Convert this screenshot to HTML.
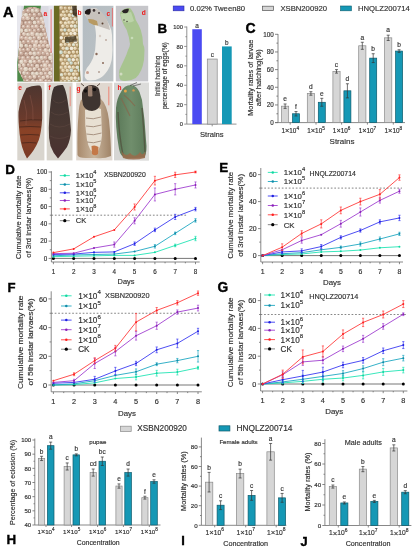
<!DOCTYPE html><html><head><meta charset="utf-8"><style>html,body{margin:0;padding:0;background:#fff;overflow:hidden}svg{display:block;will-change:transform}text{font-family:"Liberation Sans",sans-serif}</style></head><body>
<svg width="416" height="550" viewBox="0 0 416 550">
<rect width="416" height="550" fill="#fff"/>
<defs>
<pattern id="eggA" patternUnits="userSpaceOnUse" width="4.2" height="3.8" x="18" y="6">
 <rect width="4.2" height="3.8" fill="#b89888"/>
 <circle cx="2.1" cy="1.9" r="1.75" fill="#d8c4b4"/>
 <circle cx="1.7" cy="1.4" r="0.8" fill="#ece2d8"/>
</pattern>
<pattern id="eggA2" patternUnits="userSpaceOnUse" width="4.2" height="3.8" x="20.1" y="7.9">
 <circle cx="2.1" cy="1.9" r="1.5" fill="#cdb3a3" opacity="0.8"/>
</pattern>
<pattern id="eggB" patternUnits="userSpaceOnUse" width="3.6" height="3.4" x="58" y="6">
 <rect width="3.6" height="3.4" fill="#a88858"/>
 <circle cx="1.8" cy="1.7" r="1.5" fill="#e0d2b0"/>
 <circle cx="1.5" cy="1.3" r="0.7" fill="#f4f0e4"/>
</pattern>
<linearGradient id="gBgC" x1="0" y1="0" x2="1" y2="1"><stop offset="0" stop-color="#b4bcc2"/><stop offset="1" stop-color="#bcc2c4"/></linearGradient>
<linearGradient id="gE" x1="0" y1="0" x2="0" y2="1"><stop offset="0" stop-color="#4e3630"/><stop offset="0.45" stop-color="#6a3a2c"/><stop offset="0.62" stop-color="#8a4226"/><stop offset="1" stop-color="#7a3a26"/></linearGradient>
<linearGradient id="gF" x1="0" y1="0" x2="0" y2="1"><stop offset="0" stop-color="#3c3230"/><stop offset="0.6" stop-color="#4a3832"/><stop offset="1" stop-color="#4a3030"/></linearGradient>
<linearGradient id="gGw" x1="0" y1="0" x2="1" y2="0"><stop offset="0" stop-color="#a88a6c"/><stop offset="0.5" stop-color="#c8b49c"/><stop offset="1" stop-color="#a08468"/></linearGradient>
<linearGradient id="gH" x1="0" y1="0" x2="1" y2="0"><stop offset="0" stop-color="#5a7858"/><stop offset="0.5" stop-color="#708e6c"/><stop offset="1" stop-color="#5c7a5a"/></linearGradient>
</defs>
<rect x="17.30" y="5.80" width="36.20" height="75.60" fill="#dadae2" stroke="none" stroke-width="0.8" />
<rect x="17.30" y="5.80" width="4.00" height="75.60" fill="#e8e8ee" stroke="none" stroke-width="0.8" />
<rect x="48.50" y="5.80" width="5.00" height="75.60" fill="#e4e4ec" stroke="none" stroke-width="0.8" />
<path d="M24,5.8 L41,5.8 L28,81.4 L17.3,81.4 L17.3,62 Z" fill="#4e8a48"/>
<clipPath id="clipA"><path d="M23,10 Q31,4.5 40,9 Q43,16 44,22 L47,36 L50,48 L52.5,54 L52.5,81.4 L24,81.4 L18.3,70 L18.3,58 L19.5,40 L21,22 Z"/></clipPath>
<g clip-path="url(#clipA)">
<rect x="17.00" y="5.00" width="37.00" height="77.00" fill="#a88878" stroke="none" stroke-width="0.8" />
<circle cx="16.79" cy="6.65" r="2.23" fill="#d4b8a8"/>
<circle cx="16.29" cy="6.05" r="1.00" fill="#efe6dc" opacity="0.8"/>
<circle cx="21.79" cy="6.59" r="2.19" fill="#d8c8b8"/>
<circle cx="21.29" cy="5.99" r="0.99" fill="#efe6dc" opacity="0.8"/>
<circle cx="25.46" cy="6.59" r="2.11" fill="#cfb2a2"/>
<circle cx="24.96" cy="5.99" r="0.95" fill="#efe6dc" opacity="0.8"/>
<circle cx="29.71" cy="6.92" r="2.31" fill="#d4b8a8"/>
<circle cx="29.21" cy="6.32" r="1.04" fill="#efe6dc" opacity="0.8"/>
<circle cx="35.14" cy="7.13" r="2.19" fill="#d4b8a8"/>
<circle cx="34.64" cy="6.53" r="0.99" fill="#efe6dc" opacity="0.8"/>
<circle cx="39.09" cy="6.90" r="2.39" fill="#d4b8a8"/>
<circle cx="38.59" cy="6.30" r="1.07" fill="#efe6dc" opacity="0.8"/>
<circle cx="43.47" cy="6.63" r="2.11" fill="#d8c8b8"/>
<circle cx="42.97" cy="6.03" r="0.95" fill="#efe6dc" opacity="0.8"/>
<circle cx="47.34" cy="6.81" r="2.31" fill="#cfb2a2"/>
<circle cx="46.84" cy="6.21" r="1.04" fill="#efe6dc" opacity="0.8"/>
<circle cx="51.72" cy="7.07" r="1.99" fill="#d4b8a8"/>
<circle cx="51.22" cy="6.47" r="0.90" fill="#efe6dc" opacity="0.8"/>
<circle cx="19.26" cy="10.46" r="1.93" fill="#cfb2a2"/>
<circle cx="18.76" cy="9.86" r="0.87" fill="#efe6dc" opacity="0.8"/>
<circle cx="23.60" cy="10.93" r="2.29" fill="#c8aa9a"/>
<circle cx="23.10" cy="10.33" r="1.03" fill="#efe6dc" opacity="0.8"/>
<circle cx="28.10" cy="10.85" r="2.05" fill="#cfb2a2"/>
<circle cx="27.60" cy="10.25" r="0.92" fill="#efe6dc" opacity="0.8"/>
<circle cx="32.64" cy="10.64" r="2.19" fill="#d8c8b8"/>
<circle cx="32.14" cy="10.04" r="0.98" fill="#efe6dc" opacity="0.8"/>
<circle cx="36.79" cy="10.74" r="2.12" fill="#d8c8b8"/>
<circle cx="36.29" cy="10.14" r="0.96" fill="#efe6dc" opacity="0.8"/>
<circle cx="41.78" cy="10.52" r="2.11" fill="#dcc6b6"/>
<circle cx="41.28" cy="9.92" r="0.95" fill="#efe6dc" opacity="0.8"/>
<circle cx="45.18" cy="10.89" r="1.92" fill="#e0d4c4"/>
<circle cx="44.68" cy="10.29" r="0.86" fill="#efe6dc" opacity="0.8"/>
<circle cx="49.49" cy="10.96" r="2.29" fill="#dcc6b6"/>
<circle cx="48.99" cy="10.36" r="1.03" fill="#efe6dc" opacity="0.8"/>
<circle cx="54.21" cy="10.75" r="2.15" fill="#c8aa9a"/>
<circle cx="53.71" cy="10.15" r="0.97" fill="#efe6dc" opacity="0.8"/>
<circle cx="16.48" cy="14.39" r="2.03" fill="#e0d4c4"/>
<circle cx="15.98" cy="13.79" r="0.92" fill="#efe6dc" opacity="0.8"/>
<circle cx="21.60" cy="14.36" r="2.25" fill="#e0d4c4"/>
<circle cx="21.10" cy="13.76" r="1.01" fill="#efe6dc" opacity="0.8"/>
<circle cx="25.89" cy="14.98" r="2.12" fill="#e0d4c4"/>
<circle cx="25.39" cy="14.38" r="0.96" fill="#efe6dc" opacity="0.8"/>
<circle cx="30.06" cy="14.97" r="1.91" fill="#c8aa9a"/>
<circle cx="29.56" cy="14.37" r="0.86" fill="#efe6dc" opacity="0.8"/>
<circle cx="34.43" cy="14.91" r="2.15" fill="#cfb2a2"/>
<circle cx="33.93" cy="14.31" r="0.97" fill="#efe6dc" opacity="0.8"/>
<circle cx="39.32" cy="14.43" r="2.02" fill="#c8aa9a"/>
<circle cx="38.82" cy="13.83" r="0.91" fill="#efe6dc" opacity="0.8"/>
<circle cx="43.90" cy="14.80" r="1.98" fill="#c8aa9a"/>
<circle cx="43.40" cy="14.20" r="0.89" fill="#efe6dc" opacity="0.8"/>
<circle cx="47.86" cy="15.18" r="2.31" fill="#d8c8b8"/>
<circle cx="47.36" cy="14.58" r="1.04" fill="#efe6dc" opacity="0.8"/>
<circle cx="51.93" cy="14.72" r="2.08" fill="#c8aa9a"/>
<circle cx="51.43" cy="14.12" r="0.94" fill="#efe6dc" opacity="0.8"/>
<circle cx="19.75" cy="18.35" r="1.99" fill="#cfb2a2"/>
<circle cx="19.25" cy="17.75" r="0.89" fill="#efe6dc" opacity="0.8"/>
<circle cx="23.79" cy="18.21" r="2.32" fill="#cfb2a2"/>
<circle cx="23.29" cy="17.61" r="1.04" fill="#efe6dc" opacity="0.8"/>
<circle cx="27.72" cy="18.20" r="2.11" fill="#dcc6b6"/>
<circle cx="27.22" cy="17.60" r="0.95" fill="#efe6dc" opacity="0.8"/>
<circle cx="32.53" cy="18.52" r="1.96" fill="#d8c8b8"/>
<circle cx="32.03" cy="17.92" r="0.88" fill="#efe6dc" opacity="0.8"/>
<circle cx="37.34" cy="18.85" r="2.27" fill="#c8aa9a"/>
<circle cx="36.84" cy="18.25" r="1.02" fill="#efe6dc" opacity="0.8"/>
<circle cx="41.68" cy="18.98" r="2.34" fill="#d8c8b8"/>
<circle cx="41.18" cy="18.38" r="1.05" fill="#efe6dc" opacity="0.8"/>
<circle cx="45.47" cy="18.60" r="1.95" fill="#e0d4c4"/>
<circle cx="44.97" cy="18.00" r="0.88" fill="#efe6dc" opacity="0.8"/>
<circle cx="49.88" cy="18.39" r="2.39" fill="#c8aa9a"/>
<circle cx="49.38" cy="17.79" r="1.08" fill="#efe6dc" opacity="0.8"/>
<circle cx="53.99" cy="18.54" r="1.93" fill="#d4b8a8"/>
<circle cx="53.49" cy="17.94" r="0.87" fill="#efe6dc" opacity="0.8"/>
<circle cx="17.08" cy="22.64" r="2.37" fill="#d8c8b8"/>
<circle cx="16.58" cy="22.04" r="1.07" fill="#efe6dc" opacity="0.8"/>
<circle cx="20.83" cy="22.97" r="2.21" fill="#cfb2a2"/>
<circle cx="20.33" cy="22.37" r="0.99" fill="#efe6dc" opacity="0.8"/>
<circle cx="25.96" cy="23.06" r="2.20" fill="#c8aa9a"/>
<circle cx="25.46" cy="22.46" r="0.99" fill="#efe6dc" opacity="0.8"/>
<circle cx="29.75" cy="22.95" r="2.40" fill="#c8aa9a"/>
<circle cx="29.25" cy="22.35" r="1.08" fill="#efe6dc" opacity="0.8"/>
<circle cx="34.58" cy="22.41" r="1.97" fill="#e0d4c4"/>
<circle cx="34.08" cy="21.81" r="0.89" fill="#efe6dc" opacity="0.8"/>
<circle cx="38.81" cy="22.36" r="2.31" fill="#cfb2a2"/>
<circle cx="38.31" cy="21.76" r="1.04" fill="#efe6dc" opacity="0.8"/>
<circle cx="43.42" cy="22.31" r="2.38" fill="#dcc6b6"/>
<circle cx="42.92" cy="21.71" r="1.07" fill="#efe6dc" opacity="0.8"/>
<circle cx="47.38" cy="22.64" r="1.91" fill="#d8c8b8"/>
<circle cx="46.88" cy="22.04" r="0.86" fill="#efe6dc" opacity="0.8"/>
<circle cx="51.96" cy="22.74" r="1.95" fill="#dcc6b6"/>
<circle cx="51.46" cy="22.14" r="0.88" fill="#efe6dc" opacity="0.8"/>
<circle cx="19.22" cy="26.91" r="2.08" fill="#cfb2a2"/>
<circle cx="18.72" cy="26.31" r="0.94" fill="#efe6dc" opacity="0.8"/>
<circle cx="23.64" cy="26.78" r="2.06" fill="#cfb2a2"/>
<circle cx="23.14" cy="26.18" r="0.93" fill="#efe6dc" opacity="0.8"/>
<circle cx="28.14" cy="26.79" r="2.28" fill="#cfb2a2"/>
<circle cx="27.64" cy="26.19" r="1.03" fill="#efe6dc" opacity="0.8"/>
<circle cx="32.77" cy="26.82" r="2.27" fill="#cfb2a2"/>
<circle cx="32.27" cy="26.22" r="1.02" fill="#efe6dc" opacity="0.8"/>
<circle cx="36.44" cy="26.49" r="2.27" fill="#d4b8a8"/>
<circle cx="35.94" cy="25.89" r="1.02" fill="#efe6dc" opacity="0.8"/>
<circle cx="41.55" cy="26.47" r="2.00" fill="#d8c8b8"/>
<circle cx="41.05" cy="25.87" r="0.90" fill="#efe6dc" opacity="0.8"/>
<circle cx="46.15" cy="26.45" r="2.37" fill="#dcc6b6"/>
<circle cx="45.65" cy="25.85" r="1.07" fill="#efe6dc" opacity="0.8"/>
<circle cx="50.55" cy="26.36" r="2.01" fill="#cfb2a2"/>
<circle cx="50.05" cy="25.76" r="0.90" fill="#efe6dc" opacity="0.8"/>
<circle cx="54.36" cy="26.34" r="2.14" fill="#d8c8b8"/>
<circle cx="53.86" cy="25.74" r="0.96" fill="#efe6dc" opacity="0.8"/>
<circle cx="17.41" cy="30.38" r="2.23" fill="#e0d4c4"/>
<circle cx="16.91" cy="29.78" r="1.00" fill="#efe6dc" opacity="0.8"/>
<circle cx="20.90" cy="30.56" r="2.35" fill="#e0d4c4"/>
<circle cx="20.40" cy="29.96" r="1.06" fill="#efe6dc" opacity="0.8"/>
<circle cx="26.10" cy="30.38" r="1.99" fill="#e0d4c4"/>
<circle cx="25.60" cy="29.78" r="0.90" fill="#efe6dc" opacity="0.8"/>
<circle cx="30.00" cy="30.70" r="2.39" fill="#c8aa9a"/>
<circle cx="29.50" cy="30.10" r="1.07" fill="#efe6dc" opacity="0.8"/>
<circle cx="34.56" cy="30.64" r="1.94" fill="#cfb2a2"/>
<circle cx="34.06" cy="30.04" r="0.87" fill="#efe6dc" opacity="0.8"/>
<circle cx="38.60" cy="30.03" r="1.98" fill="#c8aa9a"/>
<circle cx="38.10" cy="29.43" r="0.89" fill="#efe6dc" opacity="0.8"/>
<circle cx="43.77" cy="30.05" r="2.31" fill="#c8aa9a"/>
<circle cx="43.27" cy="29.45" r="1.04" fill="#efe6dc" opacity="0.8"/>
<circle cx="47.99" cy="30.25" r="2.17" fill="#cfb2a2"/>
<circle cx="47.49" cy="29.65" r="0.98" fill="#efe6dc" opacity="0.8"/>
<circle cx="51.63" cy="30.70" r="2.26" fill="#d4b8a8"/>
<circle cx="51.13" cy="30.10" r="1.02" fill="#efe6dc" opacity="0.8"/>
<circle cx="19.23" cy="34.73" r="2.12" fill="#cfb2a2"/>
<circle cx="18.73" cy="34.13" r="0.95" fill="#efe6dc" opacity="0.8"/>
<circle cx="23.99" cy="34.01" r="2.03" fill="#dcc6b6"/>
<circle cx="23.49" cy="33.41" r="0.91" fill="#efe6dc" opacity="0.8"/>
<circle cx="28.00" cy="34.56" r="2.06" fill="#d8c8b8"/>
<circle cx="27.50" cy="33.96" r="0.93" fill="#efe6dc" opacity="0.8"/>
<circle cx="32.30" cy="33.93" r="2.36" fill="#dcc6b6"/>
<circle cx="31.80" cy="33.33" r="1.06" fill="#efe6dc" opacity="0.8"/>
<circle cx="37.28" cy="34.46" r="2.31" fill="#d8c8b8"/>
<circle cx="36.78" cy="33.86" r="1.04" fill="#efe6dc" opacity="0.8"/>
<circle cx="41.10" cy="34.72" r="2.15" fill="#d8c8b8"/>
<circle cx="40.60" cy="34.12" r="0.97" fill="#efe6dc" opacity="0.8"/>
<circle cx="45.18" cy="34.31" r="2.34" fill="#cfb2a2"/>
<circle cx="44.68" cy="33.71" r="1.05" fill="#efe6dc" opacity="0.8"/>
<circle cx="50.13" cy="34.58" r="1.97" fill="#cfb2a2"/>
<circle cx="49.63" cy="33.98" r="0.89" fill="#efe6dc" opacity="0.8"/>
<circle cx="54.37" cy="34.53" r="2.18" fill="#dcc6b6"/>
<circle cx="53.87" cy="33.93" r="0.98" fill="#efe6dc" opacity="0.8"/>
<circle cx="17.22" cy="38.23" r="2.14" fill="#d4b8a8"/>
<circle cx="16.72" cy="37.63" r="0.96" fill="#efe6dc" opacity="0.8"/>
<circle cx="21.86" cy="37.76" r="2.00" fill="#d4b8a8"/>
<circle cx="21.36" cy="37.16" r="0.90" fill="#efe6dc" opacity="0.8"/>
<circle cx="26.13" cy="38.21" r="2.18" fill="#d4b8a8"/>
<circle cx="25.63" cy="37.61" r="0.98" fill="#efe6dc" opacity="0.8"/>
<circle cx="30.13" cy="38.31" r="2.15" fill="#d8c8b8"/>
<circle cx="29.63" cy="37.71" r="0.97" fill="#efe6dc" opacity="0.8"/>
<circle cx="34.24" cy="37.98" r="2.15" fill="#c8aa9a"/>
<circle cx="33.74" cy="37.38" r="0.97" fill="#efe6dc" opacity="0.8"/>
<circle cx="39.01" cy="37.95" r="2.16" fill="#dcc6b6"/>
<circle cx="38.51" cy="37.35" r="0.97" fill="#efe6dc" opacity="0.8"/>
<circle cx="43.91" cy="38.59" r="2.00" fill="#c8aa9a"/>
<circle cx="43.41" cy="37.99" r="0.90" fill="#efe6dc" opacity="0.8"/>
<circle cx="47.36" cy="37.82" r="2.12" fill="#d4b8a8"/>
<circle cx="46.86" cy="37.22" r="0.95" fill="#efe6dc" opacity="0.8"/>
<circle cx="52.41" cy="38.13" r="2.01" fill="#dcc6b6"/>
<circle cx="51.91" cy="37.53" r="0.90" fill="#efe6dc" opacity="0.8"/>
<circle cx="19.54" cy="42.50" r="1.98" fill="#e0d4c4"/>
<circle cx="19.04" cy="41.90" r="0.89" fill="#efe6dc" opacity="0.8"/>
<circle cx="23.77" cy="41.97" r="2.03" fill="#cfb2a2"/>
<circle cx="23.27" cy="41.37" r="0.91" fill="#efe6dc" opacity="0.8"/>
<circle cx="28.56" cy="41.82" r="2.38" fill="#c8aa9a"/>
<circle cx="28.06" cy="41.22" r="1.07" fill="#efe6dc" opacity="0.8"/>
<circle cx="32.86" cy="41.76" r="2.23" fill="#cfb2a2"/>
<circle cx="32.36" cy="41.16" r="1.01" fill="#efe6dc" opacity="0.8"/>
<circle cx="36.39" cy="42.03" r="2.16" fill="#dcc6b6"/>
<circle cx="35.89" cy="41.43" r="0.97" fill="#efe6dc" opacity="0.8"/>
<circle cx="41.11" cy="41.96" r="1.95" fill="#dcc6b6"/>
<circle cx="40.61" cy="41.36" r="0.88" fill="#efe6dc" opacity="0.8"/>
<circle cx="45.02" cy="42.15" r="2.12" fill="#d4b8a8"/>
<circle cx="44.52" cy="41.55" r="0.95" fill="#efe6dc" opacity="0.8"/>
<circle cx="49.86" cy="42.12" r="2.05" fill="#d4b8a8"/>
<circle cx="49.36" cy="41.52" r="0.92" fill="#efe6dc" opacity="0.8"/>
<circle cx="53.94" cy="42.52" r="2.01" fill="#d4b8a8"/>
<circle cx="53.44" cy="41.92" r="0.91" fill="#efe6dc" opacity="0.8"/>
<circle cx="16.50" cy="45.77" r="2.35" fill="#cfb2a2"/>
<circle cx="16.00" cy="45.17" r="1.06" fill="#efe6dc" opacity="0.8"/>
<circle cx="21.12" cy="45.63" r="2.11" fill="#e0d4c4"/>
<circle cx="20.62" cy="45.03" r="0.95" fill="#efe6dc" opacity="0.8"/>
<circle cx="26.18" cy="45.76" r="1.97" fill="#d8c8b8"/>
<circle cx="25.68" cy="45.16" r="0.89" fill="#efe6dc" opacity="0.8"/>
<circle cx="30.28" cy="46.20" r="1.94" fill="#d4b8a8"/>
<circle cx="29.78" cy="45.60" r="0.88" fill="#efe6dc" opacity="0.8"/>
<circle cx="34.96" cy="45.68" r="2.35" fill="#dcc6b6"/>
<circle cx="34.46" cy="45.08" r="1.06" fill="#efe6dc" opacity="0.8"/>
<circle cx="39.53" cy="46.13" r="2.30" fill="#d4b8a8"/>
<circle cx="39.03" cy="45.53" r="1.04" fill="#efe6dc" opacity="0.8"/>
<circle cx="43.53" cy="45.72" r="2.03" fill="#d4b8a8"/>
<circle cx="43.03" cy="45.12" r="0.91" fill="#efe6dc" opacity="0.8"/>
<circle cx="47.74" cy="45.84" r="2.18" fill="#dcc6b6"/>
<circle cx="47.24" cy="45.24" r="0.98" fill="#efe6dc" opacity="0.8"/>
<circle cx="52.35" cy="45.54" r="2.25" fill="#d4b8a8"/>
<circle cx="51.85" cy="44.94" r="1.01" fill="#efe6dc" opacity="0.8"/>
<circle cx="19.76" cy="49.66" r="1.99" fill="#dcc6b6"/>
<circle cx="19.26" cy="49.06" r="0.90" fill="#efe6dc" opacity="0.8"/>
<circle cx="23.75" cy="49.93" r="2.00" fill="#c8aa9a"/>
<circle cx="23.25" cy="49.33" r="0.90" fill="#efe6dc" opacity="0.8"/>
<circle cx="28.00" cy="49.58" r="2.07" fill="#d4b8a8"/>
<circle cx="27.50" cy="48.98" r="0.93" fill="#efe6dc" opacity="0.8"/>
<circle cx="32.99" cy="49.44" r="1.91" fill="#d8c8b8"/>
<circle cx="32.49" cy="48.84" r="0.86" fill="#efe6dc" opacity="0.8"/>
<circle cx="36.86" cy="49.59" r="2.14" fill="#c8aa9a"/>
<circle cx="36.36" cy="48.99" r="0.96" fill="#efe6dc" opacity="0.8"/>
<circle cx="40.73" cy="50.22" r="2.12" fill="#c8aa9a"/>
<circle cx="40.23" cy="49.62" r="0.95" fill="#efe6dc" opacity="0.8"/>
<circle cx="45.66" cy="50.29" r="2.39" fill="#dcc6b6"/>
<circle cx="45.16" cy="49.69" r="1.07" fill="#efe6dc" opacity="0.8"/>
<circle cx="50.23" cy="50.38" r="2.07" fill="#e0d4c4"/>
<circle cx="49.73" cy="49.78" r="0.93" fill="#efe6dc" opacity="0.8"/>
<circle cx="54.67" cy="49.54" r="2.39" fill="#d4b8a8"/>
<circle cx="54.17" cy="48.94" r="1.08" fill="#efe6dc" opacity="0.8"/>
<circle cx="17.40" cy="53.31" r="2.21" fill="#dcc6b6"/>
<circle cx="16.90" cy="52.71" r="1.00" fill="#efe6dc" opacity="0.8"/>
<circle cx="21.32" cy="53.36" r="2.23" fill="#c8aa9a"/>
<circle cx="20.82" cy="52.76" r="1.00" fill="#efe6dc" opacity="0.8"/>
<circle cx="26.24" cy="53.97" r="2.04" fill="#cfb2a2"/>
<circle cx="25.74" cy="53.37" r="0.92" fill="#efe6dc" opacity="0.8"/>
<circle cx="30.43" cy="53.35" r="1.99" fill="#dcc6b6"/>
<circle cx="29.93" cy="52.75" r="0.90" fill="#efe6dc" opacity="0.8"/>
<circle cx="34.53" cy="53.56" r="2.38" fill="#d8c8b8"/>
<circle cx="34.03" cy="52.96" r="1.07" fill="#efe6dc" opacity="0.8"/>
<circle cx="38.79" cy="53.33" r="2.34" fill="#cfb2a2"/>
<circle cx="38.29" cy="52.73" r="1.05" fill="#efe6dc" opacity="0.8"/>
<circle cx="43.23" cy="53.30" r="2.09" fill="#c8aa9a"/>
<circle cx="42.73" cy="52.70" r="0.94" fill="#efe6dc" opacity="0.8"/>
<circle cx="47.53" cy="53.96" r="2.02" fill="#d4b8a8"/>
<circle cx="47.03" cy="53.36" r="0.91" fill="#efe6dc" opacity="0.8"/>
<circle cx="51.71" cy="54.12" r="1.97" fill="#d8c8b8"/>
<circle cx="51.21" cy="53.52" r="0.89" fill="#efe6dc" opacity="0.8"/>
<circle cx="18.65" cy="57.22" r="2.05" fill="#cfb2a2"/>
<circle cx="18.15" cy="56.62" r="0.92" fill="#efe6dc" opacity="0.8"/>
<circle cx="23.10" cy="58.16" r="2.33" fill="#cfb2a2"/>
<circle cx="22.60" cy="57.56" r="1.05" fill="#efe6dc" opacity="0.8"/>
<circle cx="28.19" cy="57.92" r="2.34" fill="#c8aa9a"/>
<circle cx="27.69" cy="57.32" r="1.05" fill="#efe6dc" opacity="0.8"/>
<circle cx="32.72" cy="57.92" r="2.15" fill="#dcc6b6"/>
<circle cx="32.22" cy="57.32" r="0.97" fill="#efe6dc" opacity="0.8"/>
<circle cx="37.07" cy="57.84" r="1.92" fill="#e0d4c4"/>
<circle cx="36.57" cy="57.24" r="0.86" fill="#efe6dc" opacity="0.8"/>
<circle cx="41.67" cy="57.83" r="2.27" fill="#d8c8b8"/>
<circle cx="41.17" cy="57.23" r="1.02" fill="#efe6dc" opacity="0.8"/>
<circle cx="45.17" cy="57.72" r="2.15" fill="#d4b8a8"/>
<circle cx="44.67" cy="57.12" r="0.97" fill="#efe6dc" opacity="0.8"/>
<circle cx="50.39" cy="57.78" r="2.35" fill="#e0d4c4"/>
<circle cx="49.89" cy="57.18" r="1.06" fill="#efe6dc" opacity="0.8"/>
<circle cx="54.95" cy="57.84" r="1.94" fill="#d4b8a8"/>
<circle cx="54.45" cy="57.24" r="0.87" fill="#efe6dc" opacity="0.8"/>
<circle cx="16.56" cy="61.46" r="1.95" fill="#c8aa9a"/>
<circle cx="16.06" cy="60.86" r="0.88" fill="#efe6dc" opacity="0.8"/>
<circle cx="21.47" cy="61.73" r="2.21" fill="#e0d4c4"/>
<circle cx="20.97" cy="61.13" r="1.00" fill="#efe6dc" opacity="0.8"/>
<circle cx="25.49" cy="61.36" r="2.13" fill="#d4b8a8"/>
<circle cx="24.99" cy="60.76" r="0.96" fill="#efe6dc" opacity="0.8"/>
<circle cx="30.50" cy="61.60" r="2.17" fill="#e0d4c4"/>
<circle cx="30.00" cy="61.00" r="0.98" fill="#efe6dc" opacity="0.8"/>
<circle cx="34.63" cy="61.85" r="2.14" fill="#d4b8a8"/>
<circle cx="34.13" cy="61.25" r="0.96" fill="#efe6dc" opacity="0.8"/>
<circle cx="39.42" cy="61.33" r="2.28" fill="#cfb2a2"/>
<circle cx="38.92" cy="60.73" r="1.03" fill="#efe6dc" opacity="0.8"/>
<circle cx="43.69" cy="62.08" r="2.15" fill="#c8aa9a"/>
<circle cx="43.19" cy="61.48" r="0.97" fill="#efe6dc" opacity="0.8"/>
<circle cx="47.29" cy="62.01" r="2.04" fill="#d4b8a8"/>
<circle cx="46.79" cy="61.41" r="0.92" fill="#efe6dc" opacity="0.8"/>
<circle cx="52.34" cy="61.74" r="1.94" fill="#cfb2a2"/>
<circle cx="51.84" cy="61.14" r="0.87" fill="#efe6dc" opacity="0.8"/>
<circle cx="19.00" cy="65.65" r="2.25" fill="#d8c8b8"/>
<circle cx="18.50" cy="65.05" r="1.01" fill="#efe6dc" opacity="0.8"/>
<circle cx="23.68" cy="65.01" r="1.93" fill="#dcc6b6"/>
<circle cx="23.18" cy="64.41" r="0.87" fill="#efe6dc" opacity="0.8"/>
<circle cx="28.57" cy="65.10" r="2.01" fill="#c8aa9a"/>
<circle cx="28.07" cy="64.50" r="0.90" fill="#efe6dc" opacity="0.8"/>
<circle cx="32.15" cy="65.52" r="2.13" fill="#c8aa9a"/>
<circle cx="31.65" cy="64.92" r="0.96" fill="#efe6dc" opacity="0.8"/>
<circle cx="37.12" cy="65.99" r="2.17" fill="#dcc6b6"/>
<circle cx="36.62" cy="65.39" r="0.98" fill="#efe6dc" opacity="0.8"/>
<circle cx="41.77" cy="65.94" r="1.91" fill="#c8aa9a"/>
<circle cx="41.27" cy="65.34" r="0.86" fill="#efe6dc" opacity="0.8"/>
<circle cx="45.09" cy="65.51" r="2.40" fill="#dcc6b6"/>
<circle cx="44.59" cy="64.91" r="1.08" fill="#efe6dc" opacity="0.8"/>
<circle cx="49.86" cy="65.92" r="2.37" fill="#d4b8a8"/>
<circle cx="49.36" cy="65.32" r="1.06" fill="#efe6dc" opacity="0.8"/>
<circle cx="54.50" cy="65.14" r="2.16" fill="#dcc6b6"/>
<circle cx="54.00" cy="64.54" r="0.97" fill="#efe6dc" opacity="0.8"/>
<circle cx="16.56" cy="69.72" r="2.15" fill="#d4b8a8"/>
<circle cx="16.06" cy="69.12" r="0.97" fill="#efe6dc" opacity="0.8"/>
<circle cx="21.64" cy="69.13" r="2.35" fill="#c8aa9a"/>
<circle cx="21.14" cy="68.53" r="1.06" fill="#efe6dc" opacity="0.8"/>
<circle cx="25.67" cy="69.06" r="2.37" fill="#e0d4c4"/>
<circle cx="25.17" cy="68.46" r="1.07" fill="#efe6dc" opacity="0.8"/>
<circle cx="30.14" cy="69.20" r="1.97" fill="#dcc6b6"/>
<circle cx="29.64" cy="68.60" r="0.89" fill="#efe6dc" opacity="0.8"/>
<circle cx="34.45" cy="69.02" r="2.07" fill="#dcc6b6"/>
<circle cx="33.95" cy="68.42" r="0.93" fill="#efe6dc" opacity="0.8"/>
<circle cx="39.30" cy="69.74" r="1.96" fill="#cfb2a2"/>
<circle cx="38.80" cy="69.14" r="0.88" fill="#efe6dc" opacity="0.8"/>
<circle cx="43.66" cy="69.80" r="2.04" fill="#dcc6b6"/>
<circle cx="43.16" cy="69.20" r="0.92" fill="#efe6dc" opacity="0.8"/>
<circle cx="47.28" cy="69.29" r="2.33" fill="#d4b8a8"/>
<circle cx="46.78" cy="68.69" r="1.05" fill="#efe6dc" opacity="0.8"/>
<circle cx="52.03" cy="69.33" r="2.04" fill="#d4b8a8"/>
<circle cx="51.53" cy="68.73" r="0.92" fill="#efe6dc" opacity="0.8"/>
<circle cx="18.94" cy="72.85" r="2.23" fill="#e0d4c4"/>
<circle cx="18.44" cy="72.25" r="1.00" fill="#efe6dc" opacity="0.8"/>
<circle cx="24.12" cy="73.05" r="2.03" fill="#d8c8b8"/>
<circle cx="23.62" cy="72.45" r="0.91" fill="#efe6dc" opacity="0.8"/>
<circle cx="27.78" cy="73.57" r="2.29" fill="#c8aa9a"/>
<circle cx="27.28" cy="72.97" r="1.03" fill="#efe6dc" opacity="0.8"/>
<circle cx="32.86" cy="73.61" r="2.22" fill="#d8c8b8"/>
<circle cx="32.36" cy="73.01" r="1.00" fill="#efe6dc" opacity="0.8"/>
<circle cx="36.86" cy="73.52" r="1.92" fill="#e0d4c4"/>
<circle cx="36.36" cy="72.92" r="0.87" fill="#efe6dc" opacity="0.8"/>
<circle cx="41.09" cy="73.41" r="1.97" fill="#dcc6b6"/>
<circle cx="40.59" cy="72.81" r="0.89" fill="#efe6dc" opacity="0.8"/>
<circle cx="45.58" cy="73.71" r="2.18" fill="#cfb2a2"/>
<circle cx="45.08" cy="73.11" r="0.98" fill="#efe6dc" opacity="0.8"/>
<circle cx="49.97" cy="73.14" r="2.05" fill="#e0d4c4"/>
<circle cx="49.47" cy="72.54" r="0.92" fill="#efe6dc" opacity="0.8"/>
<circle cx="54.69" cy="73.45" r="2.10" fill="#cfb2a2"/>
<circle cx="54.19" cy="72.85" r="0.95" fill="#efe6dc" opacity="0.8"/>
<circle cx="16.76" cy="77.26" r="2.10" fill="#cfb2a2"/>
<circle cx="16.26" cy="76.66" r="0.94" fill="#efe6dc" opacity="0.8"/>
<circle cx="21.57" cy="76.78" r="2.15" fill="#c8aa9a"/>
<circle cx="21.07" cy="76.18" r="0.97" fill="#efe6dc" opacity="0.8"/>
<circle cx="25.86" cy="77.15" r="2.07" fill="#c8aa9a"/>
<circle cx="25.36" cy="76.55" r="0.93" fill="#efe6dc" opacity="0.8"/>
<circle cx="30.11" cy="77.25" r="2.02" fill="#cfb2a2"/>
<circle cx="29.61" cy="76.65" r="0.91" fill="#efe6dc" opacity="0.8"/>
<circle cx="34.41" cy="76.79" r="2.02" fill="#dcc6b6"/>
<circle cx="33.91" cy="76.19" r="0.91" fill="#efe6dc" opacity="0.8"/>
<circle cx="39.37" cy="76.90" r="1.91" fill="#c8aa9a"/>
<circle cx="38.87" cy="76.30" r="0.86" fill="#efe6dc" opacity="0.8"/>
<circle cx="43.26" cy="77.45" r="2.01" fill="#dcc6b6"/>
<circle cx="42.76" cy="76.85" r="0.90" fill="#efe6dc" opacity="0.8"/>
<circle cx="47.61" cy="76.76" r="2.04" fill="#dcc6b6"/>
<circle cx="47.11" cy="76.16" r="0.92" fill="#efe6dc" opacity="0.8"/>
<circle cx="51.75" cy="77.20" r="2.21" fill="#cfb2a2"/>
<circle cx="51.25" cy="76.60" r="1.00" fill="#efe6dc" opacity="0.8"/>
<circle cx="18.71" cy="81.50" r="2.09" fill="#e0d4c4"/>
<circle cx="18.21" cy="80.90" r="0.94" fill="#efe6dc" opacity="0.8"/>
<circle cx="23.54" cy="81.55" r="2.32" fill="#d4b8a8"/>
<circle cx="23.04" cy="80.95" r="1.05" fill="#efe6dc" opacity="0.8"/>
<circle cx="27.55" cy="81.03" r="2.28" fill="#c8aa9a"/>
<circle cx="27.05" cy="80.43" r="1.03" fill="#efe6dc" opacity="0.8"/>
<circle cx="32.96" cy="81.09" r="1.94" fill="#d8c8b8"/>
<circle cx="32.46" cy="80.49" r="0.87" fill="#efe6dc" opacity="0.8"/>
<circle cx="37.23" cy="81.57" r="2.02" fill="#d4b8a8"/>
<circle cx="36.73" cy="80.97" r="0.91" fill="#efe6dc" opacity="0.8"/>
<circle cx="40.87" cy="80.75" r="2.39" fill="#d4b8a8"/>
<circle cx="40.37" cy="80.15" r="1.07" fill="#efe6dc" opacity="0.8"/>
<circle cx="46.13" cy="81.32" r="2.22" fill="#c8aa9a"/>
<circle cx="45.63" cy="80.72" r="1.00" fill="#efe6dc" opacity="0.8"/>
<circle cx="49.50" cy="81.38" r="1.90" fill="#cfb2a2"/>
<circle cx="49.00" cy="80.78" r="0.86" fill="#efe6dc" opacity="0.8"/>
<circle cx="54.08" cy="81.52" r="2.22" fill="#dcc6b6"/>
<circle cx="53.58" cy="80.92" r="1.00" fill="#efe6dc" opacity="0.8"/>
</g>
<line x1="51.10" y1="9.30" x2="51.10" y2="52.70" stroke="#f04848" stroke-width="0.7" />
<text x="43.60" y="15.60" font-family="Liberation Serif" font-weight="bold" font-size="6.6" fill="#f01818">a</text>
<rect x="53.90" y="5.80" width="28.50" height="75.60" fill="#f2f0ee" stroke="none" stroke-width="0.8" />
<path d="M53.9,5.8 L76.6,5.8 L80.6,81.4 L53.9,81.4 Z" fill="#6a6a24"/>
<clipPath id="clipB"><path d="M59.2,5.8 L76.6,5.8 L79.8,81.4 L59.6,81.4 Z"/></clipPath>
<g clip-path="url(#clipB)">
<rect x="58.00" y="5.00" width="23.00" height="77.00" fill="#a88c60" stroke="none" stroke-width="0.8" />
<circle cx="61.16" cy="7.85" r="1.97" fill="#d4c098"/>
<circle cx="60.76" cy="7.45" r="0.89" fill="#faf6ec" opacity="0.6"/>
<circle cx="65.16" cy="8.08" r="1.68" fill="#d4c098"/>
<circle cx="64.76" cy="7.68" r="0.75" fill="#faf6ec" opacity="0.6"/>
<circle cx="69.30" cy="8.03" r="1.64" fill="#e0cca4"/>
<circle cx="68.90" cy="7.63" r="0.74" fill="#faf6ec" opacity="0.6"/>
<circle cx="72.91" cy="7.83" r="1.96" fill="#e4d4b0"/>
<circle cx="72.51" cy="7.43" r="0.88" fill="#faf6ec" opacity="0.6"/>
<circle cx="77.28" cy="7.72" r="1.78" fill="#eadec4"/>
<circle cx="76.88" cy="7.32" r="0.80" fill="#faf6ec" opacity="0.6"/>
<circle cx="63.30" cy="11.77" r="1.63" fill="#e4d4b0"/>
<circle cx="62.90" cy="11.37" r="0.73" fill="#faf6ec" opacity="0.6"/>
<circle cx="66.95" cy="11.29" r="1.61" fill="#d4c098"/>
<circle cx="66.55" cy="10.89" r="0.73" fill="#faf6ec" opacity="0.6"/>
<circle cx="71.06" cy="11.57" r="1.68" fill="#d8dcc8"/>
<circle cx="70.66" cy="11.17" r="0.76" fill="#faf6ec" opacity="0.6"/>
<circle cx="75.31" cy="11.50" r="1.86" fill="#d4c098"/>
<circle cx="74.91" cy="11.10" r="0.84" fill="#faf6ec" opacity="0.6"/>
<circle cx="79.32" cy="11.43" r="1.82" fill="#dccaa4"/>
<circle cx="78.92" cy="11.03" r="0.82" fill="#faf6ec" opacity="0.6"/>
<circle cx="61.37" cy="15.05" r="1.69" fill="#e0cca4"/>
<circle cx="60.97" cy="14.65" r="0.76" fill="#faf6ec" opacity="0.6"/>
<circle cx="64.82" cy="15.25" r="1.64" fill="#dccaa4"/>
<circle cx="64.42" cy="14.85" r="0.74" fill="#faf6ec" opacity="0.6"/>
<circle cx="69.48" cy="15.11" r="1.98" fill="#e4d4b0"/>
<circle cx="69.08" cy="14.71" r="0.89" fill="#faf6ec" opacity="0.6"/>
<circle cx="72.97" cy="15.54" r="1.62" fill="#c8d8cc"/>
<circle cx="72.57" cy="15.14" r="0.73" fill="#faf6ec" opacity="0.6"/>
<circle cx="77.58" cy="15.12" r="1.63" fill="#d8dcc8"/>
<circle cx="77.18" cy="14.72" r="0.73" fill="#faf6ec" opacity="0.6"/>
<circle cx="63.42" cy="18.72" r="1.63" fill="#f0e8d6"/>
<circle cx="63.02" cy="18.32" r="0.74" fill="#faf6ec" opacity="0.6"/>
<circle cx="66.81" cy="18.83" r="1.97" fill="#eadec4"/>
<circle cx="66.41" cy="18.43" r="0.89" fill="#faf6ec" opacity="0.6"/>
<circle cx="71.00" cy="18.58" r="1.62" fill="#d4c098"/>
<circle cx="70.60" cy="18.18" r="0.73" fill="#faf6ec" opacity="0.6"/>
<circle cx="74.94" cy="18.95" r="1.78" fill="#d8dcc8"/>
<circle cx="74.54" cy="18.55" r="0.80" fill="#faf6ec" opacity="0.6"/>
<circle cx="79.59" cy="19.12" r="1.77" fill="#c8d8cc"/>
<circle cx="79.19" cy="18.72" r="0.80" fill="#faf6ec" opacity="0.6"/>
<circle cx="60.89" cy="22.54" r="1.69" fill="#e0cca4"/>
<circle cx="60.49" cy="22.14" r="0.76" fill="#faf6ec" opacity="0.6"/>
<circle cx="65.49" cy="22.98" r="1.84" fill="#e4d4b0"/>
<circle cx="65.09" cy="22.58" r="0.83" fill="#faf6ec" opacity="0.6"/>
<circle cx="68.97" cy="22.52" r="1.94" fill="#dccaa4"/>
<circle cx="68.57" cy="22.12" r="0.87" fill="#faf6ec" opacity="0.6"/>
<circle cx="72.83" cy="22.32" r="1.78" fill="#e4d4b0"/>
<circle cx="72.43" cy="21.92" r="0.80" fill="#faf6ec" opacity="0.6"/>
<circle cx="77.42" cy="22.46" r="1.72" fill="#dccaa4"/>
<circle cx="77.02" cy="22.06" r="0.77" fill="#faf6ec" opacity="0.6"/>
<circle cx="62.86" cy="26.07" r="1.85" fill="#e4d4b0"/>
<circle cx="62.46" cy="25.67" r="0.83" fill="#faf6ec" opacity="0.6"/>
<circle cx="67.28" cy="26.20" r="1.78" fill="#d4c098"/>
<circle cx="66.88" cy="25.80" r="0.80" fill="#faf6ec" opacity="0.6"/>
<circle cx="71.47" cy="26.01" r="1.75" fill="#eadec4"/>
<circle cx="71.07" cy="25.61" r="0.79" fill="#faf6ec" opacity="0.6"/>
<circle cx="75.05" cy="26.08" r="1.84" fill="#d8dcc8"/>
<circle cx="74.65" cy="25.68" r="0.83" fill="#faf6ec" opacity="0.6"/>
<circle cx="78.93" cy="26.40" r="1.82" fill="#c8d8cc"/>
<circle cx="78.53" cy="26.00" r="0.82" fill="#faf6ec" opacity="0.6"/>
<circle cx="61.51" cy="30.08" r="1.77" fill="#dccaa4"/>
<circle cx="61.11" cy="29.68" r="0.80" fill="#faf6ec" opacity="0.6"/>
<circle cx="64.89" cy="30.01" r="1.70" fill="#c8d8cc"/>
<circle cx="64.49" cy="29.61" r="0.77" fill="#faf6ec" opacity="0.6"/>
<circle cx="69.01" cy="30.26" r="1.84" fill="#e0cca4"/>
<circle cx="68.61" cy="29.86" r="0.83" fill="#faf6ec" opacity="0.6"/>
<circle cx="73.22" cy="30.34" r="1.99" fill="#eadec4"/>
<circle cx="72.82" cy="29.94" r="0.90" fill="#faf6ec" opacity="0.6"/>
<circle cx="76.98" cy="30.05" r="1.94" fill="#dccaa4"/>
<circle cx="76.58" cy="29.65" r="0.87" fill="#faf6ec" opacity="0.6"/>
<circle cx="63.02" cy="34.03" r="1.68" fill="#e4d4b0"/>
<circle cx="62.62" cy="33.63" r="0.76" fill="#faf6ec" opacity="0.6"/>
<circle cx="66.86" cy="33.63" r="1.70" fill="#e4d4b0"/>
<circle cx="66.46" cy="33.23" r="0.76" fill="#faf6ec" opacity="0.6"/>
<circle cx="70.94" cy="33.60" r="1.83" fill="#eadec4"/>
<circle cx="70.54" cy="33.20" r="0.82" fill="#faf6ec" opacity="0.6"/>
<circle cx="74.87" cy="33.41" r="1.78" fill="#f0e8d6"/>
<circle cx="74.47" cy="33.01" r="0.80" fill="#faf6ec" opacity="0.6"/>
<circle cx="79.33" cy="33.85" r="1.83" fill="#eadec4"/>
<circle cx="78.93" cy="33.45" r="0.83" fill="#faf6ec" opacity="0.6"/>
<circle cx="61.27" cy="37.74" r="1.79" fill="#f0e8d6"/>
<circle cx="60.87" cy="37.34" r="0.81" fill="#faf6ec" opacity="0.6"/>
<circle cx="65.36" cy="37.77" r="1.61" fill="#dccaa4"/>
<circle cx="64.96" cy="37.37" r="0.72" fill="#faf6ec" opacity="0.6"/>
<circle cx="69.19" cy="37.58" r="1.73" fill="#dccaa4"/>
<circle cx="68.79" cy="37.18" r="0.78" fill="#faf6ec" opacity="0.6"/>
<circle cx="72.86" cy="37.44" r="1.89" fill="#eadec4"/>
<circle cx="72.46" cy="37.04" r="0.85" fill="#faf6ec" opacity="0.6"/>
<circle cx="77.43" cy="37.73" r="1.74" fill="#d4c098"/>
<circle cx="77.03" cy="37.33" r="0.78" fill="#faf6ec" opacity="0.6"/>
<circle cx="63.52" cy="41.40" r="1.77" fill="#e4d4b0"/>
<circle cx="63.12" cy="41.00" r="0.80" fill="#faf6ec" opacity="0.6"/>
<circle cx="67.49" cy="41.16" r="1.85" fill="#c8d8cc"/>
<circle cx="67.09" cy="40.76" r="0.83" fill="#faf6ec" opacity="0.6"/>
<circle cx="71.10" cy="40.71" r="1.63" fill="#dccaa4"/>
<circle cx="70.70" cy="40.31" r="0.73" fill="#faf6ec" opacity="0.6"/>
<circle cx="75.31" cy="41.49" r="1.95" fill="#f0e8d6"/>
<circle cx="74.91" cy="41.09" r="0.88" fill="#faf6ec" opacity="0.6"/>
<circle cx="79.11" cy="41.29" r="1.83" fill="#d4c098"/>
<circle cx="78.71" cy="40.89" r="0.82" fill="#faf6ec" opacity="0.6"/>
<circle cx="61.17" cy="44.83" r="1.81" fill="#e4d4b0"/>
<circle cx="60.77" cy="44.43" r="0.81" fill="#faf6ec" opacity="0.6"/>
<circle cx="65.05" cy="44.47" r="1.61" fill="#dccaa4"/>
<circle cx="64.65" cy="44.07" r="0.72" fill="#faf6ec" opacity="0.6"/>
<circle cx="69.20" cy="44.89" r="1.97" fill="#e0cca4"/>
<circle cx="68.80" cy="44.49" r="0.89" fill="#faf6ec" opacity="0.6"/>
<circle cx="73.52" cy="44.69" r="1.66" fill="#d8dcc8"/>
<circle cx="73.12" cy="44.29" r="0.75" fill="#faf6ec" opacity="0.6"/>
<circle cx="77.21" cy="45.00" r="1.74" fill="#d4c098"/>
<circle cx="76.81" cy="44.60" r="0.78" fill="#faf6ec" opacity="0.6"/>
<circle cx="63.20" cy="48.29" r="1.76" fill="#e0cca4"/>
<circle cx="62.80" cy="47.89" r="0.79" fill="#faf6ec" opacity="0.6"/>
<circle cx="66.96" cy="48.44" r="1.92" fill="#d8dcc8"/>
<circle cx="66.56" cy="48.04" r="0.87" fill="#faf6ec" opacity="0.6"/>
<circle cx="71.50" cy="48.41" r="1.83" fill="#f0e8d6"/>
<circle cx="71.10" cy="48.01" r="0.82" fill="#faf6ec" opacity="0.6"/>
<circle cx="74.97" cy="48.21" r="1.74" fill="#e4d4b0"/>
<circle cx="74.57" cy="47.81" r="0.78" fill="#faf6ec" opacity="0.6"/>
<circle cx="79.37" cy="48.86" r="1.71" fill="#eadec4"/>
<circle cx="78.97" cy="48.46" r="0.77" fill="#faf6ec" opacity="0.6"/>
<circle cx="60.89" cy="52.18" r="1.97" fill="#c8d8cc"/>
<circle cx="60.49" cy="51.78" r="0.89" fill="#faf6ec" opacity="0.6"/>
<circle cx="65.11" cy="52.22" r="1.87" fill="#d4c098"/>
<circle cx="64.71" cy="51.82" r="0.84" fill="#faf6ec" opacity="0.6"/>
<circle cx="69.06" cy="52.46" r="1.71" fill="#e4d4b0"/>
<circle cx="68.66" cy="52.06" r="0.77" fill="#faf6ec" opacity="0.6"/>
<circle cx="73.34" cy="52.02" r="1.74" fill="#e4d4b0"/>
<circle cx="72.94" cy="51.62" r="0.78" fill="#faf6ec" opacity="0.6"/>
<circle cx="77.31" cy="52.12" r="1.68" fill="#e0cca4"/>
<circle cx="76.91" cy="51.72" r="0.75" fill="#faf6ec" opacity="0.6"/>
<circle cx="62.99" cy="55.61" r="1.62" fill="#dccaa4"/>
<circle cx="62.59" cy="55.21" r="0.73" fill="#faf6ec" opacity="0.6"/>
<circle cx="67.16" cy="56.00" r="1.86" fill="#f0e8d6"/>
<circle cx="66.76" cy="55.60" r="0.84" fill="#faf6ec" opacity="0.6"/>
<circle cx="71.57" cy="56.05" r="1.68" fill="#d4c098"/>
<circle cx="71.17" cy="55.65" r="0.76" fill="#faf6ec" opacity="0.6"/>
<circle cx="75.00" cy="56.07" r="1.90" fill="#e4d4b0"/>
<circle cx="74.60" cy="55.67" r="0.86" fill="#faf6ec" opacity="0.6"/>
<circle cx="78.94" cy="55.72" r="1.74" fill="#eadec4"/>
<circle cx="78.54" cy="55.32" r="0.78" fill="#faf6ec" opacity="0.6"/>
<circle cx="61.11" cy="59.83" r="1.96" fill="#dccaa4"/>
<circle cx="60.71" cy="59.43" r="0.88" fill="#faf6ec" opacity="0.6"/>
<circle cx="65.13" cy="59.91" r="1.76" fill="#d4c098"/>
<circle cx="64.73" cy="59.51" r="0.79" fill="#faf6ec" opacity="0.6"/>
<circle cx="69.16" cy="59.70" r="1.96" fill="#c8d8cc"/>
<circle cx="68.76" cy="59.30" r="0.88" fill="#faf6ec" opacity="0.6"/>
<circle cx="73.24" cy="59.72" r="1.80" fill="#f0e8d6"/>
<circle cx="72.84" cy="59.32" r="0.81" fill="#faf6ec" opacity="0.6"/>
<circle cx="77.17" cy="59.72" r="1.68" fill="#dccaa4"/>
<circle cx="76.77" cy="59.32" r="0.76" fill="#faf6ec" opacity="0.6"/>
<circle cx="62.97" cy="63.62" r="1.99" fill="#e0cca4"/>
<circle cx="62.57" cy="63.22" r="0.90" fill="#faf6ec" opacity="0.6"/>
<circle cx="67.23" cy="63.53" r="1.73" fill="#e4d4b0"/>
<circle cx="66.83" cy="63.13" r="0.78" fill="#faf6ec" opacity="0.6"/>
<circle cx="71.08" cy="62.97" r="1.78" fill="#c8d8cc"/>
<circle cx="70.68" cy="62.57" r="0.80" fill="#faf6ec" opacity="0.6"/>
<circle cx="75.41" cy="63.29" r="1.61" fill="#dccaa4"/>
<circle cx="75.01" cy="62.89" r="0.73" fill="#faf6ec" opacity="0.6"/>
<circle cx="79.14" cy="62.93" r="1.81" fill="#eadec4"/>
<circle cx="78.74" cy="62.53" r="0.82" fill="#faf6ec" opacity="0.6"/>
<circle cx="61.18" cy="67.40" r="1.96" fill="#d4c098"/>
<circle cx="60.78" cy="67.00" r="0.88" fill="#faf6ec" opacity="0.6"/>
<circle cx="65.56" cy="66.99" r="1.98" fill="#dccaa4"/>
<circle cx="65.16" cy="66.59" r="0.89" fill="#faf6ec" opacity="0.6"/>
<circle cx="69.41" cy="66.95" r="1.82" fill="#eadec4"/>
<circle cx="69.01" cy="66.55" r="0.82" fill="#faf6ec" opacity="0.6"/>
<circle cx="73.22" cy="67.27" r="1.82" fill="#e0cca4"/>
<circle cx="72.82" cy="66.87" r="0.82" fill="#faf6ec" opacity="0.6"/>
<circle cx="77.34" cy="67.36" r="1.95" fill="#d8dcc8"/>
<circle cx="76.94" cy="66.96" r="0.88" fill="#faf6ec" opacity="0.6"/>
<circle cx="63.04" cy="70.41" r="1.82" fill="#e0cca4"/>
<circle cx="62.64" cy="70.01" r="0.82" fill="#faf6ec" opacity="0.6"/>
<circle cx="67.26" cy="70.46" r="1.81" fill="#e4d4b0"/>
<circle cx="66.86" cy="70.06" r="0.82" fill="#faf6ec" opacity="0.6"/>
<circle cx="71.28" cy="70.32" r="1.99" fill="#c8d8cc"/>
<circle cx="70.88" cy="69.92" r="0.89" fill="#faf6ec" opacity="0.6"/>
<circle cx="75.24" cy="71.09" r="1.65" fill="#dccaa4"/>
<circle cx="74.84" cy="70.69" r="0.74" fill="#faf6ec" opacity="0.6"/>
<circle cx="79.35" cy="70.35" r="1.82" fill="#c8d8cc"/>
<circle cx="78.95" cy="69.95" r="0.82" fill="#faf6ec" opacity="0.6"/>
<circle cx="61.54" cy="74.64" r="1.76" fill="#d8dcc8"/>
<circle cx="61.14" cy="74.24" r="0.79" fill="#faf6ec" opacity="0.6"/>
<circle cx="65.18" cy="74.10" r="1.77" fill="#d4c098"/>
<circle cx="64.78" cy="73.70" r="0.80" fill="#faf6ec" opacity="0.6"/>
<circle cx="69.22" cy="74.09" r="1.77" fill="#e4d4b0"/>
<circle cx="68.82" cy="73.69" r="0.80" fill="#faf6ec" opacity="0.6"/>
<circle cx="73.54" cy="74.10" r="1.91" fill="#e4d4b0"/>
<circle cx="73.14" cy="73.70" r="0.86" fill="#faf6ec" opacity="0.6"/>
<circle cx="76.83" cy="74.12" r="1.60" fill="#e0cca4"/>
<circle cx="76.43" cy="73.72" r="0.72" fill="#faf6ec" opacity="0.6"/>
<circle cx="63.06" cy="77.98" r="1.85" fill="#dccaa4"/>
<circle cx="62.66" cy="77.58" r="0.83" fill="#faf6ec" opacity="0.6"/>
<circle cx="67.20" cy="78.17" r="1.94" fill="#e0cca4"/>
<circle cx="66.80" cy="77.77" r="0.87" fill="#faf6ec" opacity="0.6"/>
<circle cx="71.37" cy="78.26" r="1.95" fill="#e4d4b0"/>
<circle cx="70.97" cy="77.86" r="0.88" fill="#faf6ec" opacity="0.6"/>
<circle cx="75.10" cy="78.03" r="1.81" fill="#eadec4"/>
<circle cx="74.70" cy="77.63" r="0.82" fill="#faf6ec" opacity="0.6"/>
<circle cx="79.23" cy="78.39" r="1.81" fill="#d8dcc8"/>
<circle cx="78.83" cy="77.99" r="0.82" fill="#faf6ec" opacity="0.6"/>
<circle cx="61.22" cy="82.08" r="1.84" fill="#eadec4"/>
<circle cx="60.82" cy="81.68" r="0.83" fill="#faf6ec" opacity="0.6"/>
<circle cx="64.99" cy="81.99" r="1.92" fill="#eadec4"/>
<circle cx="64.59" cy="81.59" r="0.87" fill="#faf6ec" opacity="0.6"/>
<circle cx="69.05" cy="81.65" r="1.97" fill="#d8dcc8"/>
<circle cx="68.65" cy="81.25" r="0.89" fill="#faf6ec" opacity="0.6"/>
<circle cx="73.42" cy="81.56" r="1.64" fill="#d8dcc8"/>
<circle cx="73.02" cy="81.16" r="0.74" fill="#faf6ec" opacity="0.6"/>
<circle cx="76.91" cy="81.47" r="1.76" fill="#c8d8cc"/>
<circle cx="76.51" cy="81.07" r="0.79" fill="#faf6ec" opacity="0.6"/>
</g>
<path d="M72,6 L76.6,6 L77.2,17 L73,15 Z" fill="#2e2418" opacity="0.8"/>
<path d="M65,37 L76,36 L77,41.5 L65,42.5 Z" fill="#3a2e1a" opacity="0.75"/>
<text x="77.60" y="15.20" font-family="Liberation Serif" font-weight="bold" font-size="6.6" fill="#f01818">b</text>
<rect x="82.60" y="5.80" width="30.80" height="75.60" fill="url(#gBgC)" stroke="none" stroke-width="0.8" />
<path d="M84.2,12 Q88,7.8 96,8.2 Q100,10.5 103,15 Q107,20 109.3,25 Q112,30 112,35 L112.5,50 Q112.2,56 111.7,60 Q110.5,66 107.9,70 Q104,76 100.2,78 Q96,80.5 90,80.6 Q85,80.2 84.6,76 Q84.4,72 86.9,68 Q89.5,65 91.1,62 Q93.5,58 93.9,55 Q95.5,50 95.5,45 Q96,38 96,35 Q95.5,28 94.6,25 Q92,22 89.7,20 Q86.5,17.5 85,15 Z" fill="#eeece8"/>
<path d="M85,12 Q88,8 96,8.5 Q102,11 106,18 Q109,24 110,30 Q104,28 98,26 Q92,22 88,19 Q85,16 85,12 Z" fill="#c8c2bc"/>
<path d="M84.8,11.5 Q86.5,8.6 90.5,8.8 Q91.5,12 89.5,14.5 Q86.5,15 84.8,13.5 Z" fill="#201818"/>
<circle cx="94" cy="10.4" r="1.3" fill="#3a3030"/><circle cx="99" cy="13" r="0.9" fill="#403434"/>
<path d="M88,19 Q93,18.5 97,21 L98,25.5 Q93,25.5 89,22.5 Z" fill="#b89a62"/>
<circle cx="102.5" cy="23.5" r="1" fill="#5a4030"/><circle cx="96.5" cy="54" r="1.2" fill="#8a6a5a"/><circle cx="103" cy="63" r="1" fill="#8a6a5a"/><circle cx="87.5" cy="72.5" r="1.5" fill="#c8a090"/><circle cx="99" cy="72" r="0.8" fill="#8a6a5a"/><circle cx="106" cy="40" r="0.8" fill="#a08070"/><circle cx="100" cy="36" r="1.2" fill="#d8ccc4"/>
<line x1="112.40" y1="8.00" x2="112.40" y2="26.50" stroke="#f05050" stroke-width="0.7" />
<text x="106.60" y="15.80" font-family="Liberation Serif" font-weight="bold" font-size="6.6" fill="#f01818">c</text>
<rect x="115.80" y="5.80" width="32.40" height="75.60" fill="#c6c6ca" stroke="none" stroke-width="0.8" />
<path d="M120,13 Q123,7.6 130,8 Q134,12 135.8,20 Q139,25 140.8,30 Q143,37 143,44 Q144.5,47 144.5,50 L144,60 Q143,66 141.3,70 Q139,75 135.8,78 Q131,81 125,81 Q120,80.8 119.5,78 Q118.5,74 119.4,70 Q121.5,65 124,60 Q126.5,55 128,50 Q130,46 130,44 Q129,36 126.7,30 Q123.5,25 121.7,20 Q120.3,16 120,13 Z" fill="#a8c490"/>
<path d="M121.8,11.2 Q124,8.2 128.8,8.8 Q129,12.6 125.8,13.6 Q123,13.6 121.8,11.2 Z" fill="#2a2424"/>
<path d="M120.5,14 Q125,14 131,12 L134,21 Q128,24 122.5,21 Z" fill="#bcd4a8"/>
<circle cx="124" cy="20" r="0.7" fill="#403a30"/><circle cx="127" cy="21.5" r="0.7" fill="#403a30"/><circle cx="132" cy="38" r="1.3" fill="#c8dcb8"/><circle cx="121" cy="74" r="1.5" fill="#d0dcc0"/>
<text x="141.80" y="15.40" font-family="Liberation Serif" font-weight="bold" font-size="6.6" fill="#f01818">d</text>
<rect x="17.30" y="82.70" width="27.10" height="77.70" fill="#d9d5ce" stroke="none" stroke-width="0.8" />
<path d="M26.5,88 Q32,85 39.5,85.5 Q42,86.5 42,92 L42.2,118 Q41.5,132 38.8,140 Q35,150 27,158.5 Q21,148 19.6,134 Q18.2,120 18.5,112 Q20,100 26.5,88 Z" fill="url(#gE)"/>
<path d="M20,121 Q30,119 42,120 M19.5,127 Q30,126 41,127 M20.5,135 Q30,134 39,135 M22,143 Q30,142 36.5,143" stroke="#3a2018" stroke-width="0.9" fill="none" opacity="0.7"/>
<path d="M24,100 Q28,112 26,125 M30,95 Q34,108 33,120" stroke="#9a6050" stroke-width="0.6" fill="none" opacity="0.6"/>
<text x="18.20" y="90.20" font-family="Liberation Serif" font-weight="bold" font-size="6.6" fill="#f01818">e</text>
<rect x="46.70" y="82.70" width="25.80" height="77.70" fill="#d8d4cc" stroke="none" stroke-width="0.8" />
<path d="M54,87 Q58,84.5 63,85 Q66,90 67.5,100 Q70,115 71,130 Q70.5,140 67,147 Q62,154 58,158.5 Q53,153 50.5,146 Q48.5,138 48.8,128 Q49.5,110 51.5,96 Q52.5,90 54,87 Z" fill="url(#gF)"/>
<path d="M53,100 Q58,106 66,100 M51,112 Q58,118 68,112 M50,124 Q59,130 70,124 M50,136 Q59,141 69,136" stroke="#6a5048" stroke-width="0.6" fill="none" opacity="0.6"/>
<line x1="70.20" y1="86.50" x2="70.20" y2="106.20" stroke="#f07060" stroke-width="0.7" />
<text x="48.40" y="90.20" font-family="Liberation Serif" font-weight="bold" font-size="6.6" fill="#f01818">f</text>
<rect x="76.20" y="82.70" width="36.20" height="77.70" fill="#e0d8d0" stroke="none" stroke-width="0.8" />
<path d="M81,100 Q90,94 100,98 Q107,104 109,120 Q111,140 111,156 Q104,159 96,158 L86,158 Q78,158 77.5,155 Q77,130 78.5,115 Q79,104 81,100 Z" fill="url(#gGw)"/>
<path d="M85,110 Q93,106 101,109 L102,135 Q101,148 96,154 Q89,152 87,140 Q84.5,125 85,110 Z" fill="#e8e0d2"/>
<path d="M86,118 Q93,120 101,117 M86,126 Q93,128 101.5,125 M86.5,134 Q93,136 101.5,133 M87,142 Q93,144 101,141" stroke="#a08a78" stroke-width="0.9" fill="none"/>
<path d="M82,93 Q84,86 90,85 Q96,84.5 99,89 Q101,96 100.5,104 Q99,110 92,111 Q85,110.5 83,105 Q81.5,99 82,93 Z" fill="#3e3430"/>
<path d="M88,86 Q90,85 92,86 L92.5,96 Q90,97 88,96 Z" fill="#9a8070"/>
<path d="M84,86 L81,83.5 M97,86 L100,83.5" stroke="#4a3a30" stroke-width="0.9"/>
<circle cx="85.5" cy="91" r="1.8" fill="#141010"/><circle cx="94.5" cy="89.5" r="1.8" fill="#141010"/>
<path d="M91.5,146 Q95,144.5 98.5,147 L98,154 Q95,156.5 92,154 Z" fill="#c47848"/>
<line x1="108.80" y1="86.60" x2="108.80" y2="105.30" stroke="#f07060" stroke-width="0.8" />
<text x="76.60" y="91.40" font-family="Liberation Serif" font-weight="bold" font-size="6.6" fill="#f01818">g</text>
<rect x="114.00" y="82.70" width="34.90" height="77.70" fill="#d6d6d4" stroke="none" stroke-width="0.8" />
<rect x="140.00" y="82.70" width="8.90" height="77.70" fill="#dcdcda" stroke="none" stroke-width="0.8" />
<path d="M121,92 Q124,85 131,85 Q137,86 139.5,92 L142,100 Q145,120 146,140 Q147.5,152 144.5,157.5 L126,158.5 Q120.5,157 119,149 Q115,126 116,108 Q116.8,98 121,92 Z" fill="url(#gH)"/>
<path d="M118,112 Q119,135 123,155 M142,108 Q144,130 145,152" stroke="#4a4032" stroke-width="1.4" fill="none" opacity="0.55"/>
<path d="M121,98 Q125,106 130,116 M124,95 Q130,100 135,106" stroke="#8a6448" stroke-width="1.1" opacity="0.7" fill="none"/>
<path d="M121,150 Q125,158 130,153 Q135,159 140,152 Q143,157 145.5,151 L145,158 Q133,161 123,158 Z" fill="#9a6a4a" opacity="0.85"/>
<path d="M130,85.5 L137,82.5 M133,86 L141,84" stroke="#3a3a36" stroke-width="0.6"/>
<circle cx="125.4" cy="91" r="1.5" fill="#e8a448"/><circle cx="133.5" cy="90.4" r="1.2" fill="#d89850"/>
<text x="117.40" y="89.80" font-family="Liberation Serif" font-weight="bold" font-size="6.6" fill="#f01818">h</text>
<text x="3.00" y="16.60" font-size="14.6" font-weight="bold" fill="#000" stroke="#000" stroke-width="0.35">A</text>
<text x="157.40" y="33.40" font-size="13.4" font-weight="bold" fill="#000" stroke="#000" stroke-width="0.35">B</text>
<text x="245.60" y="33.20" font-size="14.0" font-weight="bold" fill="#000" stroke="#000" stroke-width="0.35">C</text>
<text x="5.30" y="173.60" font-size="13.4" font-weight="bold" fill="#000" stroke="#000" stroke-width="0.35">D</text>
<text x="219.30" y="172.10" font-size="13.4" font-weight="bold" fill="#000" stroke="#000" stroke-width="0.35">E</text>
<text x="7.40" y="292.40" font-size="13.2" font-weight="bold" fill="#000" stroke="#000" stroke-width="0.35">F</text>
<text x="217.60" y="291.90" font-size="13.8" font-weight="bold" fill="#000" stroke="#000" stroke-width="0.35">G</text>
<text x="6.50" y="544.30" font-size="13.4" font-weight="bold" fill="#000" stroke="#000" stroke-width="0.35">H</text>
<text x="181.20" y="544.50" font-size="12.8" font-weight="bold" fill="#000" stroke="#000" stroke-width="0.35">I</text>
<text x="300.60" y="545.60" font-size="12.8" font-weight="bold" fill="#000" stroke="#000" stroke-width="0.35">J</text>
<rect x="173.20" y="6.00" width="10.80" height="4.80" fill="#4a4af2" stroke="#2a2aa0" stroke-width="0.6" />
<text x="190.00" y="10.90" font-size="7.7" text-anchor="start" font-weight="normal" fill="#303030" stroke="#303030" stroke-width="0.16" >0.02% Tween80</text>
<rect x="262.40" y="6.20" width="11.20" height="4.40" fill="#d6d6d6" stroke="#555" stroke-width="0.7" />
<text x="280.40" y="10.90" font-size="7.7" text-anchor="start" font-weight="normal" fill="#303030" stroke="#303030" stroke-width="0.16" >XSBN200920</text>
<rect x="340.60" y="6.00" width="10.80" height="4.80" fill="#1598b5" stroke="#0c5a6c" stroke-width="0.6" />
<text x="358.00" y="10.90" font-size="7.7" text-anchor="start" font-weight="normal" fill="#303030" stroke="#303030" stroke-width="0.16" >HNQLZ200714</text>
<line x1="186.80" y1="26.50" x2="186.80" y2="124.10" stroke="#777" stroke-width="0.8" />
<line x1="184.20" y1="124.10" x2="186.80" y2="124.10" stroke="#777" stroke-width="0.8" />
<text x="183.00" y="126.19" font-size="5.8" text-anchor="end" font-weight="normal" fill="#333" stroke="#333" stroke-width="0.16" >0</text>
<line x1="184.20" y1="104.68" x2="186.80" y2="104.68" stroke="#777" stroke-width="0.8" />
<text x="183.00" y="106.77" font-size="5.8" text-anchor="end" font-weight="normal" fill="#333" stroke="#333" stroke-width="0.16" >20</text>
<line x1="184.20" y1="85.26" x2="186.80" y2="85.26" stroke="#777" stroke-width="0.8" />
<text x="183.00" y="87.35" font-size="5.8" text-anchor="end" font-weight="normal" fill="#333" stroke="#333" stroke-width="0.16" >40</text>
<line x1="184.20" y1="65.84" x2="186.80" y2="65.84" stroke="#777" stroke-width="0.8" />
<text x="183.00" y="67.93" font-size="5.8" text-anchor="end" font-weight="normal" fill="#333" stroke="#333" stroke-width="0.16" >60</text>
<line x1="184.20" y1="46.42" x2="186.80" y2="46.42" stroke="#777" stroke-width="0.8" />
<text x="183.00" y="48.51" font-size="5.8" text-anchor="end" font-weight="normal" fill="#333" stroke="#333" stroke-width="0.16" >80</text>
<line x1="184.20" y1="27.00" x2="186.80" y2="27.00" stroke="#777" stroke-width="0.8" />
<text x="183.00" y="29.09" font-size="5.8" text-anchor="end" font-weight="normal" fill="#333" stroke="#333" stroke-width="0.16" >100</text>
<line x1="185.40" y1="114.39" x2="186.80" y2="114.39" stroke="#777" stroke-width="0.8" />
<line x1="185.40" y1="94.97" x2="186.80" y2="94.97" stroke="#777" stroke-width="0.8" />
<line x1="185.40" y1="75.55" x2="186.80" y2="75.55" stroke="#777" stroke-width="0.8" />
<line x1="185.40" y1="56.13" x2="186.80" y2="56.13" stroke="#777" stroke-width="0.8" />
<line x1="185.40" y1="36.71" x2="186.80" y2="36.71" stroke="#777" stroke-width="0.8" />
<line x1="186.80" y1="124.10" x2="236.50" y2="124.10" stroke="#777" stroke-width="0.8" />
<line x1="212.20" y1="124.10" x2="212.20" y2="126.30" stroke="#777" stroke-width="0.8" />
<rect x="192.30" y="29.23" width="9.50" height="94.87" fill="#4a4af2" stroke="none" stroke-width="0.7" />
<text x="197.05" y="27.83" font-size="6.4" text-anchor="middle" font-weight="normal" fill="#333" stroke="#333" stroke-width="0.16" >a</text>
<rect x="207.30" y="59.04" width="9.90" height="65.06" fill="#d6d6d6" stroke="#8a8a8a" stroke-width="0.7" />
<text x="212.25" y="57.44" font-size="6.4" text-anchor="middle" font-weight="normal" fill="#333" stroke="#333" stroke-width="0.16" >c</text>
<rect x="222.00" y="46.42" width="9.70" height="77.68" fill="#1598b5" stroke="none" stroke-width="0.7" />
<text x="226.85" y="45.02" font-size="6.4" text-anchor="middle" font-weight="normal" fill="#333" stroke="#333" stroke-width="0.16" >b</text>
<text x="211.80" y="137.00" font-size="7.6" text-anchor="middle" font-weight="normal" fill="#303030" stroke="#303030" stroke-width="0.16" >Strains</text>
<text transform="translate(159.90,96.08) rotate(-90)" font-size="6.3" fill="#333" stroke="#333" stroke-width="0.16" textLength="40.46" lengthAdjust="spacingAndGlyphs">Initial hatching</text>
<text transform="translate(167.40,109.09) rotate(-90)" font-size="6.5" fill="#333" stroke="#333" stroke-width="0.16" textLength="66.88" lengthAdjust="spacingAndGlyphs">percentage of eggs(%)</text>
<line x1="278.00" y1="34.00" x2="278.00" y2="122.60" stroke="#6a6a6a" stroke-width="0.8" />
<line x1="275.00" y1="122.60" x2="278.00" y2="122.60" stroke="#6a6a6a" stroke-width="0.8" />
<text x="273.80" y="124.87" font-size="6.3" text-anchor="end" font-weight="normal" fill="#303030" stroke="#303030" stroke-width="0.16" >0</text>
<line x1="275.00" y1="104.94" x2="278.00" y2="104.94" stroke="#6a6a6a" stroke-width="0.8" />
<text x="273.80" y="107.21" font-size="6.3" text-anchor="end" font-weight="normal" fill="#303030" stroke="#303030" stroke-width="0.16" >20</text>
<line x1="275.00" y1="87.28" x2="278.00" y2="87.28" stroke="#6a6a6a" stroke-width="0.8" />
<text x="273.80" y="89.55" font-size="6.3" text-anchor="end" font-weight="normal" fill="#303030" stroke="#303030" stroke-width="0.16" >40</text>
<line x1="275.00" y1="69.62" x2="278.00" y2="69.62" stroke="#6a6a6a" stroke-width="0.8" />
<text x="273.80" y="71.89" font-size="6.3" text-anchor="end" font-weight="normal" fill="#303030" stroke="#303030" stroke-width="0.16" >60</text>
<line x1="275.00" y1="51.96" x2="278.00" y2="51.96" stroke="#6a6a6a" stroke-width="0.8" />
<text x="273.80" y="54.23" font-size="6.3" text-anchor="end" font-weight="normal" fill="#303030" stroke="#303030" stroke-width="0.16" >80</text>
<line x1="275.00" y1="34.30" x2="278.00" y2="34.30" stroke="#6a6a6a" stroke-width="0.8" />
<text x="273.80" y="36.57" font-size="6.3" text-anchor="end" font-weight="normal" fill="#303030" stroke="#303030" stroke-width="0.16" >100</text>
<line x1="276.40" y1="113.77" x2="278.00" y2="113.77" stroke="#6a6a6a" stroke-width="0.8" />
<line x1="276.40" y1="96.11" x2="278.00" y2="96.11" stroke="#6a6a6a" stroke-width="0.8" />
<line x1="276.40" y1="78.45" x2="278.00" y2="78.45" stroke="#6a6a6a" stroke-width="0.8" />
<line x1="276.40" y1="60.79" x2="278.00" y2="60.79" stroke="#6a6a6a" stroke-width="0.8" />
<line x1="276.40" y1="43.13" x2="278.00" y2="43.13" stroke="#6a6a6a" stroke-width="0.8" />
<line x1="275.00" y1="122.60" x2="405.00" y2="122.60" stroke="#6a6a6a" stroke-width="0.8" />
<line x1="290.20" y1="122.60" x2="290.20" y2="124.60" stroke="#6a6a6a" stroke-width="0.8" />
<rect x="281.50" y="106.18" width="7.20" height="16.42" fill="#d6d6d6" stroke="#8a8a8a" stroke-width="0.7" />
<line x1="285.10" y1="103.97" x2="285.10" y2="108.38" stroke="#333" stroke-width="0.7" />
<line x1="283.60" y1="103.97" x2="286.60" y2="103.97" stroke="#333" stroke-width="0.7" />
<line x1="283.60" y1="108.38" x2="286.60" y2="108.38" stroke="#333" stroke-width="0.7" />
<text x="285.10" y="101.27" font-size="6.6" text-anchor="middle" font-weight="normal" fill="#333" stroke="#333" stroke-width="0.16" >e</text>
<rect x="292.50" y="113.77" width="7.00" height="8.83" fill="#1598b5" stroke="#0c5a6c" stroke-width="0.7" />
<line x1="296.00" y1="111.56" x2="296.00" y2="115.98" stroke="#333" stroke-width="0.7" />
<line x1="294.50" y1="111.56" x2="297.50" y2="111.56" stroke="#333" stroke-width="0.7" />
<line x1="294.50" y1="115.98" x2="297.50" y2="115.98" stroke="#333" stroke-width="0.7" />
<text x="296.00" y="108.86" font-size="6.6" text-anchor="middle" font-weight="normal" fill="#333" stroke="#333" stroke-width="0.16" >f</text>
<text x="281.43" y="133.00" font-size="6.4" fill="#303030" stroke="#303030" stroke-width="0.16">1<tspan font-size="7.36" dy="0.38">×</tspan><tspan dy="-0.38">10</tspan><tspan font-size="4.74" dy="-3.33">4</tspan></text>
<line x1="316.00" y1="122.60" x2="316.00" y2="124.60" stroke="#6a6a6a" stroke-width="0.8" />
<rect x="307.30" y="93.46" width="7.20" height="29.14" fill="#d6d6d6" stroke="#8a8a8a" stroke-width="0.7" />
<line x1="310.90" y1="91.69" x2="310.90" y2="95.23" stroke="#333" stroke-width="0.7" />
<line x1="309.40" y1="91.69" x2="312.40" y2="91.69" stroke="#333" stroke-width="0.7" />
<line x1="309.40" y1="95.23" x2="312.40" y2="95.23" stroke="#333" stroke-width="0.7" />
<text x="310.90" y="88.99" font-size="6.6" text-anchor="middle" font-weight="normal" fill="#333" stroke="#333" stroke-width="0.16" >d</text>
<rect x="318.30" y="102.29" width="7.00" height="20.31" fill="#1598b5" stroke="#0c5a6c" stroke-width="0.7" />
<line x1="321.80" y1="98.32" x2="321.80" y2="106.26" stroke="#333" stroke-width="0.7" />
<line x1="320.30" y1="98.32" x2="323.30" y2="98.32" stroke="#333" stroke-width="0.7" />
<line x1="320.30" y1="106.26" x2="323.30" y2="106.26" stroke="#333" stroke-width="0.7" />
<text x="321.80" y="95.62" font-size="6.6" text-anchor="middle" font-weight="normal" fill="#333" stroke="#333" stroke-width="0.16" >e</text>
<text x="307.23" y="133.00" font-size="6.4" fill="#303030" stroke="#303030" stroke-width="0.16">1<tspan font-size="7.36" dy="0.38">×</tspan><tspan dy="-0.38">10</tspan><tspan font-size="4.74" dy="-3.33">5</tspan></text>
<line x1="341.60" y1="122.60" x2="341.60" y2="124.60" stroke="#6a6a6a" stroke-width="0.8" />
<rect x="332.90" y="71.39" width="7.20" height="51.21" fill="#d6d6d6" stroke="#8a8a8a" stroke-width="0.7" />
<line x1="336.50" y1="69.62" x2="336.50" y2="73.15" stroke="#333" stroke-width="0.7" />
<line x1="335.00" y1="69.62" x2="338.00" y2="69.62" stroke="#333" stroke-width="0.7" />
<line x1="335.00" y1="73.15" x2="338.00" y2="73.15" stroke="#333" stroke-width="0.7" />
<text x="336.50" y="66.92" font-size="6.6" text-anchor="middle" font-weight="normal" fill="#333" stroke="#333" stroke-width="0.16" >c</text>
<rect x="343.90" y="90.81" width="7.00" height="31.79" fill="#1598b5" stroke="#0c5a6c" stroke-width="0.7" />
<line x1="347.40" y1="83.75" x2="347.40" y2="97.88" stroke="#333" stroke-width="0.7" />
<line x1="345.90" y1="83.75" x2="348.90" y2="83.75" stroke="#333" stroke-width="0.7" />
<line x1="345.90" y1="97.88" x2="348.90" y2="97.88" stroke="#333" stroke-width="0.7" />
<text x="347.40" y="81.05" font-size="6.6" text-anchor="middle" font-weight="normal" fill="#333" stroke="#333" stroke-width="0.16" >d</text>
<text x="332.83" y="133.00" font-size="6.4" fill="#303030" stroke="#303030" stroke-width="0.16">1<tspan font-size="7.36" dy="0.38">×</tspan><tspan dy="-0.38">10</tspan><tspan font-size="4.74" dy="-3.33">6</tspan></text>
<line x1="367.40" y1="122.60" x2="367.40" y2="124.60" stroke="#6a6a6a" stroke-width="0.8" />
<rect x="358.70" y="45.78" width="7.20" height="76.82" fill="#d6d6d6" stroke="#8a8a8a" stroke-width="0.7" />
<line x1="362.30" y1="42.25" x2="362.30" y2="49.31" stroke="#333" stroke-width="0.7" />
<line x1="360.80" y1="42.25" x2="363.80" y2="42.25" stroke="#333" stroke-width="0.7" />
<line x1="360.80" y1="49.31" x2="363.80" y2="49.31" stroke="#333" stroke-width="0.7" />
<text x="362.30" y="39.55" font-size="6.6" text-anchor="middle" font-weight="normal" fill="#333" stroke="#333" stroke-width="0.16" >a</text>
<rect x="369.70" y="58.14" width="7.00" height="64.46" fill="#1598b5" stroke="#0c5a6c" stroke-width="0.7" />
<line x1="373.20" y1="53.73" x2="373.20" y2="62.56" stroke="#333" stroke-width="0.7" />
<line x1="371.70" y1="53.73" x2="374.70" y2="53.73" stroke="#333" stroke-width="0.7" />
<line x1="371.70" y1="62.56" x2="374.70" y2="62.56" stroke="#333" stroke-width="0.7" />
<text x="373.20" y="51.03" font-size="6.6" text-anchor="middle" font-weight="normal" fill="#333" stroke="#333" stroke-width="0.16" >b</text>
<text x="358.63" y="133.00" font-size="6.4" fill="#303030" stroke="#303030" stroke-width="0.16">1<tspan font-size="7.36" dy="0.38">×</tspan><tspan dy="-0.38">10</tspan><tspan font-size="4.74" dy="-3.33">7</tspan></text>
<line x1="393.30" y1="122.60" x2="393.30" y2="124.60" stroke="#6a6a6a" stroke-width="0.8" />
<rect x="384.60" y="37.83" width="7.20" height="84.77" fill="#d6d6d6" stroke="#8a8a8a" stroke-width="0.7" />
<line x1="388.20" y1="35.18" x2="388.20" y2="40.48" stroke="#333" stroke-width="0.7" />
<line x1="386.70" y1="35.18" x2="389.70" y2="35.18" stroke="#333" stroke-width="0.7" />
<line x1="386.70" y1="40.48" x2="389.70" y2="40.48" stroke="#333" stroke-width="0.7" />
<text x="388.20" y="32.48" font-size="6.6" text-anchor="middle" font-weight="normal" fill="#333" stroke="#333" stroke-width="0.16" >a</text>
<rect x="395.60" y="51.08" width="7.00" height="71.52" fill="#1598b5" stroke="#0c5a6c" stroke-width="0.7" />
<line x1="399.10" y1="49.75" x2="399.10" y2="52.40" stroke="#333" stroke-width="0.7" />
<line x1="397.60" y1="49.75" x2="400.60" y2="49.75" stroke="#333" stroke-width="0.7" />
<line x1="397.60" y1="52.40" x2="400.60" y2="52.40" stroke="#333" stroke-width="0.7" />
<text x="399.10" y="47.05" font-size="6.6" text-anchor="middle" font-weight="normal" fill="#333" stroke="#333" stroke-width="0.16" >b</text>
<text x="384.53" y="133.00" font-size="6.4" fill="#303030" stroke="#303030" stroke-width="0.16">1<tspan font-size="7.36" dy="0.38">×</tspan><tspan dy="-0.38">10</tspan><tspan font-size="4.74" dy="-3.33">8</tspan></text>
<text x="342.00" y="143.60" font-size="8.0" text-anchor="middle" font-weight="normal" fill="#303030" stroke="#303030" stroke-width="0.16" >Strains</text>
<text transform="translate(253.00,115.74) rotate(-90)" font-size="7.3" fill="#303030" stroke="#303030" stroke-width="0.16" textLength="76.08" lengthAdjust="spacingAndGlyphs">Mortality rates of larvae</text>
<text transform="translate(261.00,106.24) rotate(-90)" font-size="7.4" fill="#303030" stroke="#303030" stroke-width="0.16" textLength="57.09" lengthAdjust="spacingAndGlyphs">after hatching(%)</text>
<rect x="120.40" y="426.20" width="10.80" height="5.20" fill="#d6d6d6" stroke="#8a8a8a" stroke-width="0.7" />
<text x="137.30" y="431.40" font-size="8.2" text-anchor="start" font-weight="normal" fill="#303030" stroke="#303030" stroke-width="0.16" >XSBN200920</text>
<rect x="219.00" y="425.80" width="10.90" height="5.20" fill="#1598b5" stroke="#0c5a6c" stroke-width="0.7" />
<text x="236.40" y="431.20" font-size="8.35" text-anchor="start" font-weight="normal" fill="#303030" stroke="#303030" stroke-width="0.16" >HNQLZ200714</text>
<line x1="34.80" y1="438.50" x2="34.80" y2="525.00" stroke="#6a6a6a" stroke-width="0.8" />
<line x1="32.40" y1="525.00" x2="34.80" y2="525.00" stroke="#6a6a6a" stroke-width="0.8" />
<text x="31.20" y="527.20" font-size="6.0" text-anchor="end" font-weight="normal" fill="#303030" stroke="#303030" stroke-width="0.16" >40</text>
<line x1="32.40" y1="510.83" x2="34.80" y2="510.83" stroke="#6a6a6a" stroke-width="0.8" />
<text x="31.20" y="513.03" font-size="6.0" text-anchor="end" font-weight="normal" fill="#303030" stroke="#303030" stroke-width="0.16" >50</text>
<line x1="32.40" y1="496.67" x2="34.80" y2="496.67" stroke="#6a6a6a" stroke-width="0.8" />
<text x="31.20" y="498.87" font-size="6.0" text-anchor="end" font-weight="normal" fill="#303030" stroke="#303030" stroke-width="0.16" >60</text>
<line x1="32.40" y1="482.50" x2="34.80" y2="482.50" stroke="#6a6a6a" stroke-width="0.8" />
<text x="31.20" y="484.70" font-size="6.0" text-anchor="end" font-weight="normal" fill="#303030" stroke="#303030" stroke-width="0.16" >70</text>
<line x1="32.40" y1="468.33" x2="34.80" y2="468.33" stroke="#6a6a6a" stroke-width="0.8" />
<text x="31.20" y="470.53" font-size="6.0" text-anchor="end" font-weight="normal" fill="#303030" stroke="#303030" stroke-width="0.16" >80</text>
<line x1="32.40" y1="454.17" x2="34.80" y2="454.17" stroke="#6a6a6a" stroke-width="0.8" />
<text x="31.20" y="456.37" font-size="6.0" text-anchor="end" font-weight="normal" fill="#303030" stroke="#303030" stroke-width="0.16" >90</text>
<line x1="32.40" y1="440.00" x2="34.80" y2="440.00" stroke="#6a6a6a" stroke-width="0.8" />
<text x="31.20" y="442.20" font-size="6.0" text-anchor="end" font-weight="normal" fill="#303030" stroke="#303030" stroke-width="0.16" >100</text>
<line x1="33.50" y1="517.92" x2="34.80" y2="517.92" stroke="#6a6a6a" stroke-width="0.8" />
<line x1="33.50" y1="503.75" x2="34.80" y2="503.75" stroke="#6a6a6a" stroke-width="0.8" />
<line x1="33.50" y1="489.58" x2="34.80" y2="489.58" stroke="#6a6a6a" stroke-width="0.8" />
<line x1="33.50" y1="475.42" x2="34.80" y2="475.42" stroke="#6a6a6a" stroke-width="0.8" />
<line x1="33.50" y1="461.25" x2="34.80" y2="461.25" stroke="#6a6a6a" stroke-width="0.8" />
<line x1="33.50" y1="447.08" x2="34.80" y2="447.08" stroke="#6a6a6a" stroke-width="0.8" />
<line x1="34.80" y1="525.00" x2="160.50" y2="525.00" stroke="#6a6a6a" stroke-width="0.8" />
<line x1="46.00" y1="525.00" x2="46.00" y2="527.00" stroke="#6a6a6a" stroke-width="0.8" />
<rect x="38.50" y="458.42" width="6.20" height="66.58" fill="#d6d6d6" stroke="#8a8a8a" stroke-width="0.7" />
<line x1="41.60" y1="456.29" x2="41.60" y2="460.54" stroke="#333" stroke-width="0.7" />
<line x1="40.10" y1="456.29" x2="43.10" y2="456.29" stroke="#333" stroke-width="0.7" />
<line x1="40.10" y1="460.54" x2="43.10" y2="460.54" stroke="#333" stroke-width="0.7" />
<text x="41.60" y="453.59" font-size="6.5" text-anchor="middle" font-weight="normal" fill="#333" stroke="#333" stroke-width="0.16" >b</text>
<rect x="47.40" y="445.67" width="6.60" height="79.33" fill="#1598b5" stroke="#0c5a6c" stroke-width="0.7" />
<line x1="50.70" y1="442.12" x2="50.70" y2="449.21" stroke="#333" stroke-width="0.7" />
<line x1="49.20" y1="442.12" x2="52.20" y2="442.12" stroke="#333" stroke-width="0.7" />
<line x1="49.20" y1="449.21" x2="52.20" y2="449.21" stroke="#333" stroke-width="0.7" />
<text x="50.70" y="439.42" font-size="6.5" text-anchor="middle" font-weight="normal" fill="#333" stroke="#333" stroke-width="0.16" >a</text>
<text x="37.51" y="534.00" font-size="6.2" fill="#303030" stroke="#303030" stroke-width="0.16">1<tspan font-size="7.13" dy="0.37">×</tspan><tspan dy="-0.37">10</tspan><tspan font-size="4.59" dy="-3.22">4</tspan></text>
<line x1="71.60" y1="525.00" x2="71.60" y2="527.00" stroke="#6a6a6a" stroke-width="0.8" />
<rect x="64.10" y="466.49" width="6.20" height="58.51" fill="#d6d6d6" stroke="#8a8a8a" stroke-width="0.7" />
<line x1="67.20" y1="462.95" x2="67.20" y2="470.03" stroke="#333" stroke-width="0.7" />
<line x1="65.70" y1="462.95" x2="68.70" y2="462.95" stroke="#333" stroke-width="0.7" />
<line x1="65.70" y1="470.03" x2="68.70" y2="470.03" stroke="#333" stroke-width="0.7" />
<text x="67.20" y="460.25" font-size="6.5" text-anchor="middle" font-weight="normal" fill="#333" stroke="#333" stroke-width="0.16" >c</text>
<rect x="73.00" y="454.88" width="6.60" height="70.12" fill="#1598b5" stroke="#0c5a6c" stroke-width="0.7" />
<line x1="76.30" y1="453.88" x2="76.30" y2="455.87" stroke="#333" stroke-width="0.7" />
<line x1="74.80" y1="453.88" x2="77.80" y2="453.88" stroke="#333" stroke-width="0.7" />
<line x1="74.80" y1="455.87" x2="77.80" y2="455.87" stroke="#333" stroke-width="0.7" />
<text x="76.30" y="451.18" font-size="6.5" text-anchor="middle" font-weight="normal" fill="#333" stroke="#333" stroke-width="0.16" >b</text>
<text x="63.11" y="534.00" font-size="6.2" fill="#303030" stroke="#303030" stroke-width="0.16">1<tspan font-size="7.13" dy="0.37">×</tspan><tspan dy="-0.37">10</tspan><tspan font-size="4.59" dy="-3.22">5</tspan></text>
<line x1="97.60" y1="525.00" x2="97.60" y2="527.00" stroke="#6a6a6a" stroke-width="0.8" />
<rect x="90.10" y="472.58" width="6.20" height="52.42" fill="#d6d6d6" stroke="#8a8a8a" stroke-width="0.7" />
<line x1="93.20" y1="469.04" x2="93.20" y2="476.12" stroke="#333" stroke-width="0.7" />
<line x1="91.70" y1="469.04" x2="94.70" y2="469.04" stroke="#333" stroke-width="0.7" />
<line x1="91.70" y1="476.12" x2="94.70" y2="476.12" stroke="#333" stroke-width="0.7" />
<text x="93.20" y="466.34" font-size="6.5" text-anchor="middle" font-weight="normal" fill="#333" stroke="#333" stroke-width="0.16" >cd</text>
<rect x="99.00" y="461.25" width="6.60" height="63.75" fill="#1598b5" stroke="#0c5a6c" stroke-width="0.7" />
<line x1="102.30" y1="457.00" x2="102.30" y2="465.50" stroke="#333" stroke-width="0.7" />
<line x1="100.80" y1="457.00" x2="103.80" y2="457.00" stroke="#333" stroke-width="0.7" />
<line x1="100.80" y1="465.50" x2="103.80" y2="465.50" stroke="#333" stroke-width="0.7" />
<text x="102.30" y="454.30" font-size="6.5" text-anchor="middle" font-weight="normal" fill="#333" stroke="#333" stroke-width="0.16" >bc</text>
<text x="89.11" y="534.00" font-size="6.2" fill="#303030" stroke="#303030" stroke-width="0.16">1<tspan font-size="7.13" dy="0.37">×</tspan><tspan dy="-0.37">10</tspan><tspan font-size="4.59" dy="-3.22">6</tspan></text>
<line x1="123.40" y1="525.00" x2="123.40" y2="527.00" stroke="#6a6a6a" stroke-width="0.8" />
<rect x="115.90" y="486.04" width="6.20" height="38.96" fill="#d6d6d6" stroke="#8a8a8a" stroke-width="0.7" />
<line x1="119.00" y1="483.92" x2="119.00" y2="488.17" stroke="#333" stroke-width="0.7" />
<line x1="117.50" y1="483.92" x2="120.50" y2="483.92" stroke="#333" stroke-width="0.7" />
<line x1="117.50" y1="488.17" x2="120.50" y2="488.17" stroke="#333" stroke-width="0.7" />
<text x="119.00" y="481.22" font-size="6.5" text-anchor="middle" font-weight="normal" fill="#333" stroke="#333" stroke-width="0.16" >e</text>
<rect x="124.80" y="472.58" width="6.60" height="52.42" fill="#1598b5" stroke="#0c5a6c" stroke-width="0.7" />
<line x1="128.10" y1="469.04" x2="128.10" y2="476.12" stroke="#333" stroke-width="0.7" />
<line x1="126.60" y1="469.04" x2="129.60" y2="469.04" stroke="#333" stroke-width="0.7" />
<line x1="126.60" y1="476.12" x2="129.60" y2="476.12" stroke="#333" stroke-width="0.7" />
<text x="128.10" y="466.34" font-size="6.5" text-anchor="middle" font-weight="normal" fill="#333" stroke="#333" stroke-width="0.16" >d</text>
<text x="114.91" y="534.00" font-size="6.2" fill="#303030" stroke="#303030" stroke-width="0.16">1<tspan font-size="7.13" dy="0.37">×</tspan><tspan dy="-0.37">10</tspan><tspan font-size="4.59" dy="-3.22">7</tspan></text>
<line x1="149.30" y1="525.00" x2="149.30" y2="527.00" stroke="#6a6a6a" stroke-width="0.8" />
<rect x="141.80" y="497.66" width="6.20" height="27.34" fill="#d6d6d6" stroke="#8a8a8a" stroke-width="0.7" />
<line x1="144.90" y1="496.24" x2="144.90" y2="499.08" stroke="#333" stroke-width="0.7" />
<line x1="143.40" y1="496.24" x2="146.40" y2="496.24" stroke="#333" stroke-width="0.7" />
<line x1="143.40" y1="499.08" x2="146.40" y2="499.08" stroke="#333" stroke-width="0.7" />
<text x="144.90" y="493.54" font-size="6.5" text-anchor="middle" font-weight="normal" fill="#333" stroke="#333" stroke-width="0.16" >f</text>
<rect x="150.70" y="481.51" width="6.60" height="43.49" fill="#1598b5" stroke="#0c5a6c" stroke-width="0.7" />
<line x1="154.00" y1="479.81" x2="154.00" y2="483.21" stroke="#333" stroke-width="0.7" />
<line x1="152.50" y1="479.81" x2="155.50" y2="479.81" stroke="#333" stroke-width="0.7" />
<line x1="152.50" y1="483.21" x2="155.50" y2="483.21" stroke="#333" stroke-width="0.7" />
<text x="154.00" y="477.11" font-size="6.5" text-anchor="middle" font-weight="normal" fill="#333" stroke="#333" stroke-width="0.16" >e</text>
<text x="140.81" y="534.00" font-size="6.2" fill="#303030" stroke="#303030" stroke-width="0.16">1<tspan font-size="7.13" dy="0.37">×</tspan><tspan dy="-0.37">10</tspan><tspan font-size="4.59" dy="-3.22">8</tspan></text>
<text x="98.20" y="544.70" font-size="6.9" text-anchor="middle" font-weight="normal" fill="#303030" stroke="#303030" stroke-width="0.16" >Concentration</text>
<text x="97.80" y="444.20" font-size="6.2" text-anchor="middle" font-weight="normal" fill="#303030" stroke="#303030" stroke-width="0.16" >pupae</text>
<text transform="translate(14.90,524.92) rotate(-90)" font-size="7.0" fill="#303030" stroke="#303030" stroke-width="0.16" textLength="85.14" lengthAdjust="spacingAndGlyphs">Percentage of eclosion (%)</text>
<line x1="201.40" y1="437.60" x2="201.40" y2="525.30" stroke="#6a6a6a" stroke-width="0.8" />
<line x1="198.80" y1="525.30" x2="201.40" y2="525.30" stroke="#6a6a6a" stroke-width="0.8" />
<text x="197.60" y="527.53" font-size="6.2" text-anchor="end" font-weight="normal" fill="#303030" stroke="#303030" stroke-width="0.16" >0</text>
<line x1="198.80" y1="505.70" x2="201.40" y2="505.70" stroke="#6a6a6a" stroke-width="0.8" />
<text x="197.60" y="507.93" font-size="6.2" text-anchor="end" font-weight="normal" fill="#303030" stroke="#303030" stroke-width="0.16" >20</text>
<line x1="198.80" y1="486.10" x2="201.40" y2="486.10" stroke="#6a6a6a" stroke-width="0.8" />
<text x="197.60" y="488.33" font-size="6.2" text-anchor="end" font-weight="normal" fill="#303030" stroke="#303030" stroke-width="0.16" >40</text>
<line x1="198.80" y1="466.50" x2="201.40" y2="466.50" stroke="#6a6a6a" stroke-width="0.8" />
<text x="197.60" y="468.73" font-size="6.2" text-anchor="end" font-weight="normal" fill="#303030" stroke="#303030" stroke-width="0.16" >60</text>
<line x1="198.80" y1="446.90" x2="201.40" y2="446.90" stroke="#6a6a6a" stroke-width="0.8" />
<text x="197.60" y="449.13" font-size="6.2" text-anchor="end" font-weight="normal" fill="#303030" stroke="#303030" stroke-width="0.16" >80</text>
<line x1="200.00" y1="515.50" x2="201.40" y2="515.50" stroke="#6a6a6a" stroke-width="0.8" />
<line x1="200.00" y1="495.90" x2="201.40" y2="495.90" stroke="#6a6a6a" stroke-width="0.8" />
<line x1="200.00" y1="476.30" x2="201.40" y2="476.30" stroke="#6a6a6a" stroke-width="0.8" />
<line x1="200.00" y1="456.70" x2="201.40" y2="456.70" stroke="#6a6a6a" stroke-width="0.8" />
<line x1="201.40" y1="525.30" x2="286.40" y2="525.30" stroke="#6a6a6a" stroke-width="0.8" />
<line x1="214.70" y1="525.30" x2="214.70" y2="527.30" stroke="#6a6a6a" stroke-width="0.8" />
<rect x="205.40" y="482.18" width="7.40" height="43.12" fill="#d6d6d6" stroke="#8a8a8a" stroke-width="0.7" />
<line x1="209.10" y1="472.38" x2="209.10" y2="491.98" stroke="#333" stroke-width="0.7" />
<line x1="207.60" y1="472.38" x2="210.60" y2="472.38" stroke="#333" stroke-width="0.7" />
<line x1="207.60" y1="491.98" x2="210.60" y2="491.98" stroke="#333" stroke-width="0.7" />
<text x="209.10" y="469.68" font-size="6.6" text-anchor="middle" font-weight="normal" fill="#333" stroke="#333" stroke-width="0.16" >b</text>
<rect x="217.10" y="505.21" width="7.00" height="20.09" fill="#1598b5" stroke="#0c5a6c" stroke-width="0.7" />
<line x1="220.60" y1="500.80" x2="220.60" y2="509.62" stroke="#333" stroke-width="0.7" />
<line x1="219.10" y1="500.80" x2="222.10" y2="500.80" stroke="#333" stroke-width="0.7" />
<line x1="219.10" y1="509.62" x2="222.10" y2="509.62" stroke="#333" stroke-width="0.7" />
<text x="220.60" y="498.10" font-size="6.6" text-anchor="middle" font-weight="normal" fill="#333" stroke="#333" stroke-width="0.16" >c</text>
<text x="205.52" y="534.60" font-size="6.7" fill="#303030" stroke="#303030" stroke-width="0.16">1<tspan font-size="7.70" dy="0.40">×</tspan><tspan dy="-0.40">10</tspan><tspan font-size="4.96" dy="-3.48">6</tspan></text>
<line x1="245.70" y1="525.30" x2="245.70" y2="527.30" stroke="#6a6a6a" stroke-width="0.8" />
<rect x="236.40" y="473.56" width="7.40" height="51.74" fill="#d6d6d6" stroke="#8a8a8a" stroke-width="0.7" />
<line x1="240.10" y1="469.15" x2="240.10" y2="477.97" stroke="#333" stroke-width="0.7" />
<line x1="238.60" y1="469.15" x2="241.60" y2="469.15" stroke="#333" stroke-width="0.7" />
<line x1="238.60" y1="477.97" x2="241.60" y2="477.97" stroke="#333" stroke-width="0.7" />
<text x="240.10" y="466.45" font-size="6.6" text-anchor="middle" font-weight="normal" fill="#333" stroke="#333" stroke-width="0.16" >b</text>
<rect x="248.10" y="495.41" width="7.00" height="29.89" fill="#1598b5" stroke="#0c5a6c" stroke-width="0.7" />
<line x1="251.60" y1="490.51" x2="251.60" y2="500.31" stroke="#333" stroke-width="0.7" />
<line x1="250.10" y1="490.51" x2="253.10" y2="490.51" stroke="#333" stroke-width="0.7" />
<line x1="250.10" y1="500.31" x2="253.10" y2="500.31" stroke="#333" stroke-width="0.7" />
<text x="251.60" y="487.81" font-size="6.6" text-anchor="middle" font-weight="normal" fill="#333" stroke="#333" stroke-width="0.16" >c</text>
<text x="236.52" y="534.60" font-size="6.7" fill="#303030" stroke="#303030" stroke-width="0.16">1<tspan font-size="7.70" dy="0.40">×</tspan><tspan dy="-0.40">10</tspan><tspan font-size="4.96" dy="-3.48">7</tspan></text>
<line x1="276.20" y1="525.30" x2="276.20" y2="527.30" stroke="#6a6a6a" stroke-width="0.8" />
<rect x="266.90" y="451.80" width="7.40" height="73.50" fill="#d6d6d6" stroke="#8a8a8a" stroke-width="0.7" />
<line x1="270.60" y1="443.47" x2="270.60" y2="460.13" stroke="#333" stroke-width="0.7" />
<line x1="269.10" y1="443.47" x2="272.10" y2="443.47" stroke="#333" stroke-width="0.7" />
<line x1="269.10" y1="460.13" x2="272.10" y2="460.13" stroke="#333" stroke-width="0.7" />
<text x="270.60" y="440.77" font-size="6.6" text-anchor="middle" font-weight="normal" fill="#333" stroke="#333" stroke-width="0.16" >a</text>
<rect x="278.60" y="497.86" width="7.00" height="27.44" fill="#1598b5" stroke="#0c5a6c" stroke-width="0.7" />
<line x1="282.10" y1="493.45" x2="282.10" y2="502.27" stroke="#333" stroke-width="0.7" />
<line x1="280.60" y1="493.45" x2="283.60" y2="493.45" stroke="#333" stroke-width="0.7" />
<line x1="280.60" y1="502.27" x2="283.60" y2="502.27" stroke="#333" stroke-width="0.7" />
<text x="282.10" y="490.75" font-size="6.6" text-anchor="middle" font-weight="normal" fill="#333" stroke="#333" stroke-width="0.16" >c</text>
<text x="267.02" y="534.60" font-size="6.7" fill="#303030" stroke="#303030" stroke-width="0.16">1<tspan font-size="7.70" dy="0.40">×</tspan><tspan dy="-0.40">10</tspan><tspan font-size="4.96" dy="-3.48">8</tspan></text>
<text x="245.70" y="545.50" font-size="7.2" text-anchor="middle" font-weight="normal" fill="#303030" stroke="#303030" stroke-width="0.16" >Concentration</text>
<text x="219.40" y="444.30" font-size="6.1" text-anchor="start" font-weight="normal" fill="#303030" stroke="#303030" stroke-width="0.16" >Female adults</text>
<text transform="translate(185.80,510.93) rotate(-90)" font-size="7.1" fill="#303030" stroke="#303030" stroke-width="0.16" textLength="59.65" lengthAdjust="spacingAndGlyphs">Mortality rates (%)</text>
<line x1="324.90" y1="439.20" x2="324.90" y2="525.50" stroke="#6a6a6a" stroke-width="0.8" />
<line x1="322.30" y1="525.50" x2="324.90" y2="525.50" stroke="#6a6a6a" stroke-width="0.8" />
<text x="321.10" y="527.73" font-size="6.2" text-anchor="end" font-weight="normal" fill="#303030" stroke="#303030" stroke-width="0.16" >0</text>
<line x1="322.30" y1="505.00" x2="324.90" y2="505.00" stroke="#6a6a6a" stroke-width="0.8" />
<text x="321.10" y="507.23" font-size="6.2" text-anchor="end" font-weight="normal" fill="#303030" stroke="#303030" stroke-width="0.16" >20</text>
<line x1="322.30" y1="484.50" x2="324.90" y2="484.50" stroke="#6a6a6a" stroke-width="0.8" />
<text x="321.10" y="486.73" font-size="6.2" text-anchor="end" font-weight="normal" fill="#303030" stroke="#303030" stroke-width="0.16" >40</text>
<line x1="322.30" y1="464.00" x2="324.90" y2="464.00" stroke="#6a6a6a" stroke-width="0.8" />
<text x="321.10" y="466.23" font-size="6.2" text-anchor="end" font-weight="normal" fill="#303030" stroke="#303030" stroke-width="0.16" >60</text>
<line x1="322.30" y1="443.50" x2="324.90" y2="443.50" stroke="#6a6a6a" stroke-width="0.8" />
<text x="321.10" y="445.73" font-size="6.2" text-anchor="end" font-weight="normal" fill="#303030" stroke="#303030" stroke-width="0.16" >80</text>
<line x1="323.50" y1="515.25" x2="324.90" y2="515.25" stroke="#6a6a6a" stroke-width="0.8" />
<line x1="323.50" y1="494.75" x2="324.90" y2="494.75" stroke="#6a6a6a" stroke-width="0.8" />
<line x1="323.50" y1="474.25" x2="324.90" y2="474.25" stroke="#6a6a6a" stroke-width="0.8" />
<line x1="323.50" y1="453.75" x2="324.90" y2="453.75" stroke="#6a6a6a" stroke-width="0.8" />
<line x1="324.90" y1="525.50" x2="411.40" y2="525.50" stroke="#6a6a6a" stroke-width="0.8" />
<line x1="338.30" y1="525.50" x2="338.30" y2="527.50" stroke="#6a6a6a" stroke-width="0.8" />
<rect x="329.30" y="486.55" width="7.20" height="38.95" fill="#d6d6d6" stroke="#8a8a8a" stroke-width="0.7" />
<line x1="332.90" y1="485.01" x2="332.90" y2="488.09" stroke="#333" stroke-width="0.7" />
<line x1="331.40" y1="485.01" x2="334.40" y2="485.01" stroke="#333" stroke-width="0.7" />
<line x1="331.40" y1="488.09" x2="334.40" y2="488.09" stroke="#333" stroke-width="0.7" />
<text x="332.90" y="482.31" font-size="6.6" text-anchor="middle" font-weight="normal" fill="#333" stroke="#333" stroke-width="0.16" >c</text>
<rect x="340.80" y="502.95" width="7.10" height="22.55" fill="#1598b5" stroke="#0c5a6c" stroke-width="0.7" />
<line x1="344.35" y1="501.93" x2="344.35" y2="503.97" stroke="#333" stroke-width="0.7" />
<line x1="342.85" y1="501.93" x2="345.85" y2="501.93" stroke="#333" stroke-width="0.7" />
<line x1="342.85" y1="503.97" x2="345.85" y2="503.97" stroke="#333" stroke-width="0.7" />
<text x="344.35" y="499.23" font-size="6.6" text-anchor="middle" font-weight="normal" fill="#333" stroke="#333" stroke-width="0.16" >e</text>
<text x="329.12" y="535.40" font-size="6.7" fill="#303030" stroke="#303030" stroke-width="0.16">1<tspan font-size="7.70" dy="0.40">×</tspan><tspan dy="-0.40">10</tspan><tspan font-size="4.96" dy="-3.48">6</tspan></text>
<line x1="368.30" y1="525.50" x2="368.30" y2="527.50" stroke="#6a6a6a" stroke-width="0.8" />
<rect x="359.30" y="469.12" width="7.20" height="56.38" fill="#d6d6d6" stroke="#8a8a8a" stroke-width="0.7" />
<line x1="362.90" y1="466.56" x2="362.90" y2="471.69" stroke="#333" stroke-width="0.7" />
<line x1="361.40" y1="466.56" x2="364.40" y2="466.56" stroke="#333" stroke-width="0.7" />
<line x1="361.40" y1="471.69" x2="364.40" y2="471.69" stroke="#333" stroke-width="0.7" />
<text x="362.90" y="463.86" font-size="6.6" text-anchor="middle" font-weight="normal" fill="#333" stroke="#333" stroke-width="0.16" >b</text>
<rect x="370.80" y="501.41" width="7.10" height="24.09" fill="#1598b5" stroke="#0c5a6c" stroke-width="0.7" />
<line x1="374.35" y1="500.39" x2="374.35" y2="502.44" stroke="#333" stroke-width="0.7" />
<line x1="372.85" y1="500.39" x2="375.85" y2="500.39" stroke="#333" stroke-width="0.7" />
<line x1="372.85" y1="502.44" x2="375.85" y2="502.44" stroke="#333" stroke-width="0.7" />
<text x="374.35" y="497.69" font-size="6.6" text-anchor="middle" font-weight="normal" fill="#333" stroke="#333" stroke-width="0.16" >e</text>
<text x="359.12" y="535.40" font-size="6.7" fill="#303030" stroke="#303030" stroke-width="0.16">1<tspan font-size="7.70" dy="0.40">×</tspan><tspan dy="-0.40">10</tspan><tspan font-size="4.96" dy="-3.48">7</tspan></text>
<line x1="399.20" y1="525.50" x2="399.20" y2="527.50" stroke="#6a6a6a" stroke-width="0.8" />
<rect x="390.20" y="447.91" width="7.20" height="77.59" fill="#d6d6d6" stroke="#8a8a8a" stroke-width="0.7" />
<line x1="393.80" y1="444.83" x2="393.80" y2="450.98" stroke="#333" stroke-width="0.7" />
<line x1="392.30" y1="444.83" x2="395.30" y2="444.83" stroke="#333" stroke-width="0.7" />
<line x1="392.30" y1="450.98" x2="395.30" y2="450.98" stroke="#333" stroke-width="0.7" />
<text x="393.80" y="442.13" font-size="6.6" text-anchor="middle" font-weight="normal" fill="#333" stroke="#333" stroke-width="0.16" >a</text>
<rect x="401.70" y="492.19" width="7.10" height="33.31" fill="#1598b5" stroke="#0c5a6c" stroke-width="0.7" />
<line x1="405.25" y1="490.65" x2="405.25" y2="493.73" stroke="#333" stroke-width="0.7" />
<line x1="403.75" y1="490.65" x2="406.75" y2="490.65" stroke="#333" stroke-width="0.7" />
<line x1="403.75" y1="493.73" x2="406.75" y2="493.73" stroke="#333" stroke-width="0.7" />
<text x="405.25" y="487.95" font-size="6.6" text-anchor="middle" font-weight="normal" fill="#333" stroke="#333" stroke-width="0.16" >d</text>
<text x="390.02" y="535.40" font-size="6.7" fill="#303030" stroke="#303030" stroke-width="0.16">1<tspan font-size="7.70" dy="0.40">×</tspan><tspan dy="-0.40">10</tspan><tspan font-size="4.96" dy="-3.48">8</tspan></text>
<text x="368.00" y="545.60" font-size="7.2" text-anchor="middle" font-weight="normal" fill="#303030" stroke="#303030" stroke-width="0.16" >Concentration</text>
<text x="344.80" y="444.70" font-size="7.25" text-anchor="start" font-weight="normal" fill="#303030" stroke="#303030" stroke-width="0.16" >Male adults</text>
<text transform="translate(310.10,511.43) rotate(-90)" font-size="7.1" fill="#303030" stroke="#303030" stroke-width="0.16" textLength="58.85" lengthAdjust="spacingAndGlyphs">Mortality rates (%)</text>
<line x1="51.40" y1="171.20" x2="51.40" y2="262.00" stroke="#6a6a6a" stroke-width="0.8" />
<line x1="48.60" y1="258.40" x2="51.40" y2="258.40" stroke="#6a6a6a" stroke-width="0.8" />
<text x="47.20" y="260.67" font-size="6.3" text-anchor="end" font-weight="normal" fill="#303030" stroke="#303030" stroke-width="0.16" >0</text>
<line x1="48.60" y1="241.12" x2="51.40" y2="241.12" stroke="#6a6a6a" stroke-width="0.8" />
<text x="47.20" y="243.39" font-size="6.3" text-anchor="end" font-weight="normal" fill="#303030" stroke="#303030" stroke-width="0.16" >20</text>
<line x1="48.60" y1="223.84" x2="51.40" y2="223.84" stroke="#6a6a6a" stroke-width="0.8" />
<text x="47.20" y="226.11" font-size="6.3" text-anchor="end" font-weight="normal" fill="#303030" stroke="#303030" stroke-width="0.16" >40</text>
<line x1="48.60" y1="206.56" x2="51.40" y2="206.56" stroke="#6a6a6a" stroke-width="0.8" />
<text x="47.20" y="208.83" font-size="6.3" text-anchor="end" font-weight="normal" fill="#303030" stroke="#303030" stroke-width="0.16" >60</text>
<line x1="48.60" y1="189.28" x2="51.40" y2="189.28" stroke="#6a6a6a" stroke-width="0.8" />
<text x="47.20" y="191.55" font-size="6.3" text-anchor="end" font-weight="normal" fill="#303030" stroke="#303030" stroke-width="0.16" >80</text>
<line x1="48.60" y1="172.00" x2="51.40" y2="172.00" stroke="#6a6a6a" stroke-width="0.8" />
<text x="47.20" y="174.27" font-size="6.3" text-anchor="end" font-weight="normal" fill="#303030" stroke="#303030" stroke-width="0.16" >100</text>
<line x1="49.80" y1="249.76" x2="51.40" y2="249.76" stroke="#6a6a6a" stroke-width="0.8" />
<line x1="49.80" y1="232.48" x2="51.40" y2="232.48" stroke="#6a6a6a" stroke-width="0.8" />
<line x1="49.80" y1="215.20" x2="51.40" y2="215.20" stroke="#6a6a6a" stroke-width="0.8" />
<line x1="49.80" y1="197.92" x2="51.40" y2="197.92" stroke="#6a6a6a" stroke-width="0.8" />
<line x1="49.80" y1="180.64" x2="51.40" y2="180.64" stroke="#6a6a6a" stroke-width="0.8" />
<line x1="51.40" y1="262.00" x2="199.70" y2="262.00" stroke="#6a6a6a" stroke-width="0.8" />
<line x1="53.40" y1="262.00" x2="53.40" y2="264.20" stroke="#6a6a6a" stroke-width="0.8" />
<text x="53.40" y="273.60" font-size="6.3" text-anchor="middle" font-weight="normal" fill="#303030" stroke="#303030" stroke-width="0.16" >1</text>
<line x1="63.55" y1="262.00" x2="63.55" y2="263.30" stroke="#6a6a6a" stroke-width="0.8" />
<line x1="73.70" y1="262.00" x2="73.70" y2="264.20" stroke="#6a6a6a" stroke-width="0.8" />
<text x="73.70" y="273.60" font-size="6.3" text-anchor="middle" font-weight="normal" fill="#303030" stroke="#303030" stroke-width="0.16" >2</text>
<line x1="83.85" y1="262.00" x2="83.85" y2="263.30" stroke="#6a6a6a" stroke-width="0.8" />
<line x1="94.00" y1="262.00" x2="94.00" y2="264.20" stroke="#6a6a6a" stroke-width="0.8" />
<text x="94.00" y="273.60" font-size="6.3" text-anchor="middle" font-weight="normal" fill="#303030" stroke="#303030" stroke-width="0.16" >3</text>
<line x1="104.15" y1="262.00" x2="104.15" y2="263.30" stroke="#6a6a6a" stroke-width="0.8" />
<line x1="114.30" y1="262.00" x2="114.30" y2="264.20" stroke="#6a6a6a" stroke-width="0.8" />
<text x="114.30" y="273.60" font-size="6.3" text-anchor="middle" font-weight="normal" fill="#303030" stroke="#303030" stroke-width="0.16" >4</text>
<line x1="124.45" y1="262.00" x2="124.45" y2="263.30" stroke="#6a6a6a" stroke-width="0.8" />
<line x1="134.60" y1="262.00" x2="134.60" y2="264.20" stroke="#6a6a6a" stroke-width="0.8" />
<text x="134.60" y="273.60" font-size="6.3" text-anchor="middle" font-weight="normal" fill="#303030" stroke="#303030" stroke-width="0.16" >5</text>
<line x1="144.75" y1="262.00" x2="144.75" y2="263.30" stroke="#6a6a6a" stroke-width="0.8" />
<line x1="154.90" y1="262.00" x2="154.90" y2="264.20" stroke="#6a6a6a" stroke-width="0.8" />
<text x="154.90" y="273.60" font-size="6.3" text-anchor="middle" font-weight="normal" fill="#303030" stroke="#303030" stroke-width="0.16" >6</text>
<line x1="165.05" y1="262.00" x2="165.05" y2="263.30" stroke="#6a6a6a" stroke-width="0.8" />
<line x1="175.20" y1="262.00" x2="175.20" y2="264.20" stroke="#6a6a6a" stroke-width="0.8" />
<text x="175.20" y="273.60" font-size="6.3" text-anchor="middle" font-weight="normal" fill="#303030" stroke="#303030" stroke-width="0.16" >7</text>
<line x1="185.35" y1="262.00" x2="185.35" y2="263.30" stroke="#6a6a6a" stroke-width="0.8" />
<line x1="195.50" y1="262.00" x2="195.50" y2="264.20" stroke="#6a6a6a" stroke-width="0.8" />
<text x="195.50" y="273.60" font-size="6.3" text-anchor="middle" font-weight="normal" fill="#303030" stroke="#303030" stroke-width="0.16" >8</text>
<text x="126.00" y="284.40" font-size="7.4" text-anchor="middle" font-weight="normal" fill="#303030" stroke="#303030" stroke-width="0.16" >Days</text>
<line x1="51.40" y1="215.20" x2="186.60" y2="215.20" stroke="#666" stroke-width="0.8" stroke-dasharray="1.7,1.8"/>
<line x1="53.40" y1="258.40" x2="195.50" y2="258.40" stroke="#666" stroke-width="0.9" />
<circle cx="53.40" cy="258.40" r="1.5" fill="#000"/>
<circle cx="73.70" cy="258.40" r="1.5" fill="#000"/>
<circle cx="94.00" cy="258.40" r="1.5" fill="#000"/>
<circle cx="114.30" cy="258.40" r="1.5" fill="#000"/>
<circle cx="134.60" cy="258.40" r="1.5" fill="#000"/>
<circle cx="154.90" cy="258.40" r="1.5" fill="#000"/>
<circle cx="175.20" cy="258.40" r="1.5" fill="#000"/>
<circle cx="195.50" cy="258.40" r="1.5" fill="#000"/>
<polyline points="53.40,256.67 73.70,256.24 94.00,255.81 114.30,255.38 134.60,255.38 154.90,252.35 175.20,245.44 195.50,238.53" fill="none" stroke="#22e4b4" stroke-width="0.9"/>
<circle cx="53.40" cy="256.67" r="1.0" fill="#12d8a0"/>
<circle cx="73.70" cy="256.24" r="1.0" fill="#12d8a0"/>
<circle cx="94.00" cy="255.81" r="1.0" fill="#12d8a0"/>
<circle cx="114.30" cy="255.38" r="1.0" fill="#12d8a0"/>
<circle cx="134.60" cy="255.38" r="1.0" fill="#12d8a0"/>
<circle cx="154.90" cy="252.35" r="1.0" fill="#12d8a0"/>
<line x1="175.20" y1="244.14" x2="175.20" y2="246.74" stroke="#22e4b4" stroke-width="0.7" />
<line x1="174.10" y1="244.14" x2="176.30" y2="244.14" stroke="#22e4b4" stroke-width="0.7" />
<line x1="174.10" y1="246.74" x2="176.30" y2="246.74" stroke="#22e4b4" stroke-width="0.7" />
<circle cx="175.20" cy="245.44" r="1.0" fill="#12d8a0"/>
<line x1="195.50" y1="236.37" x2="195.50" y2="240.69" stroke="#22e4b4" stroke-width="0.7" />
<line x1="194.40" y1="236.37" x2="196.60" y2="236.37" stroke="#22e4b4" stroke-width="0.7" />
<line x1="194.40" y1="240.69" x2="196.60" y2="240.69" stroke="#22e4b4" stroke-width="0.7" />
<circle cx="195.50" cy="238.53" r="1.0" fill="#12d8a0"/>
<polyline points="53.40,255.81 73.70,254.94 94.00,254.51 114.30,254.08 134.60,251.49 154.90,246.30 175.20,233.34 195.50,220.38" fill="none" stroke="#1fa8c2" stroke-width="0.9"/>
<circle cx="53.40" cy="255.81" r="1.0" fill="#118ca8"/>
<circle cx="73.70" cy="254.94" r="1.0" fill="#118ca8"/>
<circle cx="94.00" cy="254.51" r="1.0" fill="#118ca8"/>
<circle cx="114.30" cy="254.08" r="1.0" fill="#118ca8"/>
<circle cx="134.60" cy="251.49" r="1.0" fill="#118ca8"/>
<line x1="154.90" y1="244.58" x2="154.90" y2="248.03" stroke="#1fa8c2" stroke-width="0.7" />
<line x1="153.80" y1="244.58" x2="156.00" y2="244.58" stroke="#1fa8c2" stroke-width="0.7" />
<line x1="153.80" y1="248.03" x2="156.00" y2="248.03" stroke="#1fa8c2" stroke-width="0.7" />
<circle cx="154.90" cy="246.30" r="1.0" fill="#118ca8"/>
<line x1="175.20" y1="232.05" x2="175.20" y2="234.64" stroke="#1fa8c2" stroke-width="0.7" />
<line x1="174.10" y1="232.05" x2="176.30" y2="232.05" stroke="#1fa8c2" stroke-width="0.7" />
<line x1="174.10" y1="234.64" x2="176.30" y2="234.64" stroke="#1fa8c2" stroke-width="0.7" />
<circle cx="175.20" cy="233.34" r="1.0" fill="#118ca8"/>
<line x1="195.50" y1="218.66" x2="195.50" y2="222.11" stroke="#1fa8c2" stroke-width="0.7" />
<line x1="194.40" y1="218.66" x2="196.60" y2="218.66" stroke="#1fa8c2" stroke-width="0.7" />
<line x1="194.40" y1="222.11" x2="196.60" y2="222.11" stroke="#1fa8c2" stroke-width="0.7" />
<circle cx="195.50" cy="220.38" r="1.0" fill="#118ca8"/>
<polyline points="53.40,254.51 73.70,254.08 94.00,252.35 114.30,251.92 134.60,243.71 154.90,229.89 175.20,216.93 195.50,209.15" fill="none" stroke="#3a3af2" stroke-width="0.9"/>
<circle cx="53.40" cy="254.51" r="1.0" fill="#2020e0"/>
<circle cx="73.70" cy="254.08" r="1.0" fill="#2020e0"/>
<circle cx="94.00" cy="252.35" r="1.0" fill="#2020e0"/>
<circle cx="114.30" cy="251.92" r="1.0" fill="#2020e0"/>
<line x1="134.60" y1="241.98" x2="134.60" y2="245.44" stroke="#3a3af2" stroke-width="0.7" />
<line x1="133.50" y1="241.98" x2="135.70" y2="241.98" stroke="#3a3af2" stroke-width="0.7" />
<line x1="133.50" y1="245.44" x2="135.70" y2="245.44" stroke="#3a3af2" stroke-width="0.7" />
<circle cx="134.60" cy="243.71" r="1.0" fill="#2020e0"/>
<line x1="154.90" y1="228.16" x2="154.90" y2="231.62" stroke="#3a3af2" stroke-width="0.7" />
<line x1="153.80" y1="228.16" x2="156.00" y2="228.16" stroke="#3a3af2" stroke-width="0.7" />
<line x1="153.80" y1="231.62" x2="156.00" y2="231.62" stroke="#3a3af2" stroke-width="0.7" />
<circle cx="154.90" cy="229.89" r="1.0" fill="#2020e0"/>
<line x1="175.20" y1="214.34" x2="175.20" y2="219.52" stroke="#3a3af2" stroke-width="0.7" />
<line x1="174.10" y1="214.34" x2="176.30" y2="214.34" stroke="#3a3af2" stroke-width="0.7" />
<line x1="174.10" y1="219.52" x2="176.30" y2="219.52" stroke="#3a3af2" stroke-width="0.7" />
<circle cx="175.20" cy="216.93" r="1.0" fill="#2020e0"/>
<line x1="195.50" y1="207.42" x2="195.50" y2="210.88" stroke="#3a3af2" stroke-width="0.7" />
<line x1="194.40" y1="207.42" x2="196.60" y2="207.42" stroke="#3a3af2" stroke-width="0.7" />
<line x1="194.40" y1="210.88" x2="196.60" y2="210.88" stroke="#3a3af2" stroke-width="0.7" />
<circle cx="195.50" cy="209.15" r="1.0" fill="#2020e0"/>
<polyline points="53.40,253.65 73.70,253.22 94.00,248.03 114.30,244.58 134.60,220.82 154.90,194.46 175.20,189.28 195.50,184.96" fill="none" stroke="#a040d0" stroke-width="0.9"/>
<circle cx="53.40" cy="253.65" r="1.0" fill="#8a20b8"/>
<circle cx="73.70" cy="253.22" r="1.0" fill="#8a20b8"/>
<circle cx="94.00" cy="248.03" r="1.0" fill="#8a20b8"/>
<line x1="114.30" y1="241.98" x2="114.30" y2="247.17" stroke="#a040d0" stroke-width="0.7" />
<line x1="113.20" y1="241.98" x2="115.40" y2="241.98" stroke="#a040d0" stroke-width="0.7" />
<line x1="113.20" y1="247.17" x2="115.40" y2="247.17" stroke="#a040d0" stroke-width="0.7" />
<circle cx="114.30" cy="244.58" r="1.0" fill="#8a20b8"/>
<line x1="134.60" y1="217.79" x2="134.60" y2="223.84" stroke="#a040d0" stroke-width="0.7" />
<line x1="133.50" y1="217.79" x2="135.70" y2="217.79" stroke="#a040d0" stroke-width="0.7" />
<line x1="133.50" y1="223.84" x2="135.70" y2="223.84" stroke="#a040d0" stroke-width="0.7" />
<circle cx="134.60" cy="220.82" r="1.0" fill="#8a20b8"/>
<line x1="154.90" y1="187.98" x2="154.90" y2="200.94" stroke="#a040d0" stroke-width="0.7" />
<line x1="153.80" y1="187.98" x2="156.00" y2="187.98" stroke="#a040d0" stroke-width="0.7" />
<line x1="153.80" y1="200.94" x2="156.00" y2="200.94" stroke="#a040d0" stroke-width="0.7" />
<circle cx="154.90" cy="194.46" r="1.0" fill="#8a20b8"/>
<line x1="175.20" y1="183.66" x2="175.20" y2="194.90" stroke="#a040d0" stroke-width="0.7" />
<line x1="174.10" y1="183.66" x2="176.30" y2="183.66" stroke="#a040d0" stroke-width="0.7" />
<line x1="174.10" y1="194.90" x2="176.30" y2="194.90" stroke="#a040d0" stroke-width="0.7" />
<circle cx="175.20" cy="189.28" r="1.0" fill="#8a20b8"/>
<line x1="195.50" y1="181.94" x2="195.50" y2="187.98" stroke="#a040d0" stroke-width="0.7" />
<line x1="194.40" y1="181.94" x2="196.60" y2="181.94" stroke="#a040d0" stroke-width="0.7" />
<line x1="194.40" y1="187.98" x2="196.60" y2="187.98" stroke="#a040d0" stroke-width="0.7" />
<circle cx="195.50" cy="184.96" r="1.0" fill="#8a20b8"/>
<polyline points="53.40,252.61 73.70,248.90 94.00,236.80 114.30,229.89 134.60,206.99 154.90,180.64 175.20,174.85 195.50,172.00" fill="none" stroke="#ff3c3c" stroke-width="0.9"/>
<circle cx="53.40" cy="252.61" r="1.0" fill="#ff2020"/>
<circle cx="73.70" cy="248.90" r="1.0" fill="#ff2020"/>
<circle cx="94.00" cy="236.80" r="1.0" fill="#ff2020"/>
<circle cx="114.30" cy="229.89" r="1.0" fill="#ff2020"/>
<line x1="134.60" y1="203.97" x2="134.60" y2="210.02" stroke="#ff3c3c" stroke-width="0.7" />
<line x1="133.50" y1="203.97" x2="135.70" y2="203.97" stroke="#ff3c3c" stroke-width="0.7" />
<line x1="133.50" y1="210.02" x2="135.70" y2="210.02" stroke="#ff3c3c" stroke-width="0.7" />
<circle cx="134.60" cy="206.99" r="1.0" fill="#ff2020"/>
<line x1="154.90" y1="176.32" x2="154.90" y2="184.96" stroke="#ff3c3c" stroke-width="0.7" />
<line x1="153.80" y1="176.32" x2="156.00" y2="176.32" stroke="#ff3c3c" stroke-width="0.7" />
<line x1="153.80" y1="184.96" x2="156.00" y2="184.96" stroke="#ff3c3c" stroke-width="0.7" />
<circle cx="154.90" cy="180.64" r="1.0" fill="#ff2020"/>
<line x1="175.20" y1="172.26" x2="175.20" y2="177.44" stroke="#ff3c3c" stroke-width="0.7" />
<line x1="174.10" y1="172.26" x2="176.30" y2="172.26" stroke="#ff3c3c" stroke-width="0.7" />
<line x1="174.10" y1="177.44" x2="176.30" y2="177.44" stroke="#ff3c3c" stroke-width="0.7" />
<circle cx="175.20" cy="174.85" r="1.0" fill="#ff2020"/>
<line x1="195.50" y1="171.14" x2="195.50" y2="172.86" stroke="#ff3c3c" stroke-width="0.7" />
<line x1="194.40" y1="171.14" x2="196.60" y2="171.14" stroke="#ff3c3c" stroke-width="0.7" />
<line x1="194.40" y1="172.86" x2="196.60" y2="172.86" stroke="#ff3c3c" stroke-width="0.7" />
<circle cx="195.50" cy="172.00" r="1.0" fill="#ff2020"/>
<line x1="59.80" y1="175.60" x2="69.80" y2="175.60" stroke="#22e4b4" stroke-width="0.9" />
<circle cx="64.80" cy="175.60" r="1.25" fill="#12d8a0"/>
<text x="75.80" y="178.30" font-size="7.5" fill="#303030" stroke="#303030" stroke-width="0.16">1<tspan font-size="8.62" dy="0.45">×</tspan><tspan dy="-0.45">10</tspan><tspan font-size="5.55" dy="-3.90">4</tspan></text>
<line x1="59.80" y1="184.40" x2="69.80" y2="184.40" stroke="#1fa8c2" stroke-width="0.9" />
<circle cx="64.80" cy="184.40" r="1.25" fill="#118ca8"/>
<text x="75.80" y="187.10" font-size="7.5" fill="#303030" stroke="#303030" stroke-width="0.16">1<tspan font-size="8.62" dy="0.45">×</tspan><tspan dy="-0.45">10</tspan><tspan font-size="5.55" dy="-3.90">5</tspan></text>
<line x1="59.80" y1="192.80" x2="69.80" y2="192.80" stroke="#3a3af2" stroke-width="0.9" />
<circle cx="64.80" cy="192.80" r="1.25" fill="#2020e0"/>
<text x="75.80" y="195.50" font-size="7.5" fill="#303030" stroke="#303030" stroke-width="0.16">1<tspan font-size="8.62" dy="0.45">×</tspan><tspan dy="-0.45">10</tspan><tspan font-size="5.55" dy="-3.90">6</tspan></text>
<line x1="59.80" y1="200.50" x2="69.80" y2="200.50" stroke="#a040d0" stroke-width="0.9" />
<circle cx="64.80" cy="200.50" r="1.25" fill="#8a20b8"/>
<text x="75.80" y="203.20" font-size="7.5" fill="#303030" stroke="#303030" stroke-width="0.16">1<tspan font-size="8.62" dy="0.45">×</tspan><tspan dy="-0.45">10</tspan><tspan font-size="5.55" dy="-3.90">7</tspan></text>
<line x1="59.80" y1="208.90" x2="69.80" y2="208.90" stroke="#ff3c3c" stroke-width="0.9" />
<circle cx="64.80" cy="208.90" r="1.25" fill="#ff2020"/>
<text x="75.80" y="211.60" font-size="7.5" fill="#303030" stroke="#303030" stroke-width="0.16">1<tspan font-size="8.62" dy="0.45">×</tspan><tspan dy="-0.45">10</tspan><tspan font-size="5.55" dy="-3.90">8</tspan></text>
<line x1="59.80" y1="220.70" x2="69.80" y2="220.70" stroke="#777" stroke-width="0.9" />
<circle cx="64.80" cy="220.70" r="1.6" fill="#000"/>
<text x="75.80" y="223.40" font-size="7.5" text-anchor="start" font-weight="normal" fill="#303030" stroke="#303030" stroke-width="0.16" >CK</text>
<text x="104.00" y="177.30" font-size="6.9" text-anchor="start" font-weight="normal" fill="#303030" stroke="#303030" stroke-width="0.16" >XSBN200920</text>
<text transform="translate(21.40,259.24) rotate(-90)" font-size="7.4" fill="#303030" stroke="#303030" stroke-width="0.16" textLength="83.69" lengthAdjust="spacingAndGlyphs">Cumulative mortality rate</text>
<text transform="translate(30.50,257.64) rotate(-90)" font-size="7.4" fill="#303030" stroke="#303030" stroke-width="0.16" textLength="80.09" lengthAdjust="spacingAndGlyphs">of 3rd instar larvaes(%)</text>
<line x1="260.80" y1="168.00" x2="260.80" y2="262.00" stroke="#6a6a6a" stroke-width="0.8" />
<line x1="258.00" y1="255.60" x2="260.80" y2="255.60" stroke="#6a6a6a" stroke-width="0.8" />
<text x="256.60" y="258.08" font-size="6.9" text-anchor="end" font-weight="normal" fill="#303030" stroke="#303030" stroke-width="0.16" >0</text>
<line x1="258.00" y1="228.60" x2="260.80" y2="228.60" stroke="#6a6a6a" stroke-width="0.8" />
<text x="256.60" y="231.08" font-size="6.9" text-anchor="end" font-weight="normal" fill="#303030" stroke="#303030" stroke-width="0.16" >20</text>
<line x1="258.00" y1="201.60" x2="260.80" y2="201.60" stroke="#6a6a6a" stroke-width="0.8" />
<text x="256.60" y="204.08" font-size="6.9" text-anchor="end" font-weight="normal" fill="#303030" stroke="#303030" stroke-width="0.16" >40</text>
<line x1="258.00" y1="174.60" x2="260.80" y2="174.60" stroke="#6a6a6a" stroke-width="0.8" />
<text x="256.60" y="177.08" font-size="6.9" text-anchor="end" font-weight="normal" fill="#303030" stroke="#303030" stroke-width="0.16" >60</text>
<line x1="259.20" y1="242.10" x2="260.80" y2="242.10" stroke="#6a6a6a" stroke-width="0.8" />
<line x1="259.20" y1="215.10" x2="260.80" y2="215.10" stroke="#6a6a6a" stroke-width="0.8" />
<line x1="259.20" y1="188.10" x2="260.80" y2="188.10" stroke="#6a6a6a" stroke-width="0.8" />
<line x1="260.80" y1="262.00" x2="403.00" y2="262.00" stroke="#6a6a6a" stroke-width="0.8" />
<line x1="262.60" y1="262.00" x2="262.60" y2="264.20" stroke="#6a6a6a" stroke-width="0.8" />
<text x="262.60" y="274.00" font-size="6.9" text-anchor="middle" font-weight="normal" fill="#303030" stroke="#303030" stroke-width="0.16" >1</text>
<line x1="272.38" y1="262.00" x2="272.38" y2="263.30" stroke="#6a6a6a" stroke-width="0.8" />
<line x1="282.15" y1="262.00" x2="282.15" y2="264.20" stroke="#6a6a6a" stroke-width="0.8" />
<text x="282.15" y="274.00" font-size="6.9" text-anchor="middle" font-weight="normal" fill="#303030" stroke="#303030" stroke-width="0.16" >2</text>
<line x1="291.93" y1="262.00" x2="291.93" y2="263.30" stroke="#6a6a6a" stroke-width="0.8" />
<line x1="301.70" y1="262.00" x2="301.70" y2="264.20" stroke="#6a6a6a" stroke-width="0.8" />
<text x="301.70" y="274.00" font-size="6.9" text-anchor="middle" font-weight="normal" fill="#303030" stroke="#303030" stroke-width="0.16" >3</text>
<line x1="311.48" y1="262.00" x2="311.48" y2="263.30" stroke="#6a6a6a" stroke-width="0.8" />
<line x1="321.25" y1="262.00" x2="321.25" y2="264.20" stroke="#6a6a6a" stroke-width="0.8" />
<text x="321.25" y="274.00" font-size="6.9" text-anchor="middle" font-weight="normal" fill="#303030" stroke="#303030" stroke-width="0.16" >4</text>
<line x1="331.02" y1="262.00" x2="331.02" y2="263.30" stroke="#6a6a6a" stroke-width="0.8" />
<line x1="340.80" y1="262.00" x2="340.80" y2="264.20" stroke="#6a6a6a" stroke-width="0.8" />
<text x="340.80" y="274.00" font-size="6.9" text-anchor="middle" font-weight="normal" fill="#303030" stroke="#303030" stroke-width="0.16" >5</text>
<line x1="350.57" y1="262.00" x2="350.57" y2="263.30" stroke="#6a6a6a" stroke-width="0.8" />
<line x1="360.35" y1="262.00" x2="360.35" y2="264.20" stroke="#6a6a6a" stroke-width="0.8" />
<text x="360.35" y="274.00" font-size="6.9" text-anchor="middle" font-weight="normal" fill="#303030" stroke="#303030" stroke-width="0.16" >6</text>
<line x1="370.12" y1="262.00" x2="370.12" y2="263.30" stroke="#6a6a6a" stroke-width="0.8" />
<line x1="379.90" y1="262.00" x2="379.90" y2="264.20" stroke="#6a6a6a" stroke-width="0.8" />
<text x="379.90" y="274.00" font-size="6.9" text-anchor="middle" font-weight="normal" fill="#303030" stroke="#303030" stroke-width="0.16" >7</text>
<line x1="389.68" y1="262.00" x2="389.68" y2="263.30" stroke="#6a6a6a" stroke-width="0.8" />
<line x1="399.45" y1="262.00" x2="399.45" y2="264.20" stroke="#6a6a6a" stroke-width="0.8" />
<text x="399.45" y="274.00" font-size="6.9" text-anchor="middle" font-weight="normal" fill="#303030" stroke="#303030" stroke-width="0.16" >8</text>
<text x="332.00" y="285.40" font-size="7.9" text-anchor="middle" font-weight="normal" fill="#303030" stroke="#303030" stroke-width="0.16" >Days</text>
<line x1="260.80" y1="188.10" x2="402.00" y2="188.10" stroke="#666" stroke-width="0.8" stroke-dasharray="1.7,1.8"/>
<line x1="262.60" y1="255.60" x2="399.45" y2="255.60" stroke="#666" stroke-width="0.9" />
<circle cx="262.60" cy="255.60" r="1.5" fill="#000"/>
<circle cx="282.15" cy="255.60" r="1.5" fill="#000"/>
<circle cx="301.70" cy="255.60" r="1.5" fill="#000"/>
<circle cx="321.25" cy="255.60" r="1.5" fill="#000"/>
<circle cx="340.80" cy="255.60" r="1.5" fill="#000"/>
<circle cx="360.35" cy="255.60" r="1.5" fill="#000"/>
<circle cx="379.90" cy="255.60" r="1.5" fill="#000"/>
<circle cx="399.45" cy="255.60" r="1.5" fill="#000"/>
<polyline points="262.60,255.60 282.15,254.52 301.70,253.98 321.25,251.95 340.80,251.28 360.35,250.06 379.90,247.77 399.45,246.69" fill="none" stroke="#22e4b4" stroke-width="0.9"/>
<circle cx="262.60" cy="255.60" r="1.0" fill="#12d8a0"/>
<circle cx="282.15" cy="254.52" r="1.0" fill="#12d8a0"/>
<circle cx="301.70" cy="253.98" r="1.0" fill="#12d8a0"/>
<circle cx="321.25" cy="251.95" r="1.0" fill="#12d8a0"/>
<circle cx="340.80" cy="251.28" r="1.0" fill="#12d8a0"/>
<circle cx="360.35" cy="250.06" r="1.0" fill="#12d8a0"/>
<circle cx="379.90" cy="247.77" r="1.0" fill="#12d8a0"/>
<circle cx="399.45" cy="246.69" r="1.0" fill="#12d8a0"/>
<polyline points="262.60,255.60 282.15,253.71 301.70,252.63 321.25,249.79 340.80,247.37 360.35,243.99 379.90,239.00 399.45,233.86" fill="none" stroke="#1fa8c2" stroke-width="0.9"/>
<circle cx="262.60" cy="255.60" r="1.0" fill="#118ca8"/>
<circle cx="282.15" cy="253.71" r="1.0" fill="#118ca8"/>
<circle cx="301.70" cy="252.63" r="1.0" fill="#118ca8"/>
<circle cx="321.25" cy="249.79" r="1.0" fill="#118ca8"/>
<line x1="340.80" y1="246.02" x2="340.80" y2="248.72" stroke="#1fa8c2" stroke-width="0.7" />
<line x1="339.70" y1="246.02" x2="341.90" y2="246.02" stroke="#1fa8c2" stroke-width="0.7" />
<line x1="339.70" y1="248.72" x2="341.90" y2="248.72" stroke="#1fa8c2" stroke-width="0.7" />
<circle cx="340.80" cy="247.37" r="1.0" fill="#118ca8"/>
<line x1="360.35" y1="241.97" x2="360.35" y2="246.02" stroke="#1fa8c2" stroke-width="0.7" />
<line x1="359.25" y1="241.97" x2="361.45" y2="241.97" stroke="#1fa8c2" stroke-width="0.7" />
<line x1="359.25" y1="246.02" x2="361.45" y2="246.02" stroke="#1fa8c2" stroke-width="0.7" />
<circle cx="360.35" cy="243.99" r="1.0" fill="#118ca8"/>
<line x1="379.90" y1="236.97" x2="379.90" y2="241.02" stroke="#1fa8c2" stroke-width="0.7" />
<line x1="378.80" y1="236.97" x2="381.00" y2="236.97" stroke="#1fa8c2" stroke-width="0.7" />
<line x1="378.80" y1="241.02" x2="381.00" y2="241.02" stroke="#1fa8c2" stroke-width="0.7" />
<circle cx="379.90" cy="239.00" r="1.0" fill="#118ca8"/>
<line x1="399.45" y1="232.24" x2="399.45" y2="235.48" stroke="#1fa8c2" stroke-width="0.7" />
<line x1="398.35" y1="232.24" x2="400.55" y2="232.24" stroke="#1fa8c2" stroke-width="0.7" />
<line x1="398.35" y1="235.48" x2="400.55" y2="235.48" stroke="#1fa8c2" stroke-width="0.7" />
<circle cx="399.45" cy="233.86" r="1.0" fill="#118ca8"/>
<polyline points="262.60,255.60 282.15,251.95 301.70,250.88 321.25,246.56 340.80,237.38 360.35,230.49 379.90,221.85 399.45,217.94" fill="none" stroke="#3a3af2" stroke-width="0.9"/>
<circle cx="262.60" cy="255.60" r="1.0" fill="#2020e0"/>
<line x1="282.15" y1="250.33" x2="282.15" y2="253.57" stroke="#3a3af2" stroke-width="0.7" />
<line x1="281.05" y1="250.33" x2="283.25" y2="250.33" stroke="#3a3af2" stroke-width="0.7" />
<line x1="281.05" y1="253.57" x2="283.25" y2="253.57" stroke="#3a3af2" stroke-width="0.7" />
<circle cx="282.15" cy="251.95" r="1.0" fill="#2020e0"/>
<line x1="301.70" y1="248.85" x2="301.70" y2="252.90" stroke="#3a3af2" stroke-width="0.7" />
<line x1="300.60" y1="248.85" x2="302.80" y2="248.85" stroke="#3a3af2" stroke-width="0.7" />
<line x1="300.60" y1="252.90" x2="302.80" y2="252.90" stroke="#3a3af2" stroke-width="0.7" />
<circle cx="301.70" cy="250.88" r="1.0" fill="#2020e0"/>
<line x1="321.25" y1="244.53" x2="321.25" y2="248.58" stroke="#3a3af2" stroke-width="0.7" />
<line x1="320.15" y1="244.53" x2="322.35" y2="244.53" stroke="#3a3af2" stroke-width="0.7" />
<line x1="320.15" y1="248.58" x2="322.35" y2="248.58" stroke="#3a3af2" stroke-width="0.7" />
<circle cx="321.25" cy="246.56" r="1.0" fill="#2020e0"/>
<line x1="340.80" y1="235.75" x2="340.80" y2="239.00" stroke="#3a3af2" stroke-width="0.7" />
<line x1="339.70" y1="235.75" x2="341.90" y2="235.75" stroke="#3a3af2" stroke-width="0.7" />
<line x1="339.70" y1="239.00" x2="341.90" y2="239.00" stroke="#3a3af2" stroke-width="0.7" />
<circle cx="340.80" cy="237.38" r="1.0" fill="#2020e0"/>
<line x1="360.35" y1="228.87" x2="360.35" y2="232.11" stroke="#3a3af2" stroke-width="0.7" />
<line x1="359.25" y1="228.87" x2="361.45" y2="228.87" stroke="#3a3af2" stroke-width="0.7" />
<line x1="359.25" y1="232.11" x2="361.45" y2="232.11" stroke="#3a3af2" stroke-width="0.7" />
<circle cx="360.35" cy="230.49" r="1.0" fill="#2020e0"/>
<line x1="379.90" y1="219.82" x2="379.90" y2="223.88" stroke="#3a3af2" stroke-width="0.7" />
<line x1="378.80" y1="219.82" x2="381.00" y2="219.82" stroke="#3a3af2" stroke-width="0.7" />
<line x1="378.80" y1="223.88" x2="381.00" y2="223.88" stroke="#3a3af2" stroke-width="0.7" />
<circle cx="379.90" cy="221.85" r="1.0" fill="#2020e0"/>
<line x1="399.45" y1="215.24" x2="399.45" y2="220.63" stroke="#3a3af2" stroke-width="0.7" />
<line x1="398.35" y1="215.24" x2="400.55" y2="215.24" stroke="#3a3af2" stroke-width="0.7" />
<line x1="398.35" y1="220.63" x2="400.55" y2="220.63" stroke="#3a3af2" stroke-width="0.7" />
<circle cx="399.45" cy="217.94" r="1.0" fill="#2020e0"/>
<polyline points="262.60,255.60 282.15,249.79 301.70,240.48 321.25,234.67 340.80,223.74 360.35,212.00 379.90,200.38 399.45,191.20" fill="none" stroke="#a040d0" stroke-width="0.9"/>
<circle cx="262.60" cy="255.60" r="1.0" fill="#8a20b8"/>
<circle cx="282.15" cy="249.79" r="1.0" fill="#8a20b8"/>
<line x1="301.70" y1="237.78" x2="301.70" y2="243.18" stroke="#a040d0" stroke-width="0.7" />
<line x1="300.60" y1="237.78" x2="302.80" y2="237.78" stroke="#a040d0" stroke-width="0.7" />
<line x1="300.60" y1="243.18" x2="302.80" y2="243.18" stroke="#a040d0" stroke-width="0.7" />
<circle cx="301.70" cy="240.48" r="1.0" fill="#8a20b8"/>
<circle cx="321.25" cy="234.67" r="1.0" fill="#8a20b8"/>
<line x1="340.80" y1="220.36" x2="340.80" y2="227.11" stroke="#a040d0" stroke-width="0.7" />
<line x1="339.70" y1="220.36" x2="341.90" y2="220.36" stroke="#a040d0" stroke-width="0.7" />
<line x1="339.70" y1="227.11" x2="341.90" y2="227.11" stroke="#a040d0" stroke-width="0.7" />
<circle cx="340.80" cy="223.74" r="1.0" fill="#8a20b8"/>
<line x1="360.35" y1="207.94" x2="360.35" y2="216.05" stroke="#a040d0" stroke-width="0.7" />
<line x1="359.25" y1="207.94" x2="361.45" y2="207.94" stroke="#a040d0" stroke-width="0.7" />
<line x1="359.25" y1="216.05" x2="361.45" y2="216.05" stroke="#a040d0" stroke-width="0.7" />
<circle cx="360.35" cy="212.00" r="1.0" fill="#8a20b8"/>
<line x1="379.90" y1="197.69" x2="379.90" y2="203.08" stroke="#a040d0" stroke-width="0.7" />
<line x1="378.80" y1="197.69" x2="381.00" y2="197.69" stroke="#a040d0" stroke-width="0.7" />
<line x1="378.80" y1="203.08" x2="381.00" y2="203.08" stroke="#a040d0" stroke-width="0.7" />
<circle cx="379.90" cy="200.38" r="1.0" fill="#8a20b8"/>
<line x1="399.45" y1="189.18" x2="399.45" y2="193.23" stroke="#a040d0" stroke-width="0.7" />
<line x1="398.35" y1="189.18" x2="400.55" y2="189.18" stroke="#a040d0" stroke-width="0.7" />
<line x1="398.35" y1="193.23" x2="400.55" y2="193.23" stroke="#a040d0" stroke-width="0.7" />
<circle cx="399.45" cy="191.20" r="1.0" fill="#8a20b8"/>
<polyline points="262.60,255.60 282.15,247.23 301.70,233.46 321.25,223.88 340.80,210.38 360.35,201.60 379.90,194.31 399.45,177.57" fill="none" stroke="#ff3c3c" stroke-width="0.9"/>
<circle cx="262.60" cy="255.60" r="1.0" fill="#ff2020"/>
<line x1="282.15" y1="243.85" x2="282.15" y2="250.60" stroke="#ff3c3c" stroke-width="0.7" />
<line x1="281.05" y1="243.85" x2="283.25" y2="243.85" stroke="#ff3c3c" stroke-width="0.7" />
<line x1="281.05" y1="250.60" x2="283.25" y2="250.60" stroke="#ff3c3c" stroke-width="0.7" />
<circle cx="282.15" cy="247.23" r="1.0" fill="#ff2020"/>
<line x1="301.70" y1="230.76" x2="301.70" y2="236.16" stroke="#ff3c3c" stroke-width="0.7" />
<line x1="300.60" y1="230.76" x2="302.80" y2="230.76" stroke="#ff3c3c" stroke-width="0.7" />
<line x1="300.60" y1="236.16" x2="302.80" y2="236.16" stroke="#ff3c3c" stroke-width="0.7" />
<circle cx="301.70" cy="233.46" r="1.0" fill="#ff2020"/>
<line x1="321.25" y1="219.82" x2="321.25" y2="227.93" stroke="#ff3c3c" stroke-width="0.7" />
<line x1="320.15" y1="219.82" x2="322.35" y2="219.82" stroke="#ff3c3c" stroke-width="0.7" />
<line x1="320.15" y1="227.93" x2="322.35" y2="227.93" stroke="#ff3c3c" stroke-width="0.7" />
<circle cx="321.25" cy="223.88" r="1.0" fill="#ff2020"/>
<line x1="340.80" y1="207.00" x2="340.80" y2="213.75" stroke="#ff3c3c" stroke-width="0.7" />
<line x1="339.70" y1="207.00" x2="341.90" y2="207.00" stroke="#ff3c3c" stroke-width="0.7" />
<line x1="339.70" y1="213.75" x2="341.90" y2="213.75" stroke="#ff3c3c" stroke-width="0.7" />
<circle cx="340.80" cy="210.38" r="1.0" fill="#ff2020"/>
<line x1="360.35" y1="198.22" x2="360.35" y2="204.97" stroke="#ff3c3c" stroke-width="0.7" />
<line x1="359.25" y1="198.22" x2="361.45" y2="198.22" stroke="#ff3c3c" stroke-width="0.7" />
<line x1="359.25" y1="204.97" x2="361.45" y2="204.97" stroke="#ff3c3c" stroke-width="0.7" />
<circle cx="360.35" cy="201.60" r="1.0" fill="#ff2020"/>
<line x1="379.90" y1="189.59" x2="379.90" y2="199.03" stroke="#ff3c3c" stroke-width="0.7" />
<line x1="378.80" y1="189.59" x2="381.00" y2="189.59" stroke="#ff3c3c" stroke-width="0.7" />
<line x1="378.80" y1="199.03" x2="381.00" y2="199.03" stroke="#ff3c3c" stroke-width="0.7" />
<circle cx="379.90" cy="194.31" r="1.0" fill="#ff2020"/>
<line x1="399.45" y1="174.87" x2="399.45" y2="180.27" stroke="#ff3c3c" stroke-width="0.7" />
<line x1="398.35" y1="174.87" x2="400.55" y2="174.87" stroke="#ff3c3c" stroke-width="0.7" />
<line x1="398.35" y1="180.27" x2="400.55" y2="180.27" stroke="#ff3c3c" stroke-width="0.7" />
<circle cx="399.45" cy="177.57" r="1.0" fill="#ff2020"/>
<line x1="267.80" y1="172.40" x2="277.70" y2="172.40" stroke="#22e4b4" stroke-width="0.9" />
<circle cx="272.75" cy="172.40" r="1.25" fill="#12d8a0"/>
<text x="283.70" y="175.21" font-size="7.8" fill="#303030" stroke="#303030" stroke-width="0.16">1<tspan font-size="8.97" dy="0.47">×</tspan><tspan dy="-0.47">10</tspan><tspan font-size="5.77" dy="-4.06">4</tspan></text>
<line x1="267.80" y1="181.50" x2="277.70" y2="181.50" stroke="#1fa8c2" stroke-width="0.9" />
<circle cx="272.75" cy="181.50" r="1.25" fill="#118ca8"/>
<text x="283.70" y="184.31" font-size="7.8" fill="#303030" stroke="#303030" stroke-width="0.16">1<tspan font-size="8.97" dy="0.47">×</tspan><tspan dy="-0.47">10</tspan><tspan font-size="5.77" dy="-4.06">5</tspan></text>
<line x1="267.80" y1="196.00" x2="277.70" y2="196.00" stroke="#3a3af2" stroke-width="0.9" />
<circle cx="272.75" cy="196.00" r="1.25" fill="#2020e0"/>
<text x="283.70" y="198.81" font-size="7.8" fill="#303030" stroke="#303030" stroke-width="0.16">1<tspan font-size="8.97" dy="0.47">×</tspan><tspan dy="-0.47">10</tspan><tspan font-size="5.77" dy="-4.06">6</tspan></text>
<line x1="267.80" y1="205.50" x2="277.70" y2="205.50" stroke="#a040d0" stroke-width="0.9" />
<circle cx="272.75" cy="205.50" r="1.25" fill="#8a20b8"/>
<text x="283.70" y="208.31" font-size="7.8" fill="#303030" stroke="#303030" stroke-width="0.16">1<tspan font-size="8.97" dy="0.47">×</tspan><tspan dy="-0.47">10</tspan><tspan font-size="5.77" dy="-4.06">7</tspan></text>
<line x1="267.80" y1="214.80" x2="277.70" y2="214.80" stroke="#ff3c3c" stroke-width="0.9" />
<circle cx="272.75" cy="214.80" r="1.25" fill="#ff2020"/>
<text x="283.70" y="217.61" font-size="7.8" fill="#303030" stroke="#303030" stroke-width="0.16">1<tspan font-size="8.97" dy="0.47">×</tspan><tspan dy="-0.47">10</tspan><tspan font-size="5.77" dy="-4.06">8</tspan></text>
<line x1="267.80" y1="224.70" x2="277.70" y2="224.70" stroke="#777" stroke-width="0.9" />
<circle cx="272.75" cy="224.70" r="1.6" fill="#000"/>
<text x="283.70" y="227.51" font-size="7.8" text-anchor="start" font-weight="normal" fill="#303030" stroke="#303030" stroke-width="0.16" >CK</text>
<text x="309.50" y="176.30" font-size="6.9" text-anchor="start" font-weight="normal" fill="#303030" stroke="#303030" stroke-width="0.16" >HNQLZ200714</text>
<text transform="translate(233.10,258.66) rotate(-90)" font-size="7.7" fill="#303030" stroke="#303030" stroke-width="0.16" textLength="86.72" lengthAdjust="spacingAndGlyphs">Cumulative mortality rate</text>
<text transform="translate(242.50,256.66) rotate(-90)" font-size="7.7" fill="#303030" stroke="#303030" stroke-width="0.16" textLength="82.72" lengthAdjust="spacingAndGlyphs">of 3rd instar larvaes(%)</text>
<line x1="51.20" y1="291.30" x2="51.20" y2="391.80" stroke="#6a6a6a" stroke-width="0.8" />
<line x1="48.40" y1="385.00" x2="51.20" y2="385.00" stroke="#6a6a6a" stroke-width="0.8" />
<text x="47.00" y="387.63" font-size="7.3" text-anchor="end" font-weight="normal" fill="#303030" stroke="#303030" stroke-width="0.16" >0</text>
<line x1="48.40" y1="356.30" x2="51.20" y2="356.30" stroke="#6a6a6a" stroke-width="0.8" />
<text x="47.00" y="358.93" font-size="7.3" text-anchor="end" font-weight="normal" fill="#303030" stroke="#303030" stroke-width="0.16" >20</text>
<line x1="48.40" y1="327.60" x2="51.20" y2="327.60" stroke="#6a6a6a" stroke-width="0.8" />
<text x="47.00" y="330.23" font-size="7.3" text-anchor="end" font-weight="normal" fill="#303030" stroke="#303030" stroke-width="0.16" >40</text>
<line x1="48.40" y1="298.90" x2="51.20" y2="298.90" stroke="#6a6a6a" stroke-width="0.8" />
<text x="47.00" y="301.53" font-size="7.3" text-anchor="end" font-weight="normal" fill="#303030" stroke="#303030" stroke-width="0.16" >60</text>
<line x1="49.60" y1="370.65" x2="51.20" y2="370.65" stroke="#6a6a6a" stroke-width="0.8" />
<line x1="49.60" y1="341.95" x2="51.20" y2="341.95" stroke="#6a6a6a" stroke-width="0.8" />
<line x1="49.60" y1="313.25" x2="51.20" y2="313.25" stroke="#6a6a6a" stroke-width="0.8" />
<line x1="51.20" y1="391.80" x2="201.80" y2="391.80" stroke="#6a6a6a" stroke-width="0.8" />
<line x1="53.40" y1="391.80" x2="53.40" y2="394.00" stroke="#6a6a6a" stroke-width="0.8" />
<text x="53.40" y="404.20" font-size="7.3" text-anchor="middle" font-weight="normal" fill="#303030" stroke="#303030" stroke-width="0.16" >1</text>
<line x1="63.73" y1="391.80" x2="63.73" y2="393.10" stroke="#6a6a6a" stroke-width="0.8" />
<line x1="74.06" y1="391.80" x2="74.06" y2="394.00" stroke="#6a6a6a" stroke-width="0.8" />
<text x="74.06" y="404.20" font-size="7.3" text-anchor="middle" font-weight="normal" fill="#303030" stroke="#303030" stroke-width="0.16" >2</text>
<line x1="84.39" y1="391.80" x2="84.39" y2="393.10" stroke="#6a6a6a" stroke-width="0.8" />
<line x1="94.72" y1="391.80" x2="94.72" y2="394.00" stroke="#6a6a6a" stroke-width="0.8" />
<text x="94.72" y="404.20" font-size="7.3" text-anchor="middle" font-weight="normal" fill="#303030" stroke="#303030" stroke-width="0.16" >3</text>
<line x1="105.05" y1="391.80" x2="105.05" y2="393.10" stroke="#6a6a6a" stroke-width="0.8" />
<line x1="115.38" y1="391.80" x2="115.38" y2="394.00" stroke="#6a6a6a" stroke-width="0.8" />
<text x="115.38" y="404.20" font-size="7.3" text-anchor="middle" font-weight="normal" fill="#303030" stroke="#303030" stroke-width="0.16" >4</text>
<line x1="125.71" y1="391.80" x2="125.71" y2="393.10" stroke="#6a6a6a" stroke-width="0.8" />
<line x1="136.04" y1="391.80" x2="136.04" y2="394.00" stroke="#6a6a6a" stroke-width="0.8" />
<text x="136.04" y="404.20" font-size="7.3" text-anchor="middle" font-weight="normal" fill="#303030" stroke="#303030" stroke-width="0.16" >5</text>
<line x1="146.37" y1="391.80" x2="146.37" y2="393.10" stroke="#6a6a6a" stroke-width="0.8" />
<line x1="156.70" y1="391.80" x2="156.70" y2="394.00" stroke="#6a6a6a" stroke-width="0.8" />
<text x="156.70" y="404.20" font-size="7.3" text-anchor="middle" font-weight="normal" fill="#303030" stroke="#303030" stroke-width="0.16" >6</text>
<line x1="167.03" y1="391.80" x2="167.03" y2="393.10" stroke="#6a6a6a" stroke-width="0.8" />
<line x1="177.36" y1="391.80" x2="177.36" y2="394.00" stroke="#6a6a6a" stroke-width="0.8" />
<text x="177.36" y="404.20" font-size="7.3" text-anchor="middle" font-weight="normal" fill="#303030" stroke="#303030" stroke-width="0.16" >7</text>
<line x1="187.69" y1="391.80" x2="187.69" y2="393.10" stroke="#6a6a6a" stroke-width="0.8" />
<line x1="198.02" y1="391.80" x2="198.02" y2="394.00" stroke="#6a6a6a" stroke-width="0.8" />
<text x="198.02" y="404.20" font-size="7.3" text-anchor="middle" font-weight="normal" fill="#303030" stroke="#303030" stroke-width="0.16" >8</text>
<text x="127.00" y="415.90" font-size="7.9" text-anchor="middle" font-weight="normal" fill="#303030" stroke="#303030" stroke-width="0.16" >Days</text>
<line x1="51.20" y1="313.25" x2="201.00" y2="313.25" stroke="#666" stroke-width="0.8" stroke-dasharray="1.7,1.8"/>
<line x1="53.40" y1="385.00" x2="198.02" y2="385.00" stroke="#666" stroke-width="0.9" />
<circle cx="53.40" cy="385.00" r="1.5" fill="#000"/>
<circle cx="74.06" cy="385.00" r="1.5" fill="#000"/>
<circle cx="94.72" cy="385.00" r="1.5" fill="#000"/>
<circle cx="115.38" cy="385.00" r="1.5" fill="#000"/>
<circle cx="136.04" cy="385.00" r="1.5" fill="#000"/>
<circle cx="156.70" cy="385.00" r="1.5" fill="#000"/>
<circle cx="177.36" cy="385.00" r="1.5" fill="#000"/>
<circle cx="198.02" cy="385.00" r="1.5" fill="#000"/>
<polyline points="53.40,385.00 74.06,384.57 94.72,382.85 115.38,378.54 136.04,376.96 156.70,373.23 177.36,372.08 198.02,367.78" fill="none" stroke="#22e4b4" stroke-width="0.9"/>
<circle cx="53.40" cy="385.00" r="1.0" fill="#12d8a0"/>
<circle cx="74.06" cy="384.57" r="1.0" fill="#12d8a0"/>
<circle cx="94.72" cy="382.85" r="1.0" fill="#12d8a0"/>
<circle cx="115.38" cy="378.54" r="1.0" fill="#12d8a0"/>
<line x1="136.04" y1="374.09" x2="136.04" y2="379.83" stroke="#22e4b4" stroke-width="0.7" />
<line x1="134.94" y1="374.09" x2="137.14" y2="374.09" stroke="#22e4b4" stroke-width="0.7" />
<line x1="134.94" y1="379.83" x2="137.14" y2="379.83" stroke="#22e4b4" stroke-width="0.7" />
<circle cx="136.04" cy="376.96" r="1.0" fill="#12d8a0"/>
<line x1="156.70" y1="370.36" x2="156.70" y2="376.10" stroke="#22e4b4" stroke-width="0.7" />
<line x1="155.60" y1="370.36" x2="157.80" y2="370.36" stroke="#22e4b4" stroke-width="0.7" />
<line x1="155.60" y1="376.10" x2="157.80" y2="376.10" stroke="#22e4b4" stroke-width="0.7" />
<circle cx="156.70" cy="373.23" r="1.0" fill="#12d8a0"/>
<line x1="177.36" y1="369.21" x2="177.36" y2="374.95" stroke="#22e4b4" stroke-width="0.7" />
<line x1="176.26" y1="369.21" x2="178.46" y2="369.21" stroke="#22e4b4" stroke-width="0.7" />
<line x1="176.26" y1="374.95" x2="178.46" y2="374.95" stroke="#22e4b4" stroke-width="0.7" />
<circle cx="177.36" cy="372.08" r="1.0" fill="#12d8a0"/>
<line x1="198.02" y1="366.34" x2="198.02" y2="369.21" stroke="#22e4b4" stroke-width="0.7" />
<line x1="196.92" y1="366.34" x2="199.12" y2="366.34" stroke="#22e4b4" stroke-width="0.7" />
<line x1="196.92" y1="369.21" x2="199.12" y2="369.21" stroke="#22e4b4" stroke-width="0.7" />
<circle cx="198.02" cy="367.78" r="1.0" fill="#12d8a0"/>
<polyline points="53.40,385.00 74.06,383.85 94.72,380.69 115.38,375.39 136.04,371.80 156.70,364.19 177.36,360.61 198.02,356.30" fill="none" stroke="#1fa8c2" stroke-width="0.9"/>
<circle cx="53.40" cy="385.00" r="1.0" fill="#118ca8"/>
<circle cx="74.06" cy="383.85" r="1.0" fill="#118ca8"/>
<circle cx="94.72" cy="380.69" r="1.0" fill="#118ca8"/>
<circle cx="115.38" cy="375.39" r="1.0" fill="#118ca8"/>
<line x1="136.04" y1="368.93" x2="136.04" y2="374.67" stroke="#1fa8c2" stroke-width="0.7" />
<line x1="134.94" y1="368.93" x2="137.14" y2="368.93" stroke="#1fa8c2" stroke-width="0.7" />
<line x1="134.94" y1="374.67" x2="137.14" y2="374.67" stroke="#1fa8c2" stroke-width="0.7" />
<circle cx="136.04" cy="371.80" r="1.0" fill="#118ca8"/>
<line x1="156.70" y1="362.76" x2="156.70" y2="365.63" stroke="#1fa8c2" stroke-width="0.7" />
<line x1="155.60" y1="362.76" x2="157.80" y2="362.76" stroke="#1fa8c2" stroke-width="0.7" />
<line x1="155.60" y1="365.63" x2="157.80" y2="365.63" stroke="#1fa8c2" stroke-width="0.7" />
<circle cx="156.70" cy="364.19" r="1.0" fill="#118ca8"/>
<line x1="177.36" y1="358.45" x2="177.36" y2="362.76" stroke="#1fa8c2" stroke-width="0.7" />
<line x1="176.26" y1="358.45" x2="178.46" y2="358.45" stroke="#1fa8c2" stroke-width="0.7" />
<line x1="176.26" y1="362.76" x2="178.46" y2="362.76" stroke="#1fa8c2" stroke-width="0.7" />
<circle cx="177.36" cy="360.61" r="1.0" fill="#118ca8"/>
<line x1="198.02" y1="350.56" x2="198.02" y2="362.04" stroke="#1fa8c2" stroke-width="0.7" />
<line x1="196.92" y1="350.56" x2="199.12" y2="350.56" stroke="#1fa8c2" stroke-width="0.7" />
<line x1="196.92" y1="362.04" x2="199.12" y2="362.04" stroke="#1fa8c2" stroke-width="0.7" />
<circle cx="198.02" cy="356.30" r="1.0" fill="#118ca8"/>
<polyline points="53.40,383.28 74.06,382.42 94.72,379.26 115.38,370.94 136.04,363.48 156.70,349.84 177.36,343.38 198.02,331.19" fill="none" stroke="#3a3af2" stroke-width="0.9"/>
<circle cx="53.40" cy="383.28" r="1.0" fill="#2020e0"/>
<circle cx="74.06" cy="382.42" r="1.0" fill="#2020e0"/>
<line x1="94.72" y1="376.39" x2="94.72" y2="382.13" stroke="#3a3af2" stroke-width="0.7" />
<line x1="93.62" y1="376.39" x2="95.82" y2="376.39" stroke="#3a3af2" stroke-width="0.7" />
<line x1="93.62" y1="382.13" x2="95.82" y2="382.13" stroke="#3a3af2" stroke-width="0.7" />
<circle cx="94.72" cy="379.26" r="1.0" fill="#2020e0"/>
<line x1="115.38" y1="367.35" x2="115.38" y2="374.52" stroke="#3a3af2" stroke-width="0.7" />
<line x1="114.28" y1="367.35" x2="116.48" y2="367.35" stroke="#3a3af2" stroke-width="0.7" />
<line x1="114.28" y1="374.52" x2="116.48" y2="374.52" stroke="#3a3af2" stroke-width="0.7" />
<circle cx="115.38" cy="370.94" r="1.0" fill="#2020e0"/>
<line x1="136.04" y1="361.32" x2="136.04" y2="365.63" stroke="#3a3af2" stroke-width="0.7" />
<line x1="134.94" y1="361.32" x2="137.14" y2="361.32" stroke="#3a3af2" stroke-width="0.7" />
<line x1="134.94" y1="365.63" x2="137.14" y2="365.63" stroke="#3a3af2" stroke-width="0.7" />
<circle cx="136.04" cy="363.48" r="1.0" fill="#2020e0"/>
<line x1="156.70" y1="346.97" x2="156.70" y2="352.71" stroke="#3a3af2" stroke-width="0.7" />
<line x1="155.60" y1="346.97" x2="157.80" y2="346.97" stroke="#3a3af2" stroke-width="0.7" />
<line x1="155.60" y1="352.71" x2="157.80" y2="352.71" stroke="#3a3af2" stroke-width="0.7" />
<circle cx="156.70" cy="349.84" r="1.0" fill="#2020e0"/>
<line x1="177.36" y1="339.08" x2="177.36" y2="347.69" stroke="#3a3af2" stroke-width="0.7" />
<line x1="176.26" y1="339.08" x2="178.46" y2="339.08" stroke="#3a3af2" stroke-width="0.7" />
<line x1="176.26" y1="347.69" x2="178.46" y2="347.69" stroke="#3a3af2" stroke-width="0.7" />
<circle cx="177.36" cy="343.38" r="1.0" fill="#2020e0"/>
<line x1="198.02" y1="328.32" x2="198.02" y2="334.06" stroke="#3a3af2" stroke-width="0.7" />
<line x1="196.92" y1="328.32" x2="199.12" y2="328.32" stroke="#3a3af2" stroke-width="0.7" />
<line x1="196.92" y1="334.06" x2="199.12" y2="334.06" stroke="#3a3af2" stroke-width="0.7" />
<circle cx="198.02" cy="331.19" r="1.0" fill="#2020e0"/>
<polyline points="53.40,382.42 74.06,380.69 94.72,363.48 115.38,351.56 136.04,335.78 156.70,325.73 177.36,312.10 198.02,308.08" fill="none" stroke="#a040d0" stroke-width="0.9"/>
<circle cx="53.40" cy="382.42" r="1.0" fill="#8a20b8"/>
<line x1="74.06" y1="379.26" x2="74.06" y2="382.13" stroke="#a040d0" stroke-width="0.7" />
<line x1="72.96" y1="379.26" x2="75.16" y2="379.26" stroke="#a040d0" stroke-width="0.7" />
<line x1="72.96" y1="382.13" x2="75.16" y2="382.13" stroke="#a040d0" stroke-width="0.7" />
<circle cx="74.06" cy="380.69" r="1.0" fill="#8a20b8"/>
<line x1="94.72" y1="358.45" x2="94.72" y2="368.50" stroke="#a040d0" stroke-width="0.7" />
<line x1="93.62" y1="358.45" x2="95.82" y2="358.45" stroke="#a040d0" stroke-width="0.7" />
<line x1="93.62" y1="368.50" x2="95.82" y2="368.50" stroke="#a040d0" stroke-width="0.7" />
<circle cx="94.72" cy="363.48" r="1.0" fill="#8a20b8"/>
<line x1="115.38" y1="347.26" x2="115.38" y2="355.87" stroke="#a040d0" stroke-width="0.7" />
<line x1="114.28" y1="347.26" x2="116.48" y2="347.26" stroke="#a040d0" stroke-width="0.7" />
<line x1="114.28" y1="355.87" x2="116.48" y2="355.87" stroke="#a040d0" stroke-width="0.7" />
<circle cx="115.38" cy="351.56" r="1.0" fill="#8a20b8"/>
<line x1="136.04" y1="331.47" x2="136.04" y2="340.08" stroke="#a040d0" stroke-width="0.7" />
<line x1="134.94" y1="331.47" x2="137.14" y2="331.47" stroke="#a040d0" stroke-width="0.7" />
<line x1="134.94" y1="340.08" x2="137.14" y2="340.08" stroke="#a040d0" stroke-width="0.7" />
<circle cx="136.04" cy="335.78" r="1.0" fill="#8a20b8"/>
<line x1="156.70" y1="322.15" x2="156.70" y2="329.32" stroke="#a040d0" stroke-width="0.7" />
<line x1="155.60" y1="322.15" x2="157.80" y2="322.15" stroke="#a040d0" stroke-width="0.7" />
<line x1="155.60" y1="329.32" x2="157.80" y2="329.32" stroke="#a040d0" stroke-width="0.7" />
<circle cx="156.70" cy="325.73" r="1.0" fill="#8a20b8"/>
<line x1="177.36" y1="309.95" x2="177.36" y2="314.25" stroke="#a040d0" stroke-width="0.7" />
<line x1="176.26" y1="309.95" x2="178.46" y2="309.95" stroke="#a040d0" stroke-width="0.7" />
<line x1="176.26" y1="314.25" x2="178.46" y2="314.25" stroke="#a040d0" stroke-width="0.7" />
<circle cx="177.36" cy="312.10" r="1.0" fill="#8a20b8"/>
<line x1="198.02" y1="305.21" x2="198.02" y2="310.95" stroke="#a040d0" stroke-width="0.7" />
<line x1="196.92" y1="305.21" x2="199.12" y2="305.21" stroke="#a040d0" stroke-width="0.7" />
<line x1="196.92" y1="310.95" x2="199.12" y2="310.95" stroke="#a040d0" stroke-width="0.7" />
<circle cx="198.02" cy="308.08" r="1.0" fill="#8a20b8"/>
<polyline points="53.40,380.69 74.06,374.24 94.72,360.61 115.38,348.26 136.04,322.15 156.70,310.38 177.36,302.77 198.02,293.16" fill="none" stroke="#ff3c3c" stroke-width="0.9"/>
<circle cx="53.40" cy="380.69" r="1.0" fill="#ff2020"/>
<line x1="74.06" y1="372.80" x2="74.06" y2="375.67" stroke="#ff3c3c" stroke-width="0.7" />
<line x1="72.96" y1="372.80" x2="75.16" y2="372.80" stroke="#ff3c3c" stroke-width="0.7" />
<line x1="72.96" y1="375.67" x2="75.16" y2="375.67" stroke="#ff3c3c" stroke-width="0.7" />
<circle cx="74.06" cy="374.24" r="1.0" fill="#ff2020"/>
<line x1="94.72" y1="357.74" x2="94.72" y2="363.48" stroke="#ff3c3c" stroke-width="0.7" />
<line x1="93.62" y1="357.74" x2="95.82" y2="357.74" stroke="#ff3c3c" stroke-width="0.7" />
<line x1="93.62" y1="363.48" x2="95.82" y2="363.48" stroke="#ff3c3c" stroke-width="0.7" />
<circle cx="94.72" cy="360.61" r="1.0" fill="#ff2020"/>
<line x1="115.38" y1="345.39" x2="115.38" y2="351.13" stroke="#ff3c3c" stroke-width="0.7" />
<line x1="114.28" y1="345.39" x2="116.48" y2="345.39" stroke="#ff3c3c" stroke-width="0.7" />
<line x1="114.28" y1="351.13" x2="116.48" y2="351.13" stroke="#ff3c3c" stroke-width="0.7" />
<circle cx="115.38" cy="348.26" r="1.0" fill="#ff2020"/>
<line x1="136.04" y1="313.54" x2="136.04" y2="330.76" stroke="#ff3c3c" stroke-width="0.7" />
<line x1="134.94" y1="313.54" x2="137.14" y2="313.54" stroke="#ff3c3c" stroke-width="0.7" />
<line x1="134.94" y1="330.76" x2="137.14" y2="330.76" stroke="#ff3c3c" stroke-width="0.7" />
<circle cx="136.04" cy="322.15" r="1.0" fill="#ff2020"/>
<line x1="156.70" y1="307.51" x2="156.70" y2="313.25" stroke="#ff3c3c" stroke-width="0.7" />
<line x1="155.60" y1="307.51" x2="157.80" y2="307.51" stroke="#ff3c3c" stroke-width="0.7" />
<line x1="155.60" y1="313.25" x2="157.80" y2="313.25" stroke="#ff3c3c" stroke-width="0.7" />
<circle cx="156.70" cy="310.38" r="1.0" fill="#ff2020"/>
<line x1="177.36" y1="300.62" x2="177.36" y2="304.93" stroke="#ff3c3c" stroke-width="0.7" />
<line x1="176.26" y1="300.62" x2="178.46" y2="300.62" stroke="#ff3c3c" stroke-width="0.7" />
<line x1="176.26" y1="304.93" x2="178.46" y2="304.93" stroke="#ff3c3c" stroke-width="0.7" />
<circle cx="177.36" cy="302.77" r="1.0" fill="#ff2020"/>
<line x1="198.02" y1="291.01" x2="198.02" y2="295.31" stroke="#ff3c3c" stroke-width="0.7" />
<line x1="196.92" y1="291.01" x2="199.12" y2="291.01" stroke="#ff3c3c" stroke-width="0.7" />
<line x1="196.92" y1="295.31" x2="199.12" y2="295.31" stroke="#ff3c3c" stroke-width="0.7" />
<circle cx="198.02" cy="293.16" r="1.0" fill="#ff2020"/>
<line x1="61.00" y1="295.80" x2="71.60" y2="295.80" stroke="#22e4b4" stroke-width="0.9" />
<circle cx="66.30" cy="295.80" r="1.25" fill="#12d8a0"/>
<text x="78.20" y="298.75" font-size="8.2" fill="#303030" stroke="#303030" stroke-width="0.16">1<tspan font-size="9.43" dy="0.49">×</tspan><tspan dy="-0.49">10</tspan><tspan font-size="6.07" dy="-4.26">4</tspan></text>
<line x1="61.00" y1="306.00" x2="71.60" y2="306.00" stroke="#1fa8c2" stroke-width="0.9" />
<circle cx="66.30" cy="306.00" r="1.25" fill="#118ca8"/>
<text x="78.20" y="308.95" font-size="8.2" fill="#303030" stroke="#303030" stroke-width="0.16">1<tspan font-size="9.43" dy="0.49">×</tspan><tspan dy="-0.49">10</tspan><tspan font-size="6.07" dy="-4.26">5</tspan></text>
<line x1="61.00" y1="320.10" x2="71.60" y2="320.10" stroke="#3a3af2" stroke-width="0.9" />
<circle cx="66.30" cy="320.10" r="1.25" fill="#2020e0"/>
<text x="78.20" y="323.05" font-size="8.2" fill="#303030" stroke="#303030" stroke-width="0.16">1<tspan font-size="9.43" dy="0.49">×</tspan><tspan dy="-0.49">10</tspan><tspan font-size="6.07" dy="-4.26">6</tspan></text>
<line x1="61.00" y1="329.70" x2="71.60" y2="329.70" stroke="#a040d0" stroke-width="0.9" />
<circle cx="66.30" cy="329.70" r="1.25" fill="#8a20b8"/>
<text x="78.20" y="332.65" font-size="8.2" fill="#303030" stroke="#303030" stroke-width="0.16">1<tspan font-size="9.43" dy="0.49">×</tspan><tspan dy="-0.49">10</tspan><tspan font-size="6.07" dy="-4.26">7</tspan></text>
<line x1="61.00" y1="339.80" x2="71.60" y2="339.80" stroke="#ff3c3c" stroke-width="0.9" />
<circle cx="66.30" cy="339.80" r="1.25" fill="#ff2020"/>
<text x="78.20" y="342.75" font-size="8.2" fill="#303030" stroke="#303030" stroke-width="0.16">1<tspan font-size="9.43" dy="0.49">×</tspan><tspan dy="-0.49">10</tspan><tspan font-size="6.07" dy="-4.26">8</tspan></text>
<line x1="61.00" y1="349.20" x2="71.60" y2="349.20" stroke="#777" stroke-width="0.9" />
<circle cx="66.30" cy="349.20" r="1.6" fill="#000"/>
<text x="78.20" y="352.15" font-size="8.2" text-anchor="start" font-weight="normal" fill="#303030" stroke="#303030" stroke-width="0.16" >CK</text>
<text x="105.00" y="298.00" font-size="7.35" text-anchor="start" font-weight="normal" fill="#303030" stroke="#303030" stroke-width="0.16" >XSBN200920</text>
<text transform="translate(23.10,388.98) rotate(-90)" font-size="8.0" fill="#303030" stroke="#303030" stroke-width="0.16" textLength="93.36" lengthAdjust="spacingAndGlyphs">Cumulative mortality rate</text>
<text transform="translate(33.00,385.48) rotate(-90)" font-size="8.0" fill="#303030" stroke="#303030" stroke-width="0.16" textLength="87.16" lengthAdjust="spacingAndGlyphs">of 5th instar larvaes(%)</text>
<line x1="260.60" y1="293.00" x2="260.60" y2="391.00" stroke="#6a6a6a" stroke-width="0.8" />
<line x1="257.80" y1="384.00" x2="260.60" y2="384.00" stroke="#6a6a6a" stroke-width="0.8" />
<text x="256.40" y="386.63" font-size="7.3" text-anchor="end" font-weight="normal" fill="#303030" stroke="#303030" stroke-width="0.16" >0</text>
<line x1="257.80" y1="356.20" x2="260.60" y2="356.20" stroke="#6a6a6a" stroke-width="0.8" />
<text x="256.40" y="358.83" font-size="7.3" text-anchor="end" font-weight="normal" fill="#303030" stroke="#303030" stroke-width="0.16" >20</text>
<line x1="257.80" y1="328.40" x2="260.60" y2="328.40" stroke="#6a6a6a" stroke-width="0.8" />
<text x="256.40" y="331.03" font-size="7.3" text-anchor="end" font-weight="normal" fill="#303030" stroke="#303030" stroke-width="0.16" >40</text>
<line x1="257.80" y1="300.60" x2="260.60" y2="300.60" stroke="#6a6a6a" stroke-width="0.8" />
<text x="256.40" y="303.23" font-size="7.3" text-anchor="end" font-weight="normal" fill="#303030" stroke="#303030" stroke-width="0.16" >60</text>
<line x1="259.00" y1="370.10" x2="260.60" y2="370.10" stroke="#6a6a6a" stroke-width="0.8" />
<line x1="259.00" y1="342.30" x2="260.60" y2="342.30" stroke="#6a6a6a" stroke-width="0.8" />
<line x1="259.00" y1="314.50" x2="260.60" y2="314.50" stroke="#6a6a6a" stroke-width="0.8" />
<line x1="260.60" y1="391.00" x2="407.40" y2="391.00" stroke="#6a6a6a" stroke-width="0.8" />
<line x1="262.60" y1="391.00" x2="262.60" y2="393.20" stroke="#6a6a6a" stroke-width="0.8" />
<text x="262.60" y="403.00" font-size="7.3" text-anchor="middle" font-weight="normal" fill="#303030" stroke="#303030" stroke-width="0.16" >1</text>
<line x1="272.65" y1="391.00" x2="272.65" y2="392.30" stroke="#6a6a6a" stroke-width="0.8" />
<line x1="282.70" y1="391.00" x2="282.70" y2="393.20" stroke="#6a6a6a" stroke-width="0.8" />
<text x="282.70" y="403.00" font-size="7.3" text-anchor="middle" font-weight="normal" fill="#303030" stroke="#303030" stroke-width="0.16" >2</text>
<line x1="292.75" y1="391.00" x2="292.75" y2="392.30" stroke="#6a6a6a" stroke-width="0.8" />
<line x1="302.80" y1="391.00" x2="302.80" y2="393.20" stroke="#6a6a6a" stroke-width="0.8" />
<text x="302.80" y="403.00" font-size="7.3" text-anchor="middle" font-weight="normal" fill="#303030" stroke="#303030" stroke-width="0.16" >3</text>
<line x1="312.85" y1="391.00" x2="312.85" y2="392.30" stroke="#6a6a6a" stroke-width="0.8" />
<line x1="322.90" y1="391.00" x2="322.90" y2="393.20" stroke="#6a6a6a" stroke-width="0.8" />
<text x="322.90" y="403.00" font-size="7.3" text-anchor="middle" font-weight="normal" fill="#303030" stroke="#303030" stroke-width="0.16" >4</text>
<line x1="332.95" y1="391.00" x2="332.95" y2="392.30" stroke="#6a6a6a" stroke-width="0.8" />
<line x1="343.00" y1="391.00" x2="343.00" y2="393.20" stroke="#6a6a6a" stroke-width="0.8" />
<text x="343.00" y="403.00" font-size="7.3" text-anchor="middle" font-weight="normal" fill="#303030" stroke="#303030" stroke-width="0.16" >5</text>
<line x1="353.05" y1="391.00" x2="353.05" y2="392.30" stroke="#6a6a6a" stroke-width="0.8" />
<line x1="363.10" y1="391.00" x2="363.10" y2="393.20" stroke="#6a6a6a" stroke-width="0.8" />
<text x="363.10" y="403.00" font-size="7.3" text-anchor="middle" font-weight="normal" fill="#303030" stroke="#303030" stroke-width="0.16" >6</text>
<line x1="373.15" y1="391.00" x2="373.15" y2="392.30" stroke="#6a6a6a" stroke-width="0.8" />
<line x1="383.20" y1="391.00" x2="383.20" y2="393.20" stroke="#6a6a6a" stroke-width="0.8" />
<text x="383.20" y="403.00" font-size="7.3" text-anchor="middle" font-weight="normal" fill="#303030" stroke="#303030" stroke-width="0.16" >7</text>
<line x1="393.25" y1="391.00" x2="393.25" y2="392.30" stroke="#6a6a6a" stroke-width="0.8" />
<line x1="403.30" y1="391.00" x2="403.30" y2="393.20" stroke="#6a6a6a" stroke-width="0.8" />
<text x="403.30" y="403.00" font-size="7.3" text-anchor="middle" font-weight="normal" fill="#303030" stroke="#303030" stroke-width="0.16" >8</text>
<text x="334.20" y="414.40" font-size="7.9" text-anchor="middle" font-weight="normal" fill="#303030" stroke="#303030" stroke-width="0.16" >Days</text>
<line x1="260.60" y1="314.50" x2="406.70" y2="314.50" stroke="#666" stroke-width="0.8" stroke-dasharray="1.7,1.8"/>
<line x1="262.60" y1="384.00" x2="403.30" y2="384.00" stroke="#666" stroke-width="0.9" />
<circle cx="262.60" cy="384.00" r="1.5" fill="#000"/>
<circle cx="282.70" cy="384.00" r="1.5" fill="#000"/>
<circle cx="302.80" cy="384.00" r="1.5" fill="#000"/>
<circle cx="322.90" cy="384.00" r="1.5" fill="#000"/>
<circle cx="343.00" cy="384.00" r="1.5" fill="#000"/>
<circle cx="363.10" cy="384.00" r="1.5" fill="#000"/>
<circle cx="383.20" cy="384.00" r="1.5" fill="#000"/>
<circle cx="403.30" cy="384.00" r="1.5" fill="#000"/>
<polyline points="262.60,384.00 282.70,382.89 302.80,381.36 322.90,379.27 343.00,378.02 363.10,375.38 383.20,371.91 403.30,370.10" fill="none" stroke="#22e4b4" stroke-width="0.9"/>
<circle cx="262.60" cy="384.00" r="1.0" fill="#12d8a0"/>
<circle cx="282.70" cy="382.89" r="1.0" fill="#12d8a0"/>
<line x1="302.80" y1="379.27" x2="302.80" y2="383.44" stroke="#22e4b4" stroke-width="0.7" />
<line x1="301.70" y1="379.27" x2="303.90" y2="379.27" stroke="#22e4b4" stroke-width="0.7" />
<line x1="301.70" y1="383.44" x2="303.90" y2="383.44" stroke="#22e4b4" stroke-width="0.7" />
<circle cx="302.80" cy="381.36" r="1.0" fill="#12d8a0"/>
<line x1="322.90" y1="376.49" x2="322.90" y2="382.05" stroke="#22e4b4" stroke-width="0.7" />
<line x1="321.80" y1="376.49" x2="324.00" y2="376.49" stroke="#22e4b4" stroke-width="0.7" />
<line x1="321.80" y1="382.05" x2="324.00" y2="382.05" stroke="#22e4b4" stroke-width="0.7" />
<circle cx="322.90" cy="379.27" r="1.0" fill="#12d8a0"/>
<line x1="343.00" y1="375.24" x2="343.00" y2="380.80" stroke="#22e4b4" stroke-width="0.7" />
<line x1="341.90" y1="375.24" x2="344.10" y2="375.24" stroke="#22e4b4" stroke-width="0.7" />
<line x1="341.90" y1="380.80" x2="344.10" y2="380.80" stroke="#22e4b4" stroke-width="0.7" />
<circle cx="343.00" cy="378.02" r="1.0" fill="#12d8a0"/>
<line x1="363.10" y1="371.91" x2="363.10" y2="378.86" stroke="#22e4b4" stroke-width="0.7" />
<line x1="362.00" y1="371.91" x2="364.20" y2="371.91" stroke="#22e4b4" stroke-width="0.7" />
<line x1="362.00" y1="378.86" x2="364.20" y2="378.86" stroke="#22e4b4" stroke-width="0.7" />
<circle cx="363.10" cy="375.38" r="1.0" fill="#12d8a0"/>
<line x1="383.20" y1="368.43" x2="383.20" y2="375.38" stroke="#22e4b4" stroke-width="0.7" />
<line x1="382.10" y1="368.43" x2="384.30" y2="368.43" stroke="#22e4b4" stroke-width="0.7" />
<line x1="382.10" y1="375.38" x2="384.30" y2="375.38" stroke="#22e4b4" stroke-width="0.7" />
<circle cx="383.20" cy="371.91" r="1.0" fill="#12d8a0"/>
<line x1="403.30" y1="367.32" x2="403.30" y2="372.88" stroke="#22e4b4" stroke-width="0.7" />
<line x1="402.20" y1="367.32" x2="404.40" y2="367.32" stroke="#22e4b4" stroke-width="0.7" />
<line x1="402.20" y1="372.88" x2="404.40" y2="372.88" stroke="#22e4b4" stroke-width="0.7" />
<circle cx="403.30" cy="370.10" r="1.0" fill="#12d8a0"/>
<polyline points="262.60,384.00 282.70,381.92 302.80,379.27 322.90,376.36 343.00,373.44 363.10,368.57 383.20,362.18 403.30,358.15" fill="none" stroke="#1fa8c2" stroke-width="0.9"/>
<circle cx="262.60" cy="384.00" r="1.0" fill="#118ca8"/>
<line x1="282.70" y1="379.83" x2="282.70" y2="384.00" stroke="#1fa8c2" stroke-width="0.7" />
<line x1="281.60" y1="379.83" x2="283.80" y2="379.83" stroke="#1fa8c2" stroke-width="0.7" />
<line x1="281.60" y1="384.00" x2="283.80" y2="384.00" stroke="#1fa8c2" stroke-width="0.7" />
<circle cx="282.70" cy="381.92" r="1.0" fill="#118ca8"/>
<line x1="302.80" y1="375.10" x2="302.80" y2="383.44" stroke="#1fa8c2" stroke-width="0.7" />
<line x1="301.70" y1="375.10" x2="303.90" y2="375.10" stroke="#1fa8c2" stroke-width="0.7" />
<line x1="301.70" y1="383.44" x2="303.90" y2="383.44" stroke="#1fa8c2" stroke-width="0.7" />
<circle cx="302.80" cy="379.27" r="1.0" fill="#118ca8"/>
<line x1="322.90" y1="372.19" x2="322.90" y2="380.53" stroke="#1fa8c2" stroke-width="0.7" />
<line x1="321.80" y1="372.19" x2="324.00" y2="372.19" stroke="#1fa8c2" stroke-width="0.7" />
<line x1="321.80" y1="380.53" x2="324.00" y2="380.53" stroke="#1fa8c2" stroke-width="0.7" />
<circle cx="322.90" cy="376.36" r="1.0" fill="#118ca8"/>
<line x1="343.00" y1="370.66" x2="343.00" y2="376.22" stroke="#1fa8c2" stroke-width="0.7" />
<line x1="341.90" y1="370.66" x2="344.10" y2="370.66" stroke="#1fa8c2" stroke-width="0.7" />
<line x1="341.90" y1="376.22" x2="344.10" y2="376.22" stroke="#1fa8c2" stroke-width="0.7" />
<circle cx="343.00" cy="373.44" r="1.0" fill="#118ca8"/>
<line x1="363.10" y1="365.79" x2="363.10" y2="371.35" stroke="#1fa8c2" stroke-width="0.7" />
<line x1="362.00" y1="365.79" x2="364.20" y2="365.79" stroke="#1fa8c2" stroke-width="0.7" />
<line x1="362.00" y1="371.35" x2="364.20" y2="371.35" stroke="#1fa8c2" stroke-width="0.7" />
<circle cx="363.10" cy="368.57" r="1.0" fill="#118ca8"/>
<line x1="383.20" y1="358.70" x2="383.20" y2="365.65" stroke="#1fa8c2" stroke-width="0.7" />
<line x1="382.10" y1="358.70" x2="384.30" y2="358.70" stroke="#1fa8c2" stroke-width="0.7" />
<line x1="382.10" y1="365.65" x2="384.30" y2="365.65" stroke="#1fa8c2" stroke-width="0.7" />
<circle cx="383.20" cy="362.18" r="1.0" fill="#118ca8"/>
<line x1="403.30" y1="355.37" x2="403.30" y2="360.93" stroke="#1fa8c2" stroke-width="0.7" />
<line x1="402.20" y1="355.37" x2="404.40" y2="355.37" stroke="#1fa8c2" stroke-width="0.7" />
<line x1="402.20" y1="360.93" x2="404.40" y2="360.93" stroke="#1fa8c2" stroke-width="0.7" />
<circle cx="403.30" cy="358.15" r="1.0" fill="#118ca8"/>
<polyline points="262.60,384.00 282.70,379.69 302.80,375.94 322.90,372.05 343.00,364.96 363.10,360.37 383.20,350.78 403.30,345.08" fill="none" stroke="#3a3af2" stroke-width="0.9"/>
<circle cx="262.60" cy="384.00" r="1.0" fill="#2020e0"/>
<line x1="282.70" y1="376.91" x2="282.70" y2="382.47" stroke="#3a3af2" stroke-width="0.7" />
<line x1="281.60" y1="376.91" x2="283.80" y2="376.91" stroke="#3a3af2" stroke-width="0.7" />
<line x1="281.60" y1="382.47" x2="283.80" y2="382.47" stroke="#3a3af2" stroke-width="0.7" />
<circle cx="282.70" cy="379.69" r="1.0" fill="#2020e0"/>
<line x1="302.80" y1="370.38" x2="302.80" y2="381.50" stroke="#3a3af2" stroke-width="0.7" />
<line x1="301.70" y1="370.38" x2="303.90" y2="370.38" stroke="#3a3af2" stroke-width="0.7" />
<line x1="301.70" y1="381.50" x2="303.90" y2="381.50" stroke="#3a3af2" stroke-width="0.7" />
<circle cx="302.80" cy="375.94" r="1.0" fill="#2020e0"/>
<line x1="322.90" y1="367.18" x2="322.90" y2="376.91" stroke="#3a3af2" stroke-width="0.7" />
<line x1="321.80" y1="367.18" x2="324.00" y2="367.18" stroke="#3a3af2" stroke-width="0.7" />
<line x1="321.80" y1="376.91" x2="324.00" y2="376.91" stroke="#3a3af2" stroke-width="0.7" />
<circle cx="322.90" cy="372.05" r="1.0" fill="#2020e0"/>
<line x1="343.00" y1="362.18" x2="343.00" y2="367.74" stroke="#3a3af2" stroke-width="0.7" />
<line x1="341.90" y1="362.18" x2="344.10" y2="362.18" stroke="#3a3af2" stroke-width="0.7" />
<line x1="341.90" y1="367.74" x2="344.10" y2="367.74" stroke="#3a3af2" stroke-width="0.7" />
<circle cx="343.00" cy="364.96" r="1.0" fill="#2020e0"/>
<line x1="363.10" y1="357.59" x2="363.10" y2="363.15" stroke="#3a3af2" stroke-width="0.7" />
<line x1="362.00" y1="357.59" x2="364.20" y2="357.59" stroke="#3a3af2" stroke-width="0.7" />
<line x1="362.00" y1="363.15" x2="364.20" y2="363.15" stroke="#3a3af2" stroke-width="0.7" />
<circle cx="363.10" cy="360.37" r="1.0" fill="#2020e0"/>
<line x1="383.20" y1="348.00" x2="383.20" y2="353.56" stroke="#3a3af2" stroke-width="0.7" />
<line x1="382.10" y1="348.00" x2="384.30" y2="348.00" stroke="#3a3af2" stroke-width="0.7" />
<line x1="382.10" y1="353.56" x2="384.30" y2="353.56" stroke="#3a3af2" stroke-width="0.7" />
<circle cx="383.20" cy="350.78" r="1.0" fill="#2020e0"/>
<line x1="403.30" y1="341.60" x2="403.30" y2="348.56" stroke="#3a3af2" stroke-width="0.7" />
<line x1="402.20" y1="341.60" x2="404.40" y2="341.60" stroke="#3a3af2" stroke-width="0.7" />
<line x1="402.20" y1="348.56" x2="404.40" y2="348.56" stroke="#3a3af2" stroke-width="0.7" />
<circle cx="403.30" cy="345.08" r="1.0" fill="#2020e0"/>
<polyline points="262.60,384.00 282.70,374.69 302.80,361.90 322.90,360.23 343.00,348.83 363.10,338.82 383.20,326.45 403.30,314.22" fill="none" stroke="#a040d0" stroke-width="0.9"/>
<circle cx="262.60" cy="384.00" r="1.0" fill="#8a20b8"/>
<line x1="282.70" y1="371.91" x2="282.70" y2="377.47" stroke="#a040d0" stroke-width="0.7" />
<line x1="281.60" y1="371.91" x2="283.80" y2="371.91" stroke="#a040d0" stroke-width="0.7" />
<line x1="281.60" y1="377.47" x2="283.80" y2="377.47" stroke="#a040d0" stroke-width="0.7" />
<circle cx="282.70" cy="374.69" r="1.0" fill="#8a20b8"/>
<line x1="302.80" y1="358.42" x2="302.80" y2="365.37" stroke="#a040d0" stroke-width="0.7" />
<line x1="301.70" y1="358.42" x2="303.90" y2="358.42" stroke="#a040d0" stroke-width="0.7" />
<line x1="301.70" y1="365.37" x2="303.90" y2="365.37" stroke="#a040d0" stroke-width="0.7" />
<circle cx="302.80" cy="361.90" r="1.0" fill="#8a20b8"/>
<line x1="322.90" y1="356.76" x2="322.90" y2="363.71" stroke="#a040d0" stroke-width="0.7" />
<line x1="321.80" y1="356.76" x2="324.00" y2="356.76" stroke="#a040d0" stroke-width="0.7" />
<line x1="321.80" y1="363.71" x2="324.00" y2="363.71" stroke="#a040d0" stroke-width="0.7" />
<circle cx="322.90" cy="360.23" r="1.0" fill="#8a20b8"/>
<line x1="343.00" y1="346.05" x2="343.00" y2="351.61" stroke="#a040d0" stroke-width="0.7" />
<line x1="341.90" y1="346.05" x2="344.10" y2="346.05" stroke="#a040d0" stroke-width="0.7" />
<line x1="341.90" y1="351.61" x2="344.10" y2="351.61" stroke="#a040d0" stroke-width="0.7" />
<circle cx="343.00" cy="348.83" r="1.0" fill="#8a20b8"/>
<line x1="363.10" y1="335.35" x2="363.10" y2="342.30" stroke="#a040d0" stroke-width="0.7" />
<line x1="362.00" y1="335.35" x2="364.20" y2="335.35" stroke="#a040d0" stroke-width="0.7" />
<line x1="362.00" y1="342.30" x2="364.20" y2="342.30" stroke="#a040d0" stroke-width="0.7" />
<circle cx="363.10" cy="338.82" r="1.0" fill="#8a20b8"/>
<line x1="383.20" y1="323.67" x2="383.20" y2="329.23" stroke="#a040d0" stroke-width="0.7" />
<line x1="382.10" y1="323.67" x2="384.30" y2="323.67" stroke="#a040d0" stroke-width="0.7" />
<line x1="382.10" y1="329.23" x2="384.30" y2="329.23" stroke="#a040d0" stroke-width="0.7" />
<circle cx="383.20" cy="326.45" r="1.0" fill="#8a20b8"/>
<line x1="403.30" y1="312.83" x2="403.30" y2="315.61" stroke="#a040d0" stroke-width="0.7" />
<line x1="402.20" y1="312.83" x2="404.40" y2="312.83" stroke="#a040d0" stroke-width="0.7" />
<line x1="402.20" y1="315.61" x2="404.40" y2="315.61" stroke="#a040d0" stroke-width="0.7" />
<circle cx="403.30" cy="314.22" r="1.0" fill="#8a20b8"/>
<polyline points="262.60,384.00 282.70,374.27 302.80,356.89 322.90,351.47 343.00,334.10 363.10,322.42 383.20,314.50 403.30,304.07" fill="none" stroke="#ff3c3c" stroke-width="0.9"/>
<circle cx="262.60" cy="384.00" r="1.0" fill="#ff2020"/>
<line x1="282.70" y1="370.10" x2="282.70" y2="378.44" stroke="#ff3c3c" stroke-width="0.7" />
<line x1="281.60" y1="370.10" x2="283.80" y2="370.10" stroke="#ff3c3c" stroke-width="0.7" />
<line x1="281.60" y1="378.44" x2="283.80" y2="378.44" stroke="#ff3c3c" stroke-width="0.7" />
<circle cx="282.70" cy="374.27" r="1.0" fill="#ff2020"/>
<line x1="302.80" y1="349.94" x2="302.80" y2="363.84" stroke="#ff3c3c" stroke-width="0.7" />
<line x1="301.70" y1="349.94" x2="303.90" y2="349.94" stroke="#ff3c3c" stroke-width="0.7" />
<line x1="301.70" y1="363.84" x2="303.90" y2="363.84" stroke="#ff3c3c" stroke-width="0.7" />
<circle cx="302.80" cy="356.89" r="1.0" fill="#ff2020"/>
<line x1="322.90" y1="345.91" x2="322.90" y2="357.03" stroke="#ff3c3c" stroke-width="0.7" />
<line x1="321.80" y1="345.91" x2="324.00" y2="345.91" stroke="#ff3c3c" stroke-width="0.7" />
<line x1="321.80" y1="357.03" x2="324.00" y2="357.03" stroke="#ff3c3c" stroke-width="0.7" />
<circle cx="322.90" cy="351.47" r="1.0" fill="#ff2020"/>
<line x1="343.00" y1="329.93" x2="343.00" y2="338.27" stroke="#ff3c3c" stroke-width="0.7" />
<line x1="341.90" y1="329.93" x2="344.10" y2="329.93" stroke="#ff3c3c" stroke-width="0.7" />
<line x1="341.90" y1="338.27" x2="344.10" y2="338.27" stroke="#ff3c3c" stroke-width="0.7" />
<circle cx="343.00" cy="334.10" r="1.0" fill="#ff2020"/>
<line x1="363.10" y1="318.25" x2="363.10" y2="326.59" stroke="#ff3c3c" stroke-width="0.7" />
<line x1="362.00" y1="318.25" x2="364.20" y2="318.25" stroke="#ff3c3c" stroke-width="0.7" />
<line x1="362.00" y1="326.59" x2="364.20" y2="326.59" stroke="#ff3c3c" stroke-width="0.7" />
<circle cx="363.10" cy="322.42" r="1.0" fill="#ff2020"/>
<line x1="383.20" y1="311.02" x2="383.20" y2="317.98" stroke="#ff3c3c" stroke-width="0.7" />
<line x1="382.10" y1="311.02" x2="384.30" y2="311.02" stroke="#ff3c3c" stroke-width="0.7" />
<line x1="382.10" y1="317.98" x2="384.30" y2="317.98" stroke="#ff3c3c" stroke-width="0.7" />
<circle cx="383.20" cy="314.50" r="1.0" fill="#ff2020"/>
<line x1="403.30" y1="300.60" x2="403.30" y2="307.55" stroke="#ff3c3c" stroke-width="0.7" />
<line x1="402.20" y1="300.60" x2="404.40" y2="300.60" stroke="#ff3c3c" stroke-width="0.7" />
<line x1="402.20" y1="307.55" x2="404.40" y2="307.55" stroke="#ff3c3c" stroke-width="0.7" />
<circle cx="403.30" cy="304.07" r="1.0" fill="#ff2020"/>
<line x1="264.20" y1="295.00" x2="275.00" y2="295.00" stroke="#22e4b4" stroke-width="0.9" />
<circle cx="269.60" cy="295.00" r="1.25" fill="#12d8a0"/>
<text x="280.50" y="297.95" font-size="8.2" fill="#303030" stroke="#303030" stroke-width="0.16">1<tspan font-size="9.43" dy="0.49">×</tspan><tspan dy="-0.49">10</tspan><tspan font-size="6.07" dy="-4.26">4</tspan></text>
<line x1="264.20" y1="305.40" x2="275.00" y2="305.40" stroke="#1fa8c2" stroke-width="0.9" />
<circle cx="269.60" cy="305.40" r="1.25" fill="#118ca8"/>
<text x="280.50" y="308.35" font-size="8.2" fill="#303030" stroke="#303030" stroke-width="0.16">1<tspan font-size="9.43" dy="0.49">×</tspan><tspan dy="-0.49">10</tspan><tspan font-size="6.07" dy="-4.26">5</tspan></text>
<line x1="264.20" y1="322.20" x2="275.00" y2="322.20" stroke="#3a3af2" stroke-width="0.9" />
<circle cx="269.60" cy="322.20" r="1.25" fill="#2020e0"/>
<text x="280.50" y="325.15" font-size="8.2" fill="#303030" stroke="#303030" stroke-width="0.16">1<tspan font-size="9.43" dy="0.49">×</tspan><tspan dy="-0.49">10</tspan><tspan font-size="6.07" dy="-4.26">6</tspan></text>
<line x1="264.20" y1="330.20" x2="275.00" y2="330.20" stroke="#a040d0" stroke-width="0.9" />
<circle cx="269.60" cy="330.20" r="1.25" fill="#8a20b8"/>
<text x="280.50" y="333.15" font-size="8.2" fill="#303030" stroke="#303030" stroke-width="0.16">1<tspan font-size="9.43" dy="0.49">×</tspan><tspan dy="-0.49">10</tspan><tspan font-size="6.07" dy="-4.26">7</tspan></text>
<line x1="264.20" y1="339.60" x2="275.00" y2="339.60" stroke="#ff3c3c" stroke-width="0.9" />
<circle cx="269.60" cy="339.60" r="1.25" fill="#ff2020"/>
<text x="280.50" y="342.55" font-size="8.2" fill="#303030" stroke="#303030" stroke-width="0.16">1<tspan font-size="9.43" dy="0.49">×</tspan><tspan dy="-0.49">10</tspan><tspan font-size="6.07" dy="-4.26">8</tspan></text>
<line x1="264.20" y1="348.90" x2="275.00" y2="348.90" stroke="#777" stroke-width="0.9" />
<circle cx="269.60" cy="348.90" r="1.6" fill="#000"/>
<text x="280.50" y="351.85" font-size="8.2" text-anchor="start" font-weight="normal" fill="#303030" stroke="#303030" stroke-width="0.16" >CK</text>
<text x="309.30" y="298.90" font-size="7.3" text-anchor="start" font-weight="normal" fill="#303030" stroke="#303030" stroke-width="0.16" >HNQLZ200714</text>
<text transform="translate(233.10,387.28) rotate(-90)" font-size="8.0" fill="#303030" stroke="#303030" stroke-width="0.16" textLength="89.86" lengthAdjust="spacingAndGlyphs">Cumulative mortality rate</text>
<text transform="translate(242.50,384.98) rotate(-90)" font-size="8.0" fill="#303030" stroke="#303030" stroke-width="0.16" textLength="85.36" lengthAdjust="spacingAndGlyphs">of 5th instar larvaes(%)</text>
</svg></body></html>
